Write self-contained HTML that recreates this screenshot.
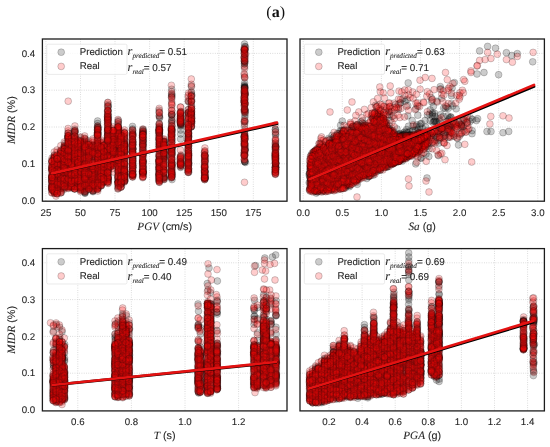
<!DOCTYPE html>
<html lang="en"><head><meta charset="utf-8"><title>(a)</title>
<style>
html,body{margin:0;padding:0;background:#fff}
svg{display:block}
text{text-rendering:geometricPrecision}
.s{font-family:"Liberation Sans",Arial,sans-serif;font-size:9.7px;fill:#262626;stroke:#262626;stroke-width:.1px}
.i{font-family:"Liberation Serif","Times New Roman",serif;font-style:italic;fill:#262626;stroke-width:.08px}
.g{stroke:#c9c9c9;stroke-width:.8;stroke-dasharray:.8 1.5;fill:none}
.k{fill:#000;fill-opacity:.2;stroke:#000;stroke-opacity:.22;stroke-width:.9}
.r{fill:#f00;fill-opacity:.2;stroke:#000;stroke-opacity:.22;stroke-width:.9}
.p{fill:none;stroke:none}
</style></head>
<body>
<svg width="550" height="447" viewBox="0 0 550 447">
<rect width="550" height="447" fill="#fff"/>
<defs><marker id="mk" markerUnits="userSpaceOnUse" markerWidth="8" markerHeight="8" refX="4" refY="4" overflow="visible"><circle class="k" cx="4" cy="4" r="3.4"/></marker><marker id="mr" markerUnits="userSpaceOnUse" markerWidth="8" markerHeight="8" refX="4" refY="4" overflow="visible"><circle class="r" cx="4" cy="4" r="3.4"/></marker><filter id="b" x="0" y="0" width="550" height="447" filterUnits="userSpaceOnUse"><feGaussianBlur stdDeviation="0.7"/></filter><filter id="b2" x="0" y="0" width="550" height="447" filterUnits="userSpaceOnUse"><feGaussianBlur stdDeviation="1.3"/></filter></defs>
<text x="275.7" y="17.2" text-anchor="middle" font-family="'Liberation Serif','DejaVu Serif',serif" font-size="16" fill="#111">(<tspan font-weight="bold">a</tspan>)</text>
<g>
<clipPath id="c0"><rect x="42.4" y="39" width="244.6" height="162.2"/></clipPath>
<path class="g" d="M45.9 39V201.2M80.5 39V201.2M115 39V201.2M149.6 39V201.2M184.2 39V201.2M218.8 39V201.2M253.3 39V201.2M42.4 163.8H287M42.4 127H287M42.4 90.2H287M42.4 53.4H287"/>
<g clip-path="url(#c0)">
<g filter="url(#b)">
<polyline class="p" marker-start="url(#mk)" marker-mid="url(#mk)" marker-end="url(#mk)" points="57.6,185.6 71.6,148.4 132.8,135.2 110.7,143.6 159.3,161.7 143.1,133.5 57.4,176.7 54.4,188.7 101.2,152.8 57.1,172.3 80.6,184.3 142.8,164 68.3,171.4 84.9,192.2 245,94.2 110.8,149.2 244.8,99.1 107.9,170 191.4,114.6 118,178.8 64.3,172.7 275.4,145 188.7,172.2 71.7,175.8 118.5,156.1 60.9,172.5 142.9,171.3 64.6,171.6 64.8,143.4 124.6,147 101.2,154.9 85,141.3 85.1,190.8 113.5,143.1 71.7,171.3 61,188.3 171.7,115 60.9,184.2 121.2,173.4 188.5,170.6 61,182.4 74.8,146.5 78,183 159.4,178.5 244.8,104.1 171.6,122.6 118.2,188.6 188.4,112.3 80.6,151.1 71.6,175.1 159.4,180.7 121,145.3 52,183.5 124.8,151.3 101.2,151.1 159.1,132.7 78,178.5 110.7,153.7 244.5,64 97.6,121 85.1,158.7 159.3,133 74.9,159.1 121.3,171.6 78.3,167.2 121.5,186.4 124.4,167.5 85.2,179.4 180.9,162.9 244.8,46.5 171.7,95.3 108.1,139.1 113.4,148.8 74.9,149.8 97.7,166.9 68.2,136.9 118.1,154.8 159.3,132.9 84.8,172.4 132.8,141.7 191.2,126.9 159.4,179.2 188.4,133.4 68.7,166.8 143,172.2 159.6,118 159.4,175.9 188.4,134.5 110.8,143.5 88.7,162.1 121.2,184.1 57.2,184.3 108.6,126 180.8,121 78.4,145.1 57.3,173.2 64.4,146.8 80.8,174.8 132.6,139.1 191.5,126.8 118.3,182.1 54.7,159.7 244.5,52.1 92.8,148.5 108.1,153 64.4,187.1 244.4,76.9 159.4,169.5 171.7,159.2 54.5,184.2 98,168.5 121.2,164.4 54.4,182.7 101,180.8 244.7,49.8 85,145.2 68.3,177.7 61.1,188.4 52.2,177.1 121.6,158.5 124.5,163.7 118,150.4 89,186.3 121.1,151.2 159.3,157 80.8,166.6 57.4,170.7 171.7,164.7 104,177.5 64.4,170.7 71.9,149.3 132.8,175.6 97.8,149.8 159.5,130.3 64.5,171.4 80.6,142.7 85,185.9 80.7,145.8 85.1,154.4 61,156.1 78.1,155.7 191.3,113.5 93,171.3 75.1,178.7 110.7,153.9 54.5,166.5 171.8,129 77.9,166.7 68.3,153.1 163.7,177.9 97.5,134.3 74.8,129.1 81.1,180.1 85,171.2 60.8,151.2 171.7,148.5 180.7,134 103.7,166.5 132.8,175.4 78.3,182 188.5,135.3 89.1,174.9 244.4,57.1 180.6,167.4 89.2,155.2 64.7,156.3 244.4,86.2 97.9,181.7 80.7,171 54.5,173.2 107.6,135.5 108,120.1 244.6,87.5 85.1,146.7 118.4,147.2 118.2,128 60.9,183.5 244.8,145.9 103.5,153.9 64.6,177.9 244.7,161.8 97.7,129.7 60.8,156.6 171.7,164.9 143.1,147.8 121.3,153.7 191.3,85.9 61,161.8 164.1,144.9 85.2,138.9 171.6,150.8 244.5,105 68.5,183.3 89.1,164.6 143.1,166.1 84.9,178.1 103.7,180.9 57.4,172.3 245,115.3 164.1,156.9 97.7,188.1 143.1,140.5 97.6,123.5 180.5,123.5 180.6,158.9 64.5,186.2 101.2,181 111,149 64.8,159.5 204.8,179.3 113.3,157.4 244.7,135.7 275.8,169.9 57.4,185.8 188.2,165.4 121.1,180.7 64.5,170.2 107.9,154 85,192.8 78.1,149.3 180.8,116 108.1,123.5 108.1,137.2 61,164.8 143.1,153.7 124.5,143.9 108.1,151.4 68.3,136.5 245.1,149.3 275.4,149.3 60.9,165.2 75.1,153.4 89,175.8 80.7,164.3 110.7,149.8 205.2,177.8 244.5,102.4 57.2,185.4 171.7,162.4 121.5,152.2 80.5,156.7 245.4,162.5 68.5,175.5 191.6,121.2 68.3,157.1 85,175 164.2,148.3 97.9,129.5 121.2,160.7 74.9,146.7 245,86.8 85.4,155.4 89.2,179.7 159.4,146.9 244.7,155.5 118.4,137.7 159.6,163.3 124.5,171.1 57.3,187.6 204.9,158.4 93.2,187.9 244.6,139.5 64.5,188 92.7,169.7 97.8,159.4 97.7,180 244.4,85.2 103.8,169.3 92.7,156.9 204.8,178 118.2,137.7 164.2,146.4 143.2,151.2 68.5,151.3 142.9,145.6 180.6,119.2 97.8,167.9 121,181.8 275.7,159.4 97.8,169.1 124.7,146.4 78,182.4 54.6,158.5 132.6,143.9 103.8,164.4 80.7,172.6 181.1,161.1 52.3,166.4 101.1,152.7 110.9,156.6 188.5,153.6 132.6,171 97.7,152.2 85.3,144.4 93,190.8 71.7,178.5 54.3,163.5 80.8,181.3 124.5,175.4 163.8,158.2 132.8,148.7 80.7,186.9 68.3,165.1 88.9,180.7 180.6,130 163.8,142.8 68.4,152.4 52.4,176.8 81,147.1 113.5,139.4 103.7,161.5 80.4,182.4 80.6,143.6 85.1,186.2 75,187.4 93,175.8 159.3,150.3 181,120.5 74.9,162.2 244.7,94.5 98,172.2 275.5,158 68.2,140.3 159.3,169.9 191.7,117 88.7,173.4 93,177.7 107.8,134.3 68.4,140.8 103.7,178.8 142.9,174.1 132.2,174.7 171.7,139.4 180.8,126.1 244.9,161.4 78,156.2 171.9,132.3 74.9,132.5 92.7,147.3 68.8,139.1 68.4,155.2 97.8,127.3 188.4,157.3 61,165.4 101.3,152 54.4,161.1 164.1,144.9 103.8,171.6 85.1,176.2 159.1,110.1 164,141.5 108,111 188.8,163 74.6,147.2 57.5,157.5 110.7,138.8 97.8,159.1 98,156.1 103.9,178.7 61.2,152.3 57.5,181.7 159.3,127.2 72.1,144.9 101.4,161.1 54.5,154.9 54.5,176.5 92.8,152.4 108,179.4 118,134.8 244.9,92.6 118.4,185.3 103.8,157.6 101.3,164.6 89,168 57.4,188.4 80.6,165 188.2,151.2 191.4,115 80.4,150.5 101.3,153.5 132.7,163.1 85,193.3 93,183.1 171.8,94.4 244.8,94.4 103.7,173.2 188.3,162.1 118.5,186.9 54.2,191.9 68.4,181.3 97.7,134.1 61.3,192.5 132.6,129 244.7,136.6 72,171.6 92.7,145.8 163.9,159.6 68.1,160 74.6,131.1 71.3,164.3 68.5,169.2 101.3,185.7 171.6,130.4 60.8,165.9 244.4,61.1 159.4,148.4 159.4,167.2 68.4,133.1 52.2,179.5 121,146.8 108.1,155 74.8,162.7 171.5,148.7 124.4,146.6 188.4,154.7 71.5,149.5 89,179.1 159.6,169.8 188.6,136.7 71.4,174 204.9,171.3 164.1,157.8 163.8,178 107.9,118.7 124.5,137.6 121.1,172.4 68.4,161.5 74.7,132.3 113.4,145.3 78.1,185 92.7,151.4 171.8,148.6 61.3,154.6 124.8,176.3 78.3,168.3 188.3,169.7 75.1,181.1 80.5,159.1 52.2,174.9 74.8,173.6 68.4,182.5 71.7,173.3 110.9,140.5 171.9,117.2 64.5,156.3 171.5,134.6 275.6,163.2 108.1,129.7 80.6,175.8 54.6,177.2 142.9,137.1 84.9,186.7 52.2,185.3 107.8,114.5 89.3,158.5 118.4,120.5 108.1,147.6 68.4,151.1 275.6,134.1 74.9,158 275.7,166.4 124.4,148.7 188.3,131.8 97.9,157.4 71.8,159.1 132.9,148.3 80.5,142.2 171.8,121.4 108,154.4 51.9,181.2 124.5,155.7 108.2,168.1 52.4,169.7 85,179.7 124.6,151.6 57.5,178.7 244.1,136 118.4,182 113.3,160.2 110.7,141.7 142.9,144.9 54.7,166.6 97.8,127.2 118.4,148.4 89.1,187.1 118.4,181.9 64.3,175.6 75.2,169.4 188.6,162.8 191.6,100.4 93.1,151.3 64.4,158.1 188.3,141 71.7,154.2 71.8,169.6 71.7,182.5 164,152 143,144.8 57.2,184 159.2,154.5 80.6,141.1 104,179.1 88.7,149.2 85.3,146.5 103.8,152 159.4,156.5 97.8,181.4 108.2,170.8 204.8,168.2 163.9,150.6 245,112.8 245,109.4 74.8,148.5 103.8,170.3 275.6,162.6 93.1,186.6 61.1,172.4 159.6,117.1 244.8,144.7 107.9,104.3 188.7,160 121.2,153.8 188.7,146 171.8,120.5 142.9,161.3 92.8,179.3 275.8,164.2 85,188.2 164,169.1 101.2,145.5 101.2,151.9 97.9,138.1 110.9,142.9 113.4,143.3 64.6,145.5 71.6,155.2 103.8,148.9 103.9,152.2 64.2,157.7 164,176.7 113.4,144.4 97.7,126 164,179.5 164.1,161.8 107.9,141.3 244.7,88.3 101.2,175.3 188.4,136.2 188.5,151.1 159.6,144.6 132.9,149.2 132.7,134 75.2,186 103.8,172.8 188.4,116.3 71.9,165 108.2,130.9 92.9,179.3 113.5,135.6 132.7,133.5 80.7,169.4 171.9,140.6 124.7,145.6 191.6,118.7 124.6,172.1 132.7,158.3 244.5,61 171.8,176.1 244.5,150.5 191.5,106 113,144.4 171.9,129.5 118.3,139.1 180.6,139 97.5,170.8 118.3,142.4 244.8,117.5 118.2,124.3 275.6,146.4 88.9,159.2 107.9,128.5 78.2,177.9 275.5,148.5 93,147.8 54.5,161.1 181,123 125,157.8 80.5,180.5 80.8,149.4 118.4,152.4 204.9,159.5 132.8,159 204.9,155.3 121.1,146.3 133.1,167.1 107.9,131 113.4,152.2 54.6,180.5 89.1,181.7 132.5,126.4 85,191.3 78.1,147 181,155.9 52.1,189.9 275.4,129.7 159.2,134 60.9,182.8 97.7,130.9 121.3,149.4 75,140.7 143,132.9 108,169.7 275.8,167.7 159.1,156.4 188.4,113.4 143.2,129.4 181,124.3 93,145.2 75,146.8 68.7,186.3 159.5,167.9 172.1,153.4 244.6,161.6 85.2,150.9 132.7,165.3 244.5,102.1 97.9,159.6 54.5,186.8 118.4,128.1 71.9,168.3 132.8,130.9 143.2,131.2 101,178.5 124.6,176 75,179.6 64.9,175.7 97.9,127.8 85,177.2 244.4,110.3 121.2,154.8 101.4,156.9 121,179.6 57.3,172.8 85,182.6 188.5,112.6 188.4,109.6 88.9,173.3 121.5,150.9 74.7,137.1 68.3,150.8 275.5,167.2 75,179.1 74.9,131.2 92.7,186.2 64.5,154.1 164.2,177.2 78,156.3 54.6,189 74.9,182.8 107.8,134 54.7,170.6 68.6,180.1 71.7,160.9 143.1,167.9 74.9,186.8 191.2,113.1 74.7,175.8 107.9,114.9 171.8,176.5 244.5,105.3 171.9,174.1 101.3,152.4 159.3,174.4 78.4,153.1 121.3,164.9 171.5,164.8 244.6,109.6 98.1,167 142.9,144.5 93,147.9 101.3,148.1 180.7,120.9 118.1,140.1 275.5,167.5 89,170.1 172,149.5 68.3,135.5 159.7,173 61.2,169.2 244.4,144.9 78,147.3 84.9,161.1 97.8,132.9 52.1,188.3 121.1,142.1 118.3,171.7 107.9,118.5 101.2,157.3 89,156.1 143,141.2 107.9,177.7 71.8,179.3 204.9,174.6 245.2,111.4 92.9,171.4 103.8,170.7 244.5,63.5 71.6,173.2 74.9,144 244.5,57.4 101.3,183.1 244.9,110.8 71.9,166.9 118.2,181.2 159.5,129.7 75,159.6 188.5,101.8 124.8,145.5 101.3,153.4 142.8,149 52.3,185.6 118.3,158.5 108.1,116.6 132.8,133.9 180.8,124.3 124.5,162.9 113.5,140.1 113.4,161.6 54.5,163.3 121.1,155.6 204.8,155.6 188.2,145.4 113.7,143.2 78.4,143.6 171.6,130.6 85.3,177 245.2,149.2 118.1,155.8 110.9,164.4 108,156.6 89,177 54.6,184.8 97.7,145.1 124.8,179.6 171.8,154.5 108.1,182.3 71.5,173 244.2,50.5 103.7,174.5 80.9,170.5 89.2,185.2 275.5,158.8 61,179.2 54.5,191 78.3,172.5 171.8,147 64.7,154 159.5,131.2 191.5,109.2 275.6,155.4 191.7,95.6 107.8,175.1 51.9,179.4 103.8,180.4 164.1,145.6 64.6,159.8 118.2,149.4 78.1,157.7 64.4,160.3 118.3,156.5 204.9,176.3 68.4,166.7 71.7,156.8 188.4,155.8 61.2,183.1 121.1,153.7 113.1,150.6 124.4,139.1 61.1,162.4 143,161.6 164.1,141.2 54.7,161.2 180.8,163.3 103.8,172.7 110.5,156.2 205,156.4 244.5,44 60.9,181.8 275.7,167.8 159.5,133.4 132.9,172 143,132.2 113.5,136.9 159.4,135.5 64.4,188 52,186.7 85,178.3 107.9,139.9 52.3,175.2 180.7,165.3 92.8,175.3 71.7,181.8 80.7,176.3 142.8,133.1 244.4,87.6 64.7,162.7 118,163 188.5,119.2 107.9,138.1 118.4,141.9 118.2,144 80.5,172.1 171.9,126.4 124.7,181.2 107.8,157.9 159.3,115.7 204.7,164.4 275.6,161.5 93,177.4 188.4,165.1 93,168.3 75.1,178.2 93,154.5 164.1,157 60.9,164.5 57.2,175.3 61.1,171.6 107.8,166.4 159.3,176.1 64.6,148.8 93,147.3 124.8,143.3 118.1,155.7 101.3,154.7 68.5,184 121,152.4 172.1,162.9 89.3,178.2 113.5,157 118.2,141.7 191.6,121.5 80.6,168.8 118.2,150.5 88.8,150.6 188.4,168.6 64.5,146.9 244.8,95.1 110.8,145.2 275.6,146 64.6,171.2 85.4,166.9 74.9,179.6 117.8,176.5 101,149.1 61.1,183.4 80.7,168 89,149.5 121.2,170.1 74.9,181.1 118.4,143.4 68.3,184.6 68.5,164 108,133.2 121.4,165.5 97.9,177.6 188.4,148.5 93,168 80.7,145.2 205.2,161.8 60.9,162.2 118.3,154.7 244.6,139.6 88.9,177.5 108.5,134 75.1,156.7 57.3,183 51.9,189.2 191.6,94.5 89.1,186.5 121.2,174.6 101.2,149 159.4,170.5 181,166.1 244.6,83 85.3,151 75,158.1 77.9,184.3 80.7,159.2 54.4,185.6 107.6,146.5 74.6,150.6 275.4,165.5 80.5,137.7 244.8,54.5 92.8,157.4 163.8,170.4 244.8,136.1 68.4,159.8 245.1,121.8 85.2,181.3 113.4,143 85.3,156.1 110.9,155.3 54.4,186 188.5,136.8 97.7,181.9 244.3,121.4 108.2,151.3 97.8,156.2 275.6,134.9 132.8,157 89.2,154.7 118.5,139.3 80.7,177.7 275.5,147.5 121.2,183.9 97.8,139.2 171.8,157.5 57.2,178.5 92.9,165 244.6,87.4 275.4,129.2 188.8,101.1 205.1,177.9 75,170.6 108.1,107.5 164.1,154.5 171.8,169.4 244.5,138.1 121.2,141.5 275.6,146.8 103.8,158.8 97.6,132.3 171.8,96.3 180.9,125.5 191.4,91.9 54.6,186.2 80.9,188.2 118.2,121.8 78.3,152.5 171.8,152.7 92.9,145.5 143.2,173.9 98.1,187.3 80.6,172.2 71.7,159.3 108.1,139.7 124.6,151.8 89.2,184.8 124.7,180.8 191.6,122.8 57.7,175.4 171.9,135 132.7,161.1 74.8,139.3 188.6,164.9 244.5,126 110.9,163.9 132.7,152.7 108,161 85.1,152.6 188.3,145.4 78.3,151.6 75,180.2 172,179.6 97.9,187.8 57.2,174.7 108,168.6 85.3,168.9 78.3,157.7 159.3,124 101.2,159.1 78.2,179.9 107.8,117.3 143.1,167.7 164,155.7 204.8,177.2 132.8,144.6 191.4,101.2 61,160.5 113.6,139.9 244.6,133.9 159.5,173.9 124.8,173.4 101.1,182 68.4,155 244.5,67.1 118.2,148.1 54.6,168.1 172,166.3 244.5,152.4 124.9,140.7 108.1,134 108,155.7 108.2,139.1 68.4,142.6 110.7,153.6 71.7,176.6 107.9,179.6 101.2,170 180.8,123.4 85.1,162.3 143.2,162 164.3,141.1 244.9,49.4 92.8,159 188.5,155.3 180.9,122.9 101.2,151.3 101.6,178.2 113.3,155.9 159.6,169.7 113.4,161.8 172.1,147 74.7,177.6 171.7,114.7 159.2,143.7 171.8,146.7 171.9,165.3 78,159.5 132.7,165.2 159.5,127.2 85.3,140.2 108.6,130 159.3,164.5 57.2,186.9 275.7,142.9 204.9,171.6 121.3,142.2 188.4,137.5 171.7,131.6 245.5,46.9 118.5,168.2 142.8,130 113.4,137.1 171.8,172.6 188.5,141.7 101.1,179.3 124.5,171.1 103.7,146.6 113.6,139.9 143,142.6 124.4,153.1 164.1,177 97.8,172.2 163.8,157.5 143.2,140.3 132.6,152.2 118.2,181.5 132.6,149.6 54.4,159.1 97.9,161 97.9,159.8 159.4,140.1 52.2,186.9 64.7,147.2 104.1,174.6 244.8,62.6 57.7,189 118.3,132 159.2,159.6 93.4,175 64.5,167.8 97.6,176.9 74.8,181.4 132.8,142.7 188.6,133.1 97.7,158.8 124.5,143.7 244.9,150.4 110.7,141 124.6,158.2 80.8,189.1 132.6,141.7 118.1,132.5 171.8,114.4 108.3,105.9 52.3,170.1 68.3,151.8 171.7,89.2 113.3,164.1 142.9,138.4 120.9,181.5 68.3,138.1 93,191.7 121,154.8 78,162.6 71.5,148.2 74.8,152.8 118,132.3 92.9,190.7 103.7,167.4 108.3,127.8 68.4,145.9 107.9,142.5 124.6,180.7 244.3,91.3 78.1,157.9 71.7,183.9 54.5,170.8 68.5,183.4 121.3,150 80.9,157.8 97.6,151.5 57.3,188.1 108.1,130.4 89,169.4 142.7,172.5 132.6,174.5 57.5,180.9 92.8,178.2 78.2,171.3 244.6,154.6 57.4,174.9 118.4,148.2 61.1,168.8 64.5,152 98,149.2"/>
<polyline class="p" marker-start="url(#mr)" marker-mid="url(#mr)" marker-end="url(#mr)" points="171.6,142.9 78,172.8 244.1,100.6 188.4,155 121,139.5 68.3,186.4 132.1,174.7 124.3,144.1 132.4,174.6 68.2,161.6 80.5,137 132.4,167.3 275.4,172.5 164,158.7 97.5,149.7 107.7,111.4 244.5,89.3 124.4,147.6 68.2,101.2 88.8,167.3 80.4,154.6 54.4,172.6 204.6,167 110.8,165.5 244.6,144 163.9,171.8 54.3,165.7 71.7,149.5 159.1,171.8 68.2,144.3 188.2,172.5 110.7,165.6 163.6,146.8 171.5,137.6 68,177.5 180.4,162.5 68.1,187.8 113.1,148.6 68.2,170.5 107.8,169.9 117.9,149.6 244.4,93.4 244.7,134.9 110.7,144.4 68.3,186.4 132.4,139.1 103.6,164.6 92.7,188.2 68.3,150.7 275.4,163.2 71.5,184.5 97.7,171.2 71.7,160 132.3,157.9 60.6,187 124.4,161.7 163.5,169.6 113.4,139.1 103.3,169.2 164,139 80.5,157.9 71.4,156.9 80.4,170 71.4,145.1 71.5,142 52.1,158 78.1,145.4 97.7,138.1 85.1,168.3 159.2,123.4 118,154.9 89,146 68.2,160.1 204.5,152.3 52.2,189.2 275.6,150 107.5,153.9 142.7,171.4 159.3,172.2 124.3,149.6 132.5,158.5 244.8,56.3 97.5,170.3 113,135.4 61.1,163.6 204.6,167 54.3,177.8 118,144.1 68.2,135.4 142.9,173.6 159.4,137.5 171.9,105.2 61,178 120.8,183.6 275.4,151.5 74.6,158.2 92.7,181.7 77.8,166.3 71.8,144.8 275.5,152.9 113.5,172 118,141.6 57.2,184.8 204.6,178.4 188.2,142.1 74.6,173.6 188.3,113 84.9,158.8 188.4,150.3 68.2,164.1 180.5,157.9 74.9,126 97.4,182.6 52,178.7 132.6,153.1 188.3,95.3 204.7,178.4 103.6,152.8 180.5,107 188.2,154.2 68.5,186.2 124.2,131.9 244.2,141.6 80.5,163.1 159.4,163.6 80.6,164.9 113.1,133.1 84.9,170.7 54.2,160.3 107.8,154.6 159.2,166.6 188.3,154.6 163.8,166.3 124.3,175.7 275.4,155.3 74.5,149 107.8,128.5 159.3,124.2 110.3,157.8 275.4,172.2 67.9,158.2 97.6,162 275.6,147.3 64.2,154 204.9,171.1 163.7,152 164.1,179.4 64.3,182.2 204.9,151 163.3,163.1 108,180 118.2,129.3 110.7,155.4 188.3,168.8 244.9,146.7 124.5,167 77.8,174.6 78,151.7 188.3,151.2 54.1,191.5 121.1,132 80.6,155.9 57.4,171.9 88.9,157.8 171.6,154.6 204.8,172.3 188.3,168.3 57.3,159.9 89.2,168.5 171.6,170.7 124.3,134.6 80.5,189.2 118,181.1 57.3,166.5 108,180.9 88.8,179 74.7,180.1 80.3,153.6 171.6,97.6 80.5,147.4 75.1,154.6 244.2,136.8 61,178.4 142.8,154.7 244.5,145.8 118.2,173.4 92.7,154.7 92.5,167.1 80.5,164.6 171.5,135.6 108,124.7 188.6,126.8 171.7,93.5 191.2,114.3 74.7,138.8 57.3,162.7 158.9,166.5 97.4,142.9 103.6,177.5 74.7,174.7 121.1,147 85,187.8 107.9,160.9 74.5,177.8 103.8,151.9 80.4,187.8 60.9,159.5 89,182 191.3,101.3 110.4,141.8 80.7,169.4 118.2,128.9 159.3,146.4 74.8,188.8 103.5,162 84.8,174.6 204.6,179.6 77.8,166.9 54.4,172.4 80.5,190.3 142.9,174.3 97.7,134.9 64,166.6 188.2,161.1 163.9,178.8 100.8,177.3 71.6,170.3 180.6,114.1 77.9,187.7 121,157.8 121,181.1 84.9,145.6 204.8,172 121.1,166.6 142.6,171.4 84.8,179.6 117.9,159.2 118.4,139.4 77.9,172.2 97.6,150.1 103.4,170.3 191.5,86.7 77.9,174.8 71.4,153.9 80.7,146.5 275.6,163.8 71.5,171.8 80.5,182.8 191.4,112.5 113.1,158.4 275.5,157.2 100.9,155.2 84.7,154.3 52,181 204.7,179.6 124.4,156.7 181,112.2 68.2,179.2 244.1,102.7 244.7,138.4 142.8,129 204.7,160.8 204.9,148 64.2,150 107.5,136.1 159.3,131 159.2,129.7 118.2,129.1 180.5,156.6 85,170.8 84.8,160.3 275.5,155.9 180.8,155 142.8,166.5 244.3,49.9 78.2,183.5 57.2,190.7 57,152.2 132.6,163.9 71.4,160.5 113.5,131.8 88.6,147.2 97.8,165.4 107.9,179 124.5,154.5 68.2,168.7 118.3,181.6 80.6,183.5 60.9,182.9 84.7,136 204.7,173.4 142.9,172 180.7,111.5 71.5,165.8 97.7,167.6 118.1,136.1 163.8,171.3 171.7,175.6 80.4,190.1 163.8,160.1 84.8,191.3 97.6,189 107.8,171.5 84.9,142.3 110.4,142.2 171.6,163 74.6,170.8 188.1,170 92.6,181.4 88.9,176.5 171.4,174.4 101.3,162.1 54.3,176.1 132.5,149 124.3,133 64.1,147.5 54.3,158 275.4,167.2 275.4,157.1 188.3,158.6 54.2,189.8 110.5,155.3 52.3,185.8 110.8,144.6 57.1,192.8 92.5,172.9 74.8,156.9 74.7,136.3 132.5,130 54,182 275.3,174.4 188.4,148.4 142.7,135.8 107.8,135.8 68.1,148.2 60.9,162.7 191.3,110.4 74.9,168.9 180.7,115 88.7,147 92.8,176.9 60.9,181.9 51.9,169.6 110.4,133 124.1,173.7 118.1,165.4 159.2,174.1 107.9,128.4 121,184.1 113.4,132 180.5,164.5 124.2,166.9 113,161.3 80.6,158 74.6,166.8 180.3,119.7 74.7,188.6 244.4,136.7 97.4,179.5 57.4,184 191.2,122.6 78,161.8 57,166.6 57.4,173.4 68.2,174.4 108,163.1 77.9,167.2 244.4,92.2 54.3,193.4 101.1,157.8 64.2,180.6 107.9,162.1 159.2,139.5 121,186.6 64.3,168.8 159.2,149.1 159.2,112 101.1,176 85,167 77.7,180.8 54.1,180.2 188.3,163.7 103.7,159.8 71.4,153.5 110.5,145.3 142.8,139.1 132.6,152.3 92.6,142.1 244.2,145.2 120.9,157.4 54.1,179.2 107.7,120.2 118,162 88.7,183.6 244.1,100.9 85,158 191.1,121.1 101.1,158.2 124.5,144.5 80.5,173.7 171.8,142.3 107.8,117.5 159.1,180.3 74.4,171.8 107.9,177.5 113.4,141.9 113.2,130.1 142.6,135.8 171.5,170.2 71.7,156.1 142.8,143 120.9,176.6 120.9,166.7 80.8,179.4 57.3,161.3 74.7,143.7 118.3,170.1 64.4,167 52,178.3 275.4,154.2 118.1,167.9 110.9,143.1 110.5,165.2 159.2,180.7 163.6,143.9 112.4,168.5 74.9,137.9 163.5,152.2 204.7,168.9 84.9,189.1 120.8,180.2 159.2,146.4 121,169.7 84.8,170.9 244.2,143.6 80.7,168.1 54.4,184.6 64,157.7 92.6,153.2 107.5,173.9 80.5,141.3 188.5,127.4 68.1,145.5 74.6,154.1 74.5,179.6 84.8,166.9 188.2,159.4 77.9,163.3 84.6,138.1 171.3,136.2 68.1,137.5 52.1,162.4 132.4,149.1 60.8,170.2 124.4,145.9 97.4,179.9 88.8,152.1 60.9,166 244.6,143.6 74.9,148.4 88.9,177.1 68.1,131 244.4,153 84.7,184.8 108.1,121.1 54.4,184.1 64.4,163 57.4,193.2 68.3,179.1 171.5,161.7 244.5,61.5 101,163.6 57.4,163.1 113.2,155.3 110.7,149.5 97.5,135.3 51.9,169.2 60.8,145.7 142.9,137.4 132.4,164.2 97.8,168 204.7,166.5 121.1,137.4 67.9,172.4 54,157.5 107.7,145.7 188,166.8 118.5,172.3 244.6,58.6 54.2,157.8 275.5,152.9 60.9,179.6 245.1,50.2 71.5,155.1 132.4,169.4 118.3,158.3 107.9,179 107.9,167.5 244.5,124 118.2,162.9 132.2,135.3 124.6,152 92.9,147.5 124.7,177.9 244.6,143.1 60.6,162.2 244.4,50.1 244.5,88.4 101.3,184 85.1,179.4 117.9,177.6 118.2,133.8 110.3,157.5 171.6,155.2 113.2,128.7 188.2,144.4 64.3,172.3 71.5,169.1 61,186.6 107.6,149.2 107.8,119.2 107.7,151.2 97.5,133.2 88.9,150.3 107.7,154.2 142.7,137.3 71.4,158.7 188,140.1 159.4,138.7 60.9,151.7 77.7,185.6 52.1,181.5 107.8,177.2 110.6,147.4 159.1,139.1 68.1,181.4 71.3,178.6 121,133.5 52,168.9 97.7,157.7 113.4,151.3 64.2,155.5 80.6,162.6 107.7,120.2 159.2,182.1 142.8,159 159.3,181.8 92.8,190.9 97.5,163.4 60.6,169.4 97.5,130.4 88.7,164.6 68,138.1 85,167.9 68.4,142 275.6,162.6 159.2,130 52.2,163.9 121,141.8 52.1,192.6 97.4,141.9 71.6,145.9 57.2,179.1 171.6,172.2 245.6,54.1 118.1,129 142.9,149.8 78.1,160.4 97.5,138.3 68.2,145.8 100.8,183.8 74.7,168.7 118.2,151.5 180.8,119.2 188.5,114.5 54.2,180.2 132.5,136.9 113.1,139.3 163.5,164.1 68.3,184 142.7,160.3 171.6,91.6 275.3,147.1 97.4,153.5 244.4,139.9 92.8,190.5 132.8,136.2 88.8,145.2 107.9,122.9 132.7,177.1 120.9,138.2 110.8,142.7 74.7,142.4 51.9,167.2 60.8,159.8 180.5,163.2 103.5,142.8 71.5,169.3 180.9,119.9 191.4,111.4 60.9,161.7 60.7,150.2 97.3,145.2 54,163.8 80.5,180 132.3,151.8 97.8,163.9 113.2,155.2 88.7,179 64.3,176.5 110.7,164.3 107.8,124.9 171.8,136.2 244,48.6 180.7,122.7 110.9,158.3 64.3,182.1 244.8,138.3 142.8,165.7 97.7,133.6 171.5,108.1 92.5,178 244.6,49.7 243.8,97.6 92.3,155 204.5,167.1 74.6,177.7 88.6,186.3 191.2,112.5 68.3,183.1 121,152.1 120.9,149.2 158.7,176 71.6,155.6 77.9,152.1 171.6,151.4 171.6,177 118,183.2 244.3,121.9 163.9,152.3 92.6,150.6 60.9,172.3 74.5,160.8 88.9,165.5 84.7,154.9 244.4,105.3 124.5,159.1 74.7,150.8 60.9,152.1 171.9,145.7 97.5,181.1 71.7,159.9 74.9,144.7 110.7,152.1 68.3,159.4 118.4,175.8 118.2,184.9 188.1,160 68.2,138.6 124.7,179.1 92.9,167.4 118,144.6 107.7,147.3 159.5,144.6 97.4,186.8 244.5,137.2 74.6,159.8 80.7,181 71.4,167.9 275.3,155.4 108,110.2 191.2,126.5 97.6,152.9 74.8,186.3 244.9,61.4 97.8,168.1 124.7,148 171.6,174.9 159.6,142.3 107.9,102.4 110.6,164.4 124.3,168.1 132.5,167.6 57.1,161.2 74.8,167.5 107.8,132.4 80.3,179.2 171.8,167.6 118.2,182.6 244.5,160.4 171.8,168.8 121,165.5 159.2,159.9 92.7,182.9 85.1,147.2 121,179.8 142.8,142 142.6,151 88.9,152.4 118.4,135.4 188.3,152.9 191.4,84.3 275.3,170 191.6,118.5 244.7,78.1 113.2,142.7 107.6,175.1 244.6,109.6 124.5,132.8 204.7,152.4 188.1,126.8 68.2,133.2 124.6,172.1 132.6,162 275.5,163.1 60.9,184.4 110.6,154.3 100.8,168.6 124.6,149.8 97.5,148.7 244.5,131.6 64.4,152.6 92.7,179.9 78,180.8 101,173.2 54.5,163.2 92.8,176.5 118.1,138.5 107.7,179.8 159.2,125.3 54.3,188.3 80.4,168.4 74.6,148.7 113.3,132.6 68.5,140.4 97.7,187.2 77.8,154.1 64.2,153.1 74.5,185.2 92.7,154.9 132.6,154.1 118.3,140.8 97.5,171.2 80.5,152.8 92.5,149 71.6,186.8 188.4,140.7 110.5,142.1 244.5,133.4 64.1,164.3 64.2,160.4 68.4,140.2 159.2,174.7 71.6,184.6 97.4,141.3 124.3,174.7 89.2,147.6 180.8,112.8 77.9,143.8 132.8,135.6 275.5,158.4 191.3,118.8 88.9,176.1 171.4,148.5 64.1,146.1 120.8,145.2 244.6,159.3 188.4,141.6 180.8,116.5 101,147.7 120.9,156.7 88.9,153 171.5,174.8 71.7,185.1 113.6,135.9 67.9,149.1 103.4,162.9 107.5,166.8 97.3,160.9 89,176.4 107.7,122.5 107.7,125.8 107.9,117.9 60.9,159 51.9,189.7 164,146.6 52,177.5 244.5,53.8 159.3,145.1 188.2,97.1 118.3,146.2 110.2,134.9 52.1,168.2 180.6,107.2 103.4,161.4 80.5,159.1 84.9,151.7 60.6,180.7 54.4,158.6 60.8,184.4 78.1,185.1 113.4,141.3 60.8,172.2 57.1,172.9 101,179 118.1,145.1 85.2,165.2 180.5,116.9 78.2,156.2 244.9,103.8 101,159.8 74.7,144.7 143,172 88.7,151 171.5,129.4 51.9,176.9 118.3,167.4 64.5,151.4 88.9,156.3 88.6,185 163.7,153.3 61,164.3 101,161.4 64.4,167.2 191.2,123.5 204.8,151.1 117.8,144.7 142.7,144.1 158.9,161.1 92.8,185 97.6,164.2 163.8,154.2 188.1,172.2 121.2,180.1 71.4,161 171.3,162.2 101,160.1 143,131.7 204.4,170.7 74.8,164.9 118,144.6 188.2,164.1 142.7,161.7 180.6,161.9 113.2,147.2 71.4,186.8 244.1,153 64.3,149.3 107.7,129.4 244.3,92.1 71.3,177.5 71.5,187 118,154.2 159.4,141.3 244.8,120.8 103.7,146.6 68.2,152.1 77.9,175.5 80.7,173.6 163.8,147.7 191.3,79 80.6,186.7 171.5,165.6 113,142.9 84.9,179.2 120.9,150.5 71.7,179.2 171.7,174.4 101.3,181.8 142.9,169.9 117.9,153.8 97.7,132.5 80.6,178.9 107.7,161.7 142.9,157.5 204.7,161.8 117.8,144.3 60.7,156.9 89,173.9 120.9,175.7 110.4,151.8 275.5,141 132.6,157.5 80.5,145.5 132.4,171.5 124.4,144.3 80.4,179.8 88.9,181.8 124.5,130 60.9,167.2 80.5,176 159.1,178.4 191.5,111.2 124.3,136.3 143,171 60.4,167.4 57.4,175.4 103.5,174.8 275,125 68.1,160.4 244.2,155.6 159.4,112.5 275.5,140.3 110.4,157.9 107.8,102.6 57.2,161.1 132.4,171.1 244.3,159.5 64.6,173.6 103.5,145.4 110.7,155.1 74.4,182 54.2,180.5 204.9,174.8 85,184 107.6,131.7 124.3,143.9 103.7,153.1 68.1,136.9 77.7,144.1 244.3,52.2 118.4,172.2 244.3,101.1 60.8,171.6 142.7,155.2 97.5,129.2 85,143.4 103.6,177 67.9,146.3 110.4,161.6 71.6,188 118.3,154.7 171.6,177.6 159.2,171.3 101.2,157.5 57.2,175.1 68,162.2 78.1,162.7 84.9,151.2 103.3,142 163.8,141.6 78.1,151.8 275.5,174 71.6,155.8 103.5,169.6 88.9,176.9 110.4,150.1 78,177.2 124.4,164.1 204.6,165.3 85.1,152.1 171.6,138.7 103.7,182 107.9,157.7 107.7,116.8 159.3,164.9 117.9,163.9 54.3,189.8 68.4,162.3 118.1,171.6 64.3,181.5 118,127.2 204.5,172.3 64.3,170.7 275.4,169.4 113.1,150.8 159.3,169.7 60.6,171.7 132.4,171.5 64.3,153 124.3,168.1 74.7,147.1 118.3,174.8 101.3,142.6 142.8,169.7 92.8,151.8 57,177 118.1,170.3 60.7,159.8 92.6,143 60.6,153.5 244.2,137.7 75.1,136.4 171.6,150.9 121.2,171.3 142.7,155.7 92.5,172.8 88.7,144.9 97.7,143.8 171.3,177.8 103.6,166.4 107.6,124.6 118.2,152.7 101.1,150.1 244.5,102.2 113.4,153.7 60.5,178.8 244.9,154.7 103.6,176.3 124.6,142.6 97.5,156.4 163.9,172.9 92.8,171.9 84.8,165.7 132.2,151.6 60.9,181.7 84.7,143.1 244.5,95.5 204.6,176 92.9,182 244.5,136 142.9,161.2 60.9,171.6 64.3,161.2 191.2,92.7 180.6,120.8 68.1,166.5 142.6,163.5 71.7,164.2 54.3,165.6 101,179 78.2,150.7 80.6,185.5 188.4,141.3 204.7,175.4 52,183.1 97.6,134 77.9,166.3 64.4,184.5 171.4,134.5 124.4,138.2 120.7,176.6 97.8,147.8 68.3,137.9 244.7,100.1 118.1,160.4 171.7,110.5 124.5,146.1 97.6,143.6 97.5,169.6 78,174.7 118.1,137 101.1,154.9 80.2,180.9 88.9,186.6 71.5,147.9 68.1,166.3 108.1,177.5 118,123.7 180.1,121.2 97.5,156.4 68,181.8 51.8,187.6 97.5,143.2 188.1,100.9 121.2,176.4 103.3,154.1 110.4,144.9 92.8,162.8 68.3,181 159.5,182.3 71.3,186.9 124.5,150.7 118.2,126.8 121.1,141.9 163.7,166.2 88.8,187 57.2,185.6 60.8,179 57.3,161.1 88.6,161.9 142.8,131 118.2,141.9 188.5,153.2 71.5,146 159.2,126.5 159.2,173.5 77.9,140 171.3,151.8 71.3,183.2 97.7,126 107.6,147.6 132.4,170.5 75.1,139.2 124.5,160.9 68.3,135.8 80.3,186.8 71.4,170.5 103.8,151.9 180.7,156.5 101,162.2 159.2,116.1 159.4,142.9 71.7,162.5 188.4,132.5 77.9,144.7 118.2,142.8 64.3,152 78.1,172.5 68.4,136 101.1,154.7 188.6,128.6 88.9,150.3 71.5,147.9 132.6,174 121.1,139 159.3,128.1 88.9,182.4 204.6,178.1 61,170.4 80.8,154.8 159.5,144.2 107.7,159.7 159.2,169.1 124.2,175.3 103.5,166.6 103.7,168.8 88.8,155.6 118.2,157.5 80.7,168.1 103.9,172.8 92.5,184.2 60.7,184.4 54,162.4 64.5,171 163.8,170.1 51.8,192.9 118.1,154.2 171.9,120 84.9,167.2 92.7,170.7 84.6,175.1 107.7,137.8 101.1,166.8 60.8,162.1 204.8,161.1 180.4,118.6 97.6,188.2 92.6,157.4 107.8,175.1 60.8,158.1 121.2,148.4 244.9,48.2 57,158.5 188.5,169.2 103.5,169.9 84.8,177 121.1,156.7 159.2,156.1 163.6,172.7 103.4,145 74.8,151.7 171.8,113.2 77.8,154.9 84.8,173.7 54.2,185.4 92.7,154.1 191.2,95.7 57.2,187 132.5,134.7 97.6,188.1 74.9,186 52.1,167.4 113,160.8 171.7,165.1 204.8,165.3 244.9,98.8 77.7,173.9 171.4,142.9 103.6,179.1 92.7,172.5 159.1,151 118.1,164.3 103.5,156.3 97.9,127.8 101,161.2 52.1,181.1 80.6,146.6 191.1,96.2 118,182.8 71.5,161 132.6,141 107.8,110.4 110.6,160.2 60.7,184.6 191.4,123.6 163.7,173.1 107.6,149.6 84.8,173.5 142.8,171.4 163.7,151.8 159.3,172.2 171.5,129.9 80.4,182.9 101,185.6 88.8,178.4 142.8,137.2 118.2,129.2 188.6,155.2 107.7,149.7 64.4,175.5 57.4,180.8 159.2,130.2 68.2,144.6 163.7,159.2 51.8,170.6 110.4,137.4 57.1,162.3 142.8,134 163.7,153.7 101.2,144.8 142.8,134.5 120.8,138.4 275.3,154.2 171.6,145.4 159,159.6 191.3,106.4 74.7,148.1 142.9,156 57.1,174.1 171.7,153.5 54.3,156.8 107.5,156.6 60.8,170.9 118.1,139.4 103.4,150.1 77.9,171.8 103.8,146.2 60.9,185.5 68.1,162.2 54.2,178.9 121.1,157.8 100.9,159.6 101.1,182.2 118.3,160.4 88.7,180.4 113.2,132.3 124.5,172.7 107.7,151.2 204.8,177.5 77.6,145.1 132.4,130.2 180.4,150 163.9,153 191.4,101.9 188.6,142.6 180.8,165.3 80.5,145.4 57.2,157.7 191.4,125.8 71.7,147.8 275.4,156.2 80.3,183.6 92.8,152.8 142.8,172.6 64.3,179.3 92.8,172.9 71.3,184.6 74.5,174.3 64.2,154.5 159.1,167.6 100.9,172 171.6,166.5 118.1,157.5 57.4,156.3 78.1,178.1 132.5,161.1 124.3,159.3 180.7,115.5 64.3,148.5 113.3,127 113,165.4 159.1,164.1 110.8,149.7 159.1,129.6 80.4,183.2 171.7,150.1 97.6,168.7 110.5,158.4 54.4,168.8 68,170.7 80.4,167.9 57,163.2 92.6,151.6 171.5,171.5 60.9,191.2 113.1,146.8 64.3,159.1 84.9,184.5 132.5,176.8 142.9,160.5 108,130.1 64.2,151.6 110.6,144.1 85,146.9 171.4,170.4 275.4,167.8 120.8,182.5 110.6,146.5 88.6,187.7 163.9,163.2 244.3,141.1 80.4,160.6 163.5,142.9 71.3,182.8 121.1,135.1 124.4,176 68.5,186.8 120.9,148.5 124.4,166.1 132.6,167.9 103.8,154.8 124.2,164.3 204.6,162.4 84.9,166 92.7,169 85.1,147 78.1,163.2 113,149.9 124.1,156.6 275.4,171.4 77.8,154.2 110.7,166.5 244.7,143 64.4,154.4 97.8,145.7 92.7,186.7 159.1,131.8 85,181.1 143.1,153.8 68.1,148.6 171.5,135.9 78.2,159.8 275.2,171.7 60.7,174.7 71.6,164.6 80.3,167.5 171.6,139.3 67.9,135.8 118.2,133.2 107.8,166.6 132.3,148.3 121,143.1 142.8,173.3 77.9,159.1 108,123.4 64.3,152.8 113.1,162 107.8,156.1 107.7,130.2 171.7,173.1 244.2,73.6 191.5,108.5 54.5,165.7 159.4,143.5 97.8,132.4 124.4,181.2 74.9,148.9 107.8,165.3 103.7,182.3 78.2,151.4 275.5,139.5 85,161.1 71.6,154.2 57.1,156.7 64.2,179.1 143.1,176.6 159,162.9 64.1,181.8 75,171.8 142.8,140.6 88.9,175.4 159.1,128.8 64.2,154.1 124.6,150.1 54.3,176.1 54.4,187.4 118.1,159.9 68,164.2 80.6,177.4 113.2,139.9 107.8,105.9 78.1,167.2 191.1,119.4 159.2,174.1 244.5,66.2 164,147.5 84.9,142.2 118.2,185.9 142.8,135 180.7,111.6 180.5,166.7 60.5,163.3 132.6,160.6 71.4,165.2 60.6,162.2 84.7,139 171.8,125.9 74.7,139.1 52,188.1 124.2,140.7 113.1,135 120.9,144.5 57.2,172.2 80.4,166.4 107.9,114.2 98,158.9 68.3,151.8 124.5,146.1 107.8,140.4 68.2,185.7 85.3,146.5 80.5,158 75,150.6 132.3,173.8 244.6,119.9 120.9,176 54.4,183.6 143,163.4 107.8,114.9 92.7,189.5 97.8,191 142.7,150.1 97.5,154.4 88.8,155.9 121.1,164.8 159.1,168.7 101.2,147.8 159.1,167.5 171.5,162.4 60.6,170 97.6,189.4 92.7,179.1 78,155.1 158.9,161.3 171.5,152.1 188.1,148 159.2,162.1 110.8,151.3 97.5,156.6 188,144.1 191,112.7 74.6,175.3 171.4,128.1 80.6,155.5 80.5,159.2 54.3,174.4 78.1,149.9 80.7,173.2 54.4,157.2 107.7,110.2 188.1,122.9 188.3,157.7 113.4,139.3 97.6,175.9 101,161.8 97.6,147 80.6,189.1 85.1,158.3 77.7,187 88.6,168.5 113.3,149.1 101,143.4 97.4,153.6 171.7,101.8 53.8,182.1 57.3,158.9 92.7,169.4 71.6,164.3 97.8,174 180.1,159.6 188.2,120.9 52,175.9 97.6,181.3 191.3,115.8 92.6,150.7 110.5,158.4 88.8,143.2 92.9,176.8 92.8,162.6 110.6,162.8 107.9,174.1 57,150 84.9,146.5 132.6,151.9 101.5,161.2 118.2,178.4 275.3,167.4 118.4,159.9 64.5,179.3 60.9,165 118.5,169.3 97.8,144.3 80.5,142.9 163.9,177.9 51.8,166.1 110.7,164.2 78.1,169 188.5,117.9 188.5,112.6 92.9,188.8 74.7,158.1 88.6,172.8 84.9,155.9 121.1,178.7 191.5,108.4 120.8,141.5 56.9,188.9 132.5,175.3 245,58.9 71.3,146 100.8,173.9 244.6,149.2 60.8,157 124.4,134.9 132.5,175 113.1,150.2 60.8,157.2 244.9,129.6 60.9,164.8 180.4,112.9 107.9,111.3 68.2,187.7 204.8,154.4 57,165.3 191,113.9 71.8,165.7 107.8,172.8 54.1,171.3 78.1,166.2 171.7,110.7 121,141.3 107.8,181.7 64.1,155.3 113.5,130.6 88.8,184.2 163.9,170.2 118.1,157.5 92.6,156.1 132.5,159.6 92.7,172.4 64.4,162.3 54.3,152 121.2,152.2 100.9,153.9 107.8,149.9 77.8,155.3 188.1,109.7 74.6,152.6 163.6,148.2 68.5,158.5 92.8,185.7 56.9,188.4 142.7,164.1 142.8,146.9 118.2,127.8 124.2,169.9 74.6,177.7 132.8,145.6 80.6,182.6 107.9,167 54.1,191.3 100.9,174.2 171.6,132.5 191.1,126.7 188.3,163.6 188.2,132.8 103.5,145.2 68.2,166.1 100.7,161.5 78,177.9 171.5,159.5 159.3,179.3 92.9,184 97.5,166.8 163.9,166.2 244.4,97.7 107.9,139.3 64.4,148.9 97.7,173.2 60.8,184.5 171.5,138.3 124.3,180.4 74.7,141.9 51.7,160.3 68.2,173.9 180.6,116.6 108.1,157.6 132.6,174.1 113.3,142.4 113.2,153.9 121.3,149.6 180.8,164.9 101.1,164.1 80.5,143.5 124.5,175.7 71.4,182.1 74.3,142 188.3,158.5 180.7,124.2 142.8,176.9 107.9,161.3 92.8,183.9 71.6,181.1 191.2,104.7 188.5,136 118.1,160.7 171.6,131.1 74.8,161.3 84.7,148.7 188.7,122.7 67.9,138.1 188.2,143.4 188.2,129.1 124.5,173.2 204.6,155.2 80.8,161.9 204.6,177.3 84.8,168 54.3,193 71.6,145.9 57.4,161.6 143,172.7 88.7,141 103.5,163.2 124.3,170 118,119.5 118.2,144.8 107.7,106.7 64.3,170.3 64.4,178.5 84.7,146.3 120.8,178.6 101,166.5 159.3,149.8 191.2,120.4 188.4,133 74.6,170.3 159.2,160.1 88.8,179.1 191.2,121 97.5,170 108,182.9 132.4,144.6 204.6,156.7 159.1,160.2 142.9,176.2 103.6,158.8 80.5,140.7 51.7,162.1 159.2,137.4 118.2,134.6 245,150.9 101.3,169.1 88.8,156.4 85.1,178.4 54.1,187 103.7,161.2 103.6,147.7 84.8,176.6 275.5,169 164.1,152.2 159.1,131.4 163.7,155.4 57.1,190.8 142.9,169.3 54.2,178.7 132.5,163.3 142.9,134.5 159.2,178.9 132.8,161.3 132.8,167.4 159.2,155.7 103.5,179.9 74.7,186.6 245.2,103.4 124.4,164 121,138.6 80.8,162.8 205,160.6 117.9,165.3 121,164.8 275.1,153.2 97.7,171.8 191.3,117.7 171.4,166.3 244.6,93.5 163.7,142.2 92.7,176 92.6,172.8 108,138.4 57.2,182.8 124.6,133.3 97.5,135.4 92.8,186.1 56,196 121,135.2 118.2,126.2 113,137.1 142.7,177.7 180.8,118.2 163.8,166.8 132.7,169.9 89,172.3 118.2,134.6 80.3,159.4 92.6,144.9 132.7,139.9 163.9,146 163.8,153.3 71.3,157.7 107.7,155.2 107.9,113.4 188,150.2 118.2,121.9 97.7,162.4 74.5,188.7 84.8,173.3 171.5,171.8 97.9,178.9 57.1,190.6 132.7,151.2 171.5,134.4 124.4,171.8 275.3,173.8 188.2,161.8 71.6,175.3 275.6,131.7 171.6,148.8 275.7,163.2 54.1,191.2 132.6,165.3 188.3,116.6 188.3,156.4 107.7,177.7 159.2,174.3 97.5,161.2 188.2,158.2 244.7,89.1 92.8,182 107.5,139.1 92.9,145.6 275.4,154.9 107.5,181.8 117.9,140 244.2,154.7 191.4,96.4 92.5,164.5 80.7,171.9 54.4,176 171.7,142.4 64.3,142 159.4,167 142.7,162.9 171.7,152.3 54.6,160.4 92.6,177 60.8,153.9 74.9,177.3 52,176 275.4,173.5 51.9,184.7 118.2,162.9 121.2,181.2 171.7,103.2 68.1,183.4 101.1,173.6 60.7,192.8 54.2,163.1 118.1,136.2 159.7,177.5 74.6,140.1 97.7,159.5 68.2,178.4 88.8,144.9 113.2,150.5 101.1,161.7 159.3,169 78,176.1 107.7,120.8 113.2,151 158.9,135.7 85,160.1 80.5,182.1 88.8,144.6 52.1,161.2 54.4,178.4 107.6,116.7 54.4,190.5 84.8,158.8 101,140 118.2,132.9 142.7,137.3 97.6,177.3 71.5,179.9 121.1,141.1 97.7,168.7 188.4,124.9 57.1,164.6 118.3,130.3 88.8,179.9 74.5,152.2 88.6,186.7 68.3,169.6 68.4,158.9 113.2,130.9 64.1,172.2 74.8,155.7 171.6,155.4 163.9,149 159.3,129.5 110.5,157 188.3,157.1 120.9,151.9 204.7,171.7 171.6,177.1 101,165.6 92.5,147.2 57.1,173.9 159.4,136.1 64.4,162.2 188.4,145.8 121.1,150.2 97.3,189.3 117.8,188.9 245.1,93.5 171.6,165 74.6,188.6 244.5,49.6 80.5,141.9 275.8,146.7 188.4,144.2 107.8,136.7 80.5,171.4 71.7,175.1 56.9,193.8 64.3,186.6 132.7,174.7 97.5,159.4 163.5,143 132.5,176.5 88.9,163.1 74.6,149.6 97.4,183.1 74.6,179.1 110.5,163.5 159.3,142.5 101.3,185.7 244.9,103.4 188.5,139.5 204.6,170.4 142.7,156.8 74.5,169.6 180.6,113.9 75.1,179.1 77.9,158.5 60.9,187 163.9,139.7 124.7,152.7 107.8,176.3 113.3,159.1 171.9,172.9 204.8,158.5 85,163.9 171.6,160.2 97.5,167.6 54.4,167.8 124.1,176.5 132.4,152.6 71.4,185.5 132.6,142.8 68.3,141.7 171.8,130 142.9,171.6 121,148.7 180.7,163.6 171.8,98.9 71.4,183.2 159.1,139.2 188.5,168.7 120.8,164 103.7,145.5 80.5,176.4 54.4,186.9 124.4,178.6 171.5,173.5 163.8,169.5 107.9,177.3 93,184.2 74.9,174.6 124.5,177.2 121,153.5 97.5,182.5 103.6,151.9 103.5,167.4 92.8,139 107.7,135.4 244.3,111.9 85,166.6 77.9,144.6 275.3,160.9 159.3,140 142.8,162.1 103.8,174.3 57.1,169.8 188.3,117.9 204.8,171.8 80.4,168.4 74.6,160.6 71.4,163.9 103.5,170.9 101.1,160.2 188.3,155.7 124.1,136.6 92.8,179.5 80.4,178.6 57.6,174.6 244.3,155.5 113.2,154.2 68.2,156.7 113.3,163.9 110.7,157.9 57.3,159.5 51.9,180.6 124.5,171.7 132.7,154.8 92.7,164.1 84.9,176.5 101,171.9 121,175.7 188.3,165.5 78,173.4 163.7,146.4 54.1,155.9 51.9,177.1 244.4,110.6 92.5,187.1 74.8,132.3 107.9,178.3 275.5,159.2 113.2,142.1 118.2,144.6 97.6,156.7 52,161.1 142.9,153.7 113.3,148.5 60.7,157 132.4,164 108,141.1 132.5,144.6 171.9,123.8 54.6,192.6 188.3,140.3 120.8,187.3 54.1,181.4 188.3,119.5 52,165.9 64.4,154.1 121,142.2 188.3,171.9 54.3,191.2 88.8,188.5 171.7,163.4 275.4,170.1 275.5,163.4 60.7,173.8 124.3,176.9 121,163.2 71.6,186.2 124.1,174.1 142.9,168.6 159.1,153.9 124.4,150.5 188.4,126.2 74.6,156.3 159.1,130.2 71.1,183.9 51.9,186.4 124.6,164.4 171.6,97 68.3,180 57.3,163.9 142.9,134.8 142.9,152.6 244.5,150 78,148.8 117.9,127.1 120.9,136.8 68.1,128.5 188.4,156.4 75,130.4 180.5,163.5 74.6,178.8 107.8,149.9 84.9,144.4 132.7,144.3 121,144.6 57.3,191.7 120.8,176.9 132.4,139.7 92.7,185 57.2,174.3 68.3,172.7 101,184.8 74.8,144.4 190.9,113.8 107.9,169.7 68.2,173.5 121,179.1 244.5,182.3 108.1,183.5 121.2,158.7 180.5,163.6 71.5,151.6 113.2,165.5 64.3,172.1 100.9,156.5 84.7,173.1 68.1,143.2 64.3,158.6 64,169.5 180.6,121 97.6,164.9 142.7,159.9 68.2,163 68.1,162.2 121.2,177.8 132.4,147.3 54.2,158.4 159.3,180.9 171.4,85.3 107.5,181.7 107.9,160.9 113,133.4 107.6,155.8 180.4,164.3 244.4,74.9 74.7,136 204.7,178 74.8,178.9 97.7,154.2 84.9,192 103.7,151.2 142.8,153.8 78.2,150.5 60.8,183.6 64.2,186.7 188.2,129.3 101,172.7 88.9,154.3 88.8,189.2 80.4,187.4 93,169.6 243.9,57.5 68.4,181.9 88.9,157.6 97.4,186 97.7,185.4 92.8,162.3 113.3,139.5 52.1,186.5 97.6,145.8 171.3,171.9 142.9,166.3 74.6,181.6 132.1,145.9 117.9,183.1 113.2,159 78.2,155 188.1,171 180.3,122.5 74.9,170.4 244.7,96.2 244.3,155.9 204.9,156.6 92.9,174.7 80.2,187.7 171.7,125.8 84.8,157.4 191.4,99.2 64.2,167.9 121.1,153.8 93.1,185.3 124.1,175 84.8,177.9 124.5,169.9 85,170.7 132.4,132.4 275.4,132.4 244.6,144.2 107.8,169.7 84.9,176.8 101,150.2 204.9,174.9 101,152.8 68.3,162.6 180.7,162.4 171.3,137.3 121.2,178.4 92.7,168.5 84.8,150.2 113.3,144.5 113.3,130.6 120.8,183.2 88.9,159.8 275.2,156.6 101.1,165.1 159.2,174 74.5,150.1 159,175.8 88.7,156.1 245,112.7 118.3,154.8 57,158.9 71.4,183.6 171.9,175 275.5,138.6 78.2,178.2 124,147 52.2,167.9 180.6,158.3 64.5,156.3 78.1,156 97.8,135.9 97.9,130.1 275.4,172.3 88.7,174 244.4,53.8 54.3,171.8 57,155.3 171.6,147.6 78,153.3 124.4,182 124.2,137.9 71.5,181.4 188.1,137.9 52,172.8 204.8,167.2 108,140 103.4,167.6 100.9,147.6 244.4,106.6 163.8,172.3 107.9,171.6 107.9,129.4 54.5,171.8 103.8,157.6 85.1,186.2 100.8,176.6 57.2,193.5 101.2,148.9 88.3,172.4 100.8,163.2 244.7,94.9 107.9,130.1 68,133.3 204.7,167 103.5,174.1 188.2,124.7 68.3,178.9 107.8,119.3 60.9,150.9 57,155.3 159.1,132.7 163.7,162.3 74.7,152.7 92.9,152.4 100.9,170.1 85.1,164.1 163.6,153.5 118.2,157.4 107.7,162.3 275.5,153.4 121.2,136 180.3,113 124.3,169.8 107.7,127.7 68.3,162.1 110.3,149.3 120.9,137.5 84.9,185.4 124.3,162.7 163.9,164.6 244.5,96.7 171.6,158.1 244.3,98.3 171.5,128.3 103.6,178.5 88.8,189.1 103.8,156.6 244.6,68.8 118.1,166.7 74.8,147.9 71.4,180.6 142.8,146.6 204.5,178.2 84.9,172.2 54.3,164.2 52,187.3 171.3,129.2 74.8,180.8 143,172.2 107.6,140.5 60.8,153.7 78.1,143.6 188.5,127.2 85.1,147.5 60.8,192.8 120.8,139.6 71.4,174.7 275.7,149.3 275.4,157.3 110.7,148 97.8,129.2 121.2,155.3 80.5,165 101,167 275.2,159 97.5,135.1 92.6,140.6 85,183.5 52.2,161.4 164,147.4 142.7,144.8 74.9,160.7 121.2,182.3 120.9,151.9 68.2,150.1 244.4,60.4 245.1,91.1 74.6,170.9 107.9,166.9 120.7,187.3 89,185.3 78,153.2 97.7,183.7 71.4,141.8 60.7,158.6 88.9,151.8 188.7,93 191.4,108.6 80.8,180.7 188.2,128.1 52.2,190.3 163.7,150.4 124.2,144.7 187.9,142.2 78,146.1 132.7,165.8 244.6,100.1 97.2,149 121,169.3 78.1,161.7 74.6,143.9 60.4,170.9 188.4,133.3 107.8,146.1 54.4,173.9 57.1,189.5 64.2,183.5 142.9,136.9 159.2,108.4 92.6,166.1 97.6,153.6 171.8,159.4 60.9,178.7 68.2,151 159.1,177.1 57.1,193.7 159.3,141.8 159.1,161.8 52,189 85,179.2 52,180.9 118,158.1 60.7,158.2 103.8,151.9 52.1,170.7 100.9,146.8 188.3,137.9 78,159.4 71.6,138 275.4,160.5 180.5,118.1 163.8,142 100.9,164.3 88.6,152 124.5,176.9 84.6,185.1 52,175.2 103.5,163.6 64.4,159.2 159.2,177.8 64.4,170.4 103.6,171 164.1,145.7 103.6,162.6 188.2,163 121,148.2 74.5,142.1 275.3,169.3 52.1,177.3 204.7,155.5 52.2,169.9 113.4,152.5 244.4,90.5 171.7,176.7 80.5,157.9 51.9,177.5 92.6,152.6 84.5,174.5 103.7,163.4 68.3,188.5 107.8,173.1 118.2,126.9 191.4,121.2 80.5,191.6 57.1,169.8 77.8,163.8 180.3,161.9 124.7,133.2 64.5,161.3 159.2,146.5 88.6,182.9 244.8,77.2 80.4,153.5 118.3,152.3 180.7,157.4 57.5,182.5 68.3,150.5 100.9,176.7 132.5,162.9 171.7,104.4 101.2,185 188.5,153.3 68.3,155.6 163.7,144.3 164,148.3 159.3,113.2 88.6,150 97.6,135 71.7,164.9 103.6,179.4 85,178.9 113.4,130.4 275.2,143.2 88.7,157.6 191.4,118.7 159.2,138.2 132.5,173.8 68.1,157 103.8,166.8 78.3,140.7 92.8,163 74.6,156.8 64.1,165.8 74.6,189.1 64.3,189.2 88.7,174.3 171.5,133.7 171.7,114.7 64.4,186.1 244.6,109 118.2,160.4 77.9,162.5 103.6,181.4 113,145.4 180.7,165 180.8,119.9 92.6,154 188.4,124.4 118,176.3 132.4,145.7 57.2,159 188.1,133.8 77.9,180.7 57.1,184.4 74.6,172.7 110.7,166.9 188.4,129 101.3,179.4 163.9,144.8 180.4,121.7 85.1,165 71.2,174.8 142.9,177 191.4,101.6 124.4,149 118.1,142.1 245.2,138.9 74.8,130.9 88.6,161.3 124.2,171.5 132.7,160.1 103.5,178.1 74.8,154 97.4,140.3 121,154.4 57,158.7 107.6,172.6 80.8,186.6 74.8,174.7 132.7,142.1 163.6,164.9 107.9,165.1 118.2,187.9 64.1,168.1"/>
</g>
<g opacity="0.38" filter="url(#b2)"><path d="M52 165V190.5M54.3 160V192M57.2 158V191.5M60.8 155V192M64.3 151V187.5M68.2 139V186.5M71.5 146V186M74.7 135V187M78 147V185.5M80.5 145V189.5M84.9 145V190M88.8 148V187.5M92.7 146V188.5M97.6 133V188.5M101 147V183.5M103.6 149V181M107.8 114V181.5M110.6 141V164.5M113.2 134V163.5M118.1 130V186.5M121 139V185.5M124.4 136V180.5M132.5 136V175.5M142.8 135V175.5M159.2 130V180.5M163.8 145V177.5M171.6 132V176.5M180.6 113V124.5M180.6 159V165.5M188.3 126V170.5M191.3 112V124.5M204.7 154V178M275.4 144V172.5M244.5 52V59M244.5 92V110M244.5 140V158" stroke="#a80808" stroke-width="5.4" stroke-linecap="round" fill="none"/></g>
<path d="M52 173.6L277 123.8" stroke="#000" stroke-width="2.7" stroke-linecap="round" fill="none"/>
<path d="M52 173.4L277 122.6" stroke="#e41212" stroke-width="2.7" stroke-linecap="round" fill="none"/>
</g>
<rect x="46.7" y="44.2" width="80.3" height="30.2" rx="1.6" fill="#fff" fill-opacity=".8" stroke="#dedede" stroke-opacity=".8" stroke-width=".8"/>
<g filter="url(#b)"><circle class="k" cx="61.2" cy="52.2" r="3.4"/><circle class="r" cx="61.2" cy="66.4" r="3.4"/></g>
<text class="s" x="79.8" y="55">Prediction</text><text class="s" x="79.8" y="69.2">Real</text>
<text class="s" x="127.6" y="55"><tspan class="i" font-size="12.4">r</tspan><tspan class="i" font-size="7.2" dy="3">predicted</tspan><tspan dy="-3" style="font-size:9.9px">= 0.51</tspan></text>
<text class="s" x="127.6" y="70.8"><tspan class="i" font-size="12.4">r</tspan><tspan class="i" font-size="7.2" dy="3">real</tspan><tspan dy="-3" style="font-size:9.9px">= 0.57</tspan></text>
<rect x="42.4" y="39" width="244.6" height="162.2" fill="none" stroke="#1c1c1c" stroke-width="1.3"/>
<text class="s" x="45.9" y="215.7" text-anchor="middle">25</text><text class="s" x="80.5" y="215.7" text-anchor="middle">50</text><text class="s" x="115" y="215.7" text-anchor="middle">75</text><text class="s" x="149.6" y="215.7" text-anchor="middle">100</text><text class="s" x="184.2" y="215.7" text-anchor="middle">125</text><text class="s" x="218.8" y="215.7" text-anchor="middle">150</text><text class="s" x="253.3" y="215.7" text-anchor="middle">175</text>
<text class="s" x="35.2" y="203.8" text-anchor="end">0.0</text><text class="s" x="35.2" y="167" text-anchor="end">0.1</text><text class="s" x="35.2" y="130.2" text-anchor="end">0.2</text><text class="s" x="35.2" y="93.4" text-anchor="end">0.3</text><text class="s" x="35.2" y="56.6" text-anchor="end">0.4</text>
<text class="s" style="font-size:10.8px" transform="translate(15.4 120.1) rotate(-90)" text-anchor="middle"><tspan class="i" style="font-size:11.2px">MIDR</tspan> (%)</text>
<text class="s" style="font-size:10.8px" x="164.7" y="229.5" text-anchor="middle"><tspan class="i" style="font-size:11.2px">PGV</tspan> (cm/s)</text>
</g>
<g>
<clipPath id="c1"><rect x="300" y="39" width="244.4" height="162.2"/></clipPath>
<path class="g" d="M303.2 39V201.2M342.3 39V201.2M381.4 39V201.2M420.5 39V201.2M459.6 39V201.2M498.7 39V201.2M537.8 39V201.2M300 163.8H544.4M300 127H544.4M300 90.2H544.4M300 53.4H544.4"/>
<g clip-path="url(#c1)">
<g filter="url(#b)">
<polyline class="p" marker-start="url(#mk)" marker-mid="url(#mk)" marker-end="url(#mk)" points="398.6,155.1 396.6,143.9 328.2,145.9 407.4,144.8 332.6,185.3 404,139.4 378.6,160 422.8,134.9 365.4,166.9 315.6,161.3 418.7,147.5 344.7,142.9 360.6,176.3 405.2,144.2 397.1,153.8 345.8,160.7 354,151.9 396.6,147.1 420.5,140.3 506.4,52.7 379,124.3 403.7,135.7 402.3,144.8 340.6,125.2 412.8,130.7 322.3,169 413.5,149.4 413.1,144.3 450.2,130.9 314.4,159.3 408.5,126.2 325.1,161.9 374.1,141.3 338.9,141.5 339.5,183.2 311,166.2 365.3,136.4 333.7,143.1 313.4,163.9 346.6,136.3 311.2,171.7 353.5,139.7 445.5,135.5 393.8,149 332.9,183.7 404.5,138 382.4,143.4 345.2,145.4 350.1,175.2 367.9,153.9 378.7,156.2 314.6,151.1 429.2,135.5 366.6,141.6 394.2,141.9 346.1,172.9 344.9,129.6 400.3,149.4 351.9,127.8 438.6,143.2 410.3,142.3 401.8,149.3 401.2,149.3 408.2,132.7 357.6,136.8 368.9,176.6 386.6,130.6 319,177.1 405.3,150.9 394.9,148.2 383.7,119.3 418,106.2 397.7,145.1 385.1,132.3 402.9,140.4 397.7,150.9 325.3,152.1 394.4,159.6 319.7,176.2 421.5,144.8 358.5,157.7 463.6,119.2 361.5,153.5 393.8,142.1 366.6,143.2 407,149.4 397.8,134.4 398.5,153.3 355,139.1 422.5,128.3 430.2,109.9 374,118.5 464.2,130.9 368,169 396.8,147.5 378.7,145.8 420.3,123.9 397.5,143.5 357.7,124.4 341.2,149.1 386.5,138.6 388.3,153.5 410.1,148.2 394.2,146.1 421.5,135.1 407.8,144.6 368.1,138.7 346.3,185.6 398.6,138 327,160.4 372.5,117.8 326.8,189.4 310,176.8 335.9,158.9 330.1,147.2 403.4,149.8 401.5,157.3 321.2,182.4 421.4,158.2 359.9,164.1 369.3,137.3 309.1,174.1 338.9,155 349.2,183.2 342.4,135.7 374.2,150.5 406.5,141 385.7,153 401.1,157.9 326.7,158.3 338.9,181 395,148.8 377.9,152.3 401.2,157.1 369,145.4 332.1,149.8 346.8,166.1 381.9,162.3 387.1,166.7 323.4,173.7 364.5,147.9 385.7,134.6 360.1,150.5 425.7,143 326.2,186.3 339.7,137.5 344.2,156 392.2,155.9 340.5,155.6 318.3,162.8 326,162.7 440.9,89 362.7,143.8 425.7,127.2 333.1,147 376.3,130.8 402,148.8 348.4,136.2 336.8,156.7 392.6,150.7 353.3,160.9 410.4,139.3 384.4,150.3 395.9,149.5 406.6,129.6 400,138.3 377.7,159.5 330.6,166.3 347.7,179 375.8,154.5 375.5,105.3 390.5,153.9 334.8,173.1 398.6,147.7 397.3,156.1 314.3,153.4 367.8,135.9 434.6,113.3 363,156.7 331.5,169.6 366.7,134 394.8,158.3 340.8,165.6 382.1,138.3 397,151.6 405.4,154.5 317.5,164.9 403,155.4 329.5,163.4 331.2,145.3 397.9,141.5 323.9,151.6 333.3,168.7 344,176.8 456.1,108.8 313.2,162.7 368.7,130 378.9,128.9 388,162.7 416,126.7 330.1,139.7 391.2,139.5 400.6,144.2 416.9,143.5 402.7,144 413.6,142.6 341.2,150 405.9,142.6 337.1,182.4 346.1,146.7 416.7,144.8 349,152.5 319.1,170 409.8,153.3 391.9,144.3 397,139.5 405,101.3 347.9,181.6 470,121.5 333.8,179.4 309.5,189.8 402.6,146 359.8,176.3 356.7,163.8 397.6,142.9 417.2,150.6 376.2,141.4 378.5,141 313.8,188.2 419.1,132.9 379.1,168 413.7,141.3 365.6,127.4 439.8,128.1 368.7,138.1 377.1,123.8 386,134.4 409.6,140.4 383.3,118.2 377.7,153.8 343.9,138 377.4,132 453.8,136.1 346.3,159.7 387.8,157 458.5,145 317.2,150.5 319.1,181.1 312.6,178.4 309.8,171.7 363.5,126 417,135.3 328,158.3 367.9,154.9 378.6,150 318.3,159.2 400.3,136.9 397.5,155.5 354.5,141.1 319.2,167.1 310.4,179 359.4,156.6 407.3,145.7 401.6,156.9 341.1,136.6 399.4,139 451.2,127.2 392.1,116.3 388.8,157 380.6,158.6 404.9,151.6 355.5,154.5 357.3,184.3 357.3,132 411.2,141.6 359.2,178.3 503,132.7 386.9,135.1 349.8,149 413.3,143.4 341.5,133.7 390.3,136.7 325.7,177.7 410.3,134.8 404.8,153.6 343.7,148.4 346.9,184.6 346.6,180.6 327,147.3 452.1,88.2 341.7,134.2 350,170.6 359.1,150.9 340.2,166.8 407.6,152.9 354.3,174.3 444.6,136.3 315.4,183.8 375.5,121.6 341.4,138 472.2,130.6 326.1,163 339.6,142.5 390.1,155.2 393.2,138.7 404,146.1 384.4,151.5 341.3,149.6 495.5,48.2 416.9,135.1 370.9,154.4 395.9,149.6 421.8,135.3 323.3,154.1 326.3,173.8 413.7,148.9 334.5,164.2 330.6,166 314.4,160.1 418.7,143.6 330.3,182 371.5,155 394,150.2 349.8,167.9 335.9,159.3 330.9,177 309.2,182.7 426.8,136.7 378.3,126.1 364.1,154.6 427,178 381.8,121 390.8,164.6 398.7,154.8 356.4,169.6 316.4,154.3 359.2,128.3 376.8,144.7 476.4,120.6 337.4,145.5 357.9,178.4 364.5,165.3 376,163.9 315.9,156.9 316.3,173 364.9,159.6 389.2,147.7 393.8,141.1 400,157.8 401,142.8 391.5,161.7 346,174.3 384.1,148.2 335.8,153.5 349.9,175.2 417,147.8 445.5,125.8 353.2,172.8 346.2,179.8 311.2,177.8 309.6,173.5 410.3,150.6 410.3,153.4 350.4,145.2 343.1,181 319.6,166.2 316.5,159.7 442.4,126.8 328.9,173.7 414.6,138.4 446.7,125.4 332.9,153.5 378.9,153.8 388.6,139.2 395.7,151.6 341.8,166.1 415.7,144.5 353.2,173.4 397,150.2 327.2,156.4 432.9,122.4 420.2,139.1 424,135.8 348.2,142.9 402.4,161 318.1,190.3 366.8,173 359.2,136.8 402.9,98.8 372.5,127.8 364.6,165.2 312,179.1 325.5,149.4 444.2,132.8 374.7,140.8 326.9,154.7 324.6,184.4 361.4,166.4 461.5,124.7 323.1,191.4 320.8,165.2 389,149.2 377.4,135.2 342.8,155.5 370.2,169.1 375,151.1 319.3,171.9 407.4,144.2 344,171.7 394.7,153.9 401,141.9 414.7,142.6 364.2,128.3 377.7,116 460.4,124.5 358,137.1 413.3,139.8 419.5,150.4 419.8,126.4 309.4,176 312.2,183.9 337.1,186.6 311.3,178.5 416.9,150.8 448.1,125.6 379.9,149.2 355.2,129.5 342.5,139.6 333.7,176.4 421,145.2 396.4,145.9 400.6,155.6 320.8,189.3 391.3,149.7 417.8,147.9 385.1,149.4 323.3,165.2 350.5,138.7 364.6,170.5 424,135.9 315.8,154 360.7,174.2 359.7,163.2 314.7,155 428.8,156.5 399.9,151.3 414.6,138.3 399.8,150 350.7,146.9 311.6,177.6 408.4,150.8 400.4,152.7 365.4,128.8 347.2,180.7 405.4,146.7 318.2,171.9 330.6,142.7 325.2,156.9 385.6,122.1 392.3,148.9 419.8,139.6 419.5,139.3 376.2,131.7 324,187.6 411.6,146.6 335.4,166.1 337.4,133.3 463.8,119.4 404.4,142.1 385.2,140.7 402.9,136.4 407.7,105.6 396.9,146.4 385.6,147.1 431.8,102 332,178.6 400.8,158.7 450.1,126 398.7,134 440.9,135.6 410,143.1 498.6,74.7 405.9,146.8 377.5,145.5 440.5,114.7 341.8,148.7 400.2,146.6 472.4,119.5 317.6,191.8 361,159.7 353,156 367.4,173.3 363.8,174 343.3,171.3 411.3,138.7 393.3,135 331.2,142.5 407.4,141.6 379.6,115.2 403.4,134.9 348.5,166.7 328.8,163.8 407.8,115.9 407.1,136.7 346.1,137.3 361.1,121.7 392.8,146.6 387.1,155.5 315.1,174 388.1,137 365.9,156.2 312.6,156.9 411,145.2 317.4,160.9 379.2,134.1 362.5,170.3 375.2,124.8 357.9,154.2 378.6,124.6 362.6,147.6 444.9,126.6 335.5,151 329.8,179.4 377.2,152.4 366.2,153.7 343.4,166.4 393,140.9 421.5,142.3 400.4,154.1 396.9,158.7 323.1,179.9 369.1,162.4 345.4,180.1 397.8,154.2 333.6,139 399.6,154.8 352.7,144.4 402.6,150.2 354.9,168.7 414.7,151.5 347,179.1 363.6,152.1 391,149.8 327.2,186.9 349.9,174 338.8,147.4 346.6,185.4 403.4,132.9 324.2,183.3 406.4,143.6 374.1,153.7 350.3,175.9 367.1,135.7 389.8,114.9 439.1,118.9 315.3,151.2 397.9,149.5 338.9,188.7 330.3,175 398.2,150.6 401.5,141.1 360.3,132.3 344.9,183.5 407,153 408.3,142.5 415.8,135.3 446.4,121.8 380.3,169.8 364.5,169.9 398.9,139.3 379.3,133.5 407.6,148 397.3,157.2 373.7,173.4 398.9,149.9 436.9,101.2 341,162 410,135 374,161.4 354,149.1 312.4,175.4 401.4,136.5 328.8,138.3 397.4,146.9 332.9,174.2 405.3,148.9 349.8,179.5 374.5,123.3 390.2,120.4 338.3,155.5 440.3,86.6 348.1,148.2 339.3,174.6 429.2,133.3 397.8,154.1 399.5,138.9 347.4,158.7 452.8,106 397.6,142.3 368.3,138 319.4,168.7 352.5,126.5 324.7,166.4 311.8,162.8 335.8,137.8 354.9,159.9 434.9,116.4 451.5,95.8 399.2,135.8 387.4,135.6 351.8,157.1 389.5,154.5 399,152.9 405.2,145.8 364.5,171.2 393.9,148.8 392.2,157.9 406.9,151.4 448.5,137.4 351.5,135.5 348.9,150.5 347.1,179.8 410.4,135.1 491,131.5 420,140.7 328.4,186.8 346.6,171.5 455.9,124.1 333.9,154.3 342.4,171.2 354.9,137 311.7,178.8 315.5,153.3 316.9,151.5 400.5,155.5 384.4,161.9 373.5,119.6 408.5,152 385.4,140.7 351.2,128.9 317.6,173.9 341.8,152.1 415.6,150.7 372.3,139.5 320.8,173.1 320.5,171 376.2,169.9 386.1,137.1 316.3,193.1 440.8,129.4 336.5,183.6 434.7,121.4 384.3,154.9 330.5,170.2 421.8,145.8 313.5,152.7 354.8,152.1 402.9,155.6 448.7,124.4 345.3,131.2 408.2,150.6 329,188 319,149.1 434.8,131.4 326.8,164.2 399.7,142.9 369.1,144.5 394.2,148.3 398.5,109.6 353.2,146.1 362.8,134.6 350.4,157.6 394.8,136.4 378.3,150.1 324.2,167.3 325,181.2 412.6,150.1 388.4,143 426,154 351.3,138.1 330.3,176.7 335.3,145.6 424.3,140.7 447.8,115.9 370.9,161.2 363.4,134.9 334.9,182.6 330.7,187.6 386.1,140.2 335.9,182.7 364.2,123.8 406.7,146.9 392.7,160.7 401.4,148.1 398.5,143.1 310.6,166.3 387.7,144.2 402.3,159.1 412.2,120.5 415.9,148.8 343.6,148.1 405.2,143.3 404.7,131.8 393.2,134.5 405.5,149.4 397.4,153.7 336.5,163.3 361,162.5 472,133.7 457.5,138.5 375.2,156.7 389.6,134.9 427.4,114.9 346.2,171.3 321.6,164.5 380.3,144.3 390.1,162.1 355.6,166.6 346,168.6 409.3,152.3 346.4,167.2 400.4,147.9 416.4,137.6 373.4,175.1 313.3,159.5 320.5,143.2 333.4,155.1 390.3,132.4 406.3,143.5 397.8,152.5 322.7,188.3 348.1,162.4 374,159.3 327.8,162.8 415.5,153.3 342.3,159.9 410.1,152 406.3,153 350.5,130.5 393.9,157.4 364.4,146.9 342.4,162.4 352.8,171.1 336.2,173.3 336.5,156.7 325.5,181.1 338.7,159.3 411.5,152.6 436.2,137.2 366.6,167.4 373.7,161.1 319.4,149.3 410.5,143.6 460.6,134.3 409,136.6 423.9,144.5 356.8,159.7 338.1,133.8 333.5,174.3 375,120.8 356.4,149.1 336.8,144.9 388.3,112.1 311.8,169.4 460.6,127.5 323.4,166.2 402.4,154.4 410.8,148.2 387.3,142.4 393.8,144.2 367.7,173.6 398,159.5 384,132.9 397.4,137.6 370.1,162.4 332.4,167.5 329,182.6 390.4,144.5 386.5,159 394.5,154.3 343.5,165.3 403,138.8 347.7,167.3 401.1,138.7 320.7,155.7 409,145.1 377.1,136.8 454.4,82.6 387.1,154.3 451.1,117.4 348.6,173.3 328.4,156.2 339.8,161 362.5,132.4 348,152.2 409.5,135.7 353.4,157.2 316.3,185.2 339.3,160.6 377.8,113.5 390,161.3 366.6,147.8 398,158.4 334.6,164.8 397.5,153 382.9,158 410.6,148.2 391.8,148.5 424.1,139.7 331.8,179.8 314.9,158.3 437.2,140.8 328.5,154 406.9,152.1 399.2,145.2 335.7,154.8 408.9,144.4 356.1,124.8 364.8,140.7 394.6,151.6 371.4,159.2 394.7,151.6 331.6,154.6 317.1,185.8 391.5,155.6 345.1,167.6 433.4,106.4 364.2,142.3 375.6,151 342.5,139.8 345.5,149.7 399.8,146.5 432.2,116.1 359.1,125.9 314.4,180.4 415.1,151.5 330.7,160.6 323.4,174.8 382.3,145.7 324.9,153.8 358.9,142.1 317.2,170.4 397.8,143.1 337.9,142.7 400.6,147.9 399.8,152.1 340.1,162.4 338.3,174.6 391.8,142.4 398,151.9 328.6,165.2 360.4,132.5 405.8,136.8 374.2,145.8 359.2,142.4 355.8,157.8 368.5,176.5 351.9,172.5 430.2,120.8 321.9,178.9 330.8,168.7 338.9,171.5 385.9,151.2 401.2,138 394.4,152.6 367.4,162.8 342.3,156.6 377.2,171.2 397.9,159.9 376.4,147.4 403.8,144.2 389.7,125.9 318.6,157.5 340.4,166.1 334.1,174.9 320.5,144.2 332.2,152.6 384.1,153.9 413,126.3 353,126.1 405.8,155.6 393.7,144 381.5,117.6 360.3,161.1 319.5,147 437.2,133.4 337.4,144.6 395.6,104.5 408.6,147.2 325.6,183.4 400.1,137.5 389.5,136.5 414.1,138 374.4,164.5 451.3,103.8 331.7,176.6 349.1,178 388,148.8 331.6,187.5 397,155.2 325.5,152.9 331.2,177.9 354.5,178.4 393.2,157.1 403.8,143.8 358.2,163.5 401.8,140.8 330.5,181.8 336.5,141.7 367.3,136.3 366.4,142 311.8,174.8 393.8,158.8 328.6,182 338.4,187 408.5,145.4 374,149.6 401.5,152.2 387.8,131.4 409.7,140.7 319.2,179.8 330.3,173.2 417.1,137 378.3,153.3 413.7,142.7 389,152.7 393.7,157.6 446.9,106.9 400.7,141.6 380.7,135.7 332.5,185.3 356.6,145.6 318.2,168.9 407.5,150 360.7,155.7 378.5,113.5 390.7,161.5 364,158.9 322,177.5 415.6,147.3 381.3,162.8 327.5,165.2 401,157 392.7,135.8 414.2,145.8 315.7,189 425.2,136.4 416.7,125 324,187.2 386.5,161.2 383.6,165.7 416.4,142.9 359.3,140.9 400,133.6 335.9,181.2 336.7,147.2 394.5,140.3 401.6,158.7 409.7,144.8 419.3,145.3 397.9,154.7 399.1,146.1 374.1,162 348.4,185.4 396,148.6 416.3,140.2 358.7,154.6 417.7,133.5 401.8,154.3 358.9,164.9 340.1,158.6 329.2,164.8 399,149.8 450.6,116.8 404.3,140.8 425.2,142.2 412.3,137.8 443.3,116.4 360.2,158.3 340.2,131 404,156.8 379.4,130 399.5,138.9 329.3,187.5 340.3,149.3 377.6,132.5 347.9,169.6 325.4,166.8 403.4,143.9 407.9,151.9 376.3,162.4 358.9,143.7 376.5,154.1 373.9,160.6 395.5,147.1 336.2,152.1 350.3,169.5 385.4,159.4 383.3,140.9 389.5,147.6 318.1,168.2 373.7,134.2 315.6,182.7 420.6,157.9 400.8,150.6 393.6,154.6 477,74 336.8,151.3 371.5,153 405,144.9 385.3,150.9 411.6,149.4 470.4,117.9 415.7,163.9 386.5,140.3 423.3,145.8 316.6,164.4 317.1,170.6 320.9,155.7 396.6,146.3 331,166 365,125.1 369.3,149.8 332.1,135.4 407.3,151.3 410.5,139.8 329.7,151.2 467.1,123.3 345.4,188 356.8,160.5 347,138.9 361.5,171.6 355.3,148.6 409.8,150.1 373.1,172.6 400.7,149.7 400.4,102.9 361,163.2 357.3,174.6 408.9,135.1 323.8,189.7 443.6,108.1 363.9,132.7 441.6,98.2 400,151.8 387.2,166.9 397.7,143.5 379.8,118.5 329.2,185.8 331.5,185.7 384.6,155.4 395.4,147.9 321.4,169.5 411.9,155 335.7,186.7 311.2,154.8 351,151.7 436.2,122.3 398.1,142.3 358,147.9 325,181.2 367.6,156.7 323.5,169.1 408.2,82.9 348.3,155.7 343.3,139.7 459.3,123.3 410.2,150.8 397.3,140.8 349.2,147.3 321.3,179 484,72.5 389.3,154.9 315.3,152.1 323.7,175.4 347.6,145.3 428.7,142.4 408.9,141.5 404.5,147.1 447,131.8 396.1,142.3 404.2,138.7 423.5,146.1 410.9,153.4 421.8,142.3 319,178.1 349.4,186.7 352.2,135.6 427.6,136.5 391.7,145.5 354.4,136.1 366.2,150.3 324.7,171.5 369.7,133.6 353.5,167.4 352.2,181.7 360.1,155.2 430.5,135.7 362.8,175 387.3,166.8 409.9,142.9 399.9,155.2 375.4,112 334,151.3 438.5,155.6 320.8,185.5 350,141.4 351.4,148.7 397.3,151.6 331.4,153.3 333.5,170.9 409.9,131.2 429.6,114.1 397.8,143.6 400.3,151.2 346.8,178.3 350.7,161.9 420.3,134 414.2,138.6 416.7,145.7 385.1,140.3 366.2,167.6 349.2,174.7 347.6,173.4 418.8,140.2 382.2,133.7 388.7,128.2 321.1,159.5 407.1,99.6 392.9,159.6 372.7,118.7 368.3,173 448.9,128.4 310.3,168.9 413.9,144.3 454.2,124.8 387.4,138.8 317.6,175 369.5,161.2 391.2,154.3 487.6,46.4 363.6,155.1 359.7,166.1 383.1,124.3 364,135.2 361.9,137.9 390.6,129.9 420.8,138 407.8,156.7 327.4,156.5 363.5,173.6 411.6,137.2 433.8,121.5 393,130.5 317,151.9 349.4,144.6 397.1,139.6 332.4,181.3 380.4,170.1 312.9,189.7 388,157.7 325.2,166.1 354.2,142.4 362.5,157.8 378.9,156.3 310.7,168.1 315.1,191.4 375.8,123.7 318.4,178.7 487,131.5 399,155 340.4,148.6 383.9,150.1 368.7,167.7 346.2,146.9 401,157.1 392,161.8 393.8,163.2 340.7,166.7 350.2,144.4 366.8,178.5 377.1,114.6 367.9,153 370.5,173.2 332.7,189.9 311.6,162.4 439.7,129.5 431.1,97.5 422,147.1 399.6,153.9 378.3,162.6 326.9,178.5 429.2,148.8 315.1,172.5 360.1,127.1 427.4,130.7 375,133.2 355,150.9 417.9,146.2 386.5,146.8 411,149.5 356.5,160.5 316.3,150.3 419.2,132.9 329.8,143.7 361.8,125.1 338.6,154.7 337.1,153.2 410.9,147.1 328.5,186.9 354.5,174.5 441.2,137.8 389.6,145.5 410.1,148.7 399.8,156.3 317.1,183.1 424.4,136.1 331.2,149.7 405.6,149.3 438.3,131.2 389.4,151.2 372,138.3 386.8,160.9 342.8,161.1 410.3,143.1 335.9,154.8 360.3,160.5 380.8,126.3 325.1,185.5 436.9,121.3 415.2,130 422.3,143.1 411.9,141.2 363.8,133.4 344.2,175.7 400.4,102.8 347.4,136.9 435.2,120.7 317.1,151.9 324.1,164.5 370.1,166.7 410.5,139.7 511.8,55.5 401.6,135.5 398.2,139.3 399.7,150 438.8,133.2 378.2,139.9 310.7,167 384.6,160.1 404.2,144.8 362.6,120.6 406.5,132.4 427.7,136.3 396,145.8 391.8,143.4 351.9,141.4 409.5,142.6 324.3,167.2 369.8,127.4 432.7,112.9 316.8,188.3 366.5,165.1 361.2,170.6 364.9,126.9 419.1,149.4 354.1,177.4 317.8,183.5 333.6,144.8 396.3,140.2 316.6,173 422.5,144.6 398.3,142.8 329.6,155.9 391,145.9 517.3,53.6 380.5,120.6 325.9,166.3 350,132.6 404.1,143.8 318.6,173.6 418,129.7 365.6,131.8 532.7,61.8 325.6,173.3 390.5,140.3 413.5,140.9 421.4,123.5 412,141.8 419.4,150.3 342.3,121.1 326.4,187.5 387.4,128.4 448.6,119.9 394.7,135.1 328.9,148.2 371.5,159.9 417.8,136.5 391.1,157.2 448.3,108.3 381,156.6 404,134.5 358.7,143 364.3,160.1 336.6,157.5 318,171.6 348.8,145.7 373.3,162.9 339.5,172.1 316.8,190 422.6,133.1 383.9,155.5 319.4,179.1 313.4,152.3 347.4,167.2 372.8,166.9 332.9,186.7 400.9,147.2 386.4,165.7 404.8,151.2 353.5,137.3 414.1,147.8 404.4,142.5 361.5,164.1 320.6,185.2 361.3,133.4 434.6,135.5 313.5,185.9 358,167.5 401.5,144.1 332.1,149.3 339.6,172.6 363.5,151.2 384.5,155.8 373.8,127.1 332.2,142.9 423.1,134.9 319,191.3 314.3,177.9 357.8,153.9 413.6,147.1 388,161.3 419.2,138.4 357.7,178.9 381.3,158.2 334.3,182.8 353.3,166.3 439.5,121.2 355,169.4 479.6,50.9 432.4,114.2 413.9,142.2 325.2,171.7 343.9,155.6 383.7,137.2 431.5,143.5 400.9,152.5 316.6,178.4 310.3,164 365.4,157.2 331.7,176.5 477.6,118.7 415.9,108.8 398.6,146.4 412.3,143.8 397,128.9 355.7,160 383.2,119.8 416.5,145.2 382.3,123.2 326.6,187.5 354,140.4 401.1,157.3 401,152.8 410.2,145.8 377.4,124.3 329.6,166.1 445.3,108.5 310.8,167.1 358.7,129.8 410.9,141.9 417.4,145.9 389.5,111.4 424.5,146.2 321,157.1 402.5,134.7 415,150.1 416.1,146.7 358.2,178.9 449.6,118 385.1,153.7 415.3,139.8 357,179.3 343,131.5 435.2,139.9 311.2,167.6 397,157.7 351,165.7 335.7,140.5 404.3,144.9 333.3,162.4 330.6,161.5 410.6,141.3 333.3,156.4 324.5,178.6 417.5,140 344.5,162.4 371,138 403,153.7 331,160.6 335,182.6 334.7,172.7 348.1,162 407.1,141.7 362.3,159.5 354.2,139 364.3,135 414.4,138.7 326.7,151.3 508.7,131.5 351.8,127.1 425.7,133.6 410.9,150 318.9,184.7 412,152.6 417.8,115.2 333,184.9 398,148.6 332.1,142.6 386,142 321.6,170.3 341.7,130.5 335.7,137.4 394.7,138.3 415.1,149.9 383.8,145.3 461.5,126 310.5,179.8 333.4,187.4 366,169.3 379.5,144.7 333.9,137.1 428,146.1 425.1,120.5 390.6,131.9 411.3,140.2 382.6,145.1 463.8,126.2 372.3,162.7 377.2,147.9 315.6,179.4 375.5,163.3 413.6,141.9"/>
<polyline class="p" marker-start="url(#mr)" marker-mid="url(#mr)" marker-end="url(#mr)" points="401.7,151.7 400.5,160.5 375.2,166.8 316,175.1 414.7,148.5 321.8,151.4 384.5,131.1 404.7,141 357,160.6 391.3,141.8 331.2,178.6 479.6,60.4 336.1,147.5 418,146.4 319.9,189.3 401.9,156.4 327.4,159.8 397.5,142.5 393.9,161.4 401.4,150.9 400.3,148.8 394.8,159.4 391.1,151.7 416.5,145.2 322.2,157.2 383.9,106.3 402.4,145.8 339,181.9 356.3,132.6 342.9,177.3 388.7,159.4 400.3,153.1 396.9,136.8 337.8,155.5 400.4,149.6 368.6,148.7 320.9,173.3 405.8,151.8 362.7,172.5 320.7,155.2 373.7,123 380.9,157.7 415.2,137.2 327.6,188.3 371.8,115.3 314.5,180.3 390.5,156.2 398.1,146.2 362,173.7 360.5,162.3 384.8,139.2 377.6,134.9 400.9,147.4 316.1,189.6 398.8,156.3 384.1,147.4 314.4,183.3 376.1,162.5 374.7,112.6 414.4,147.6 421.4,144.1 331.9,152.7 412.4,151 319.5,156.1 366.5,155.1 358.8,130.4 376.1,165.5 384.6,122.7 338.5,177.8 400.1,142.9 413.2,139.7 314.4,151.3 350.1,183.2 409.4,151.4 371.3,136.8 310.1,186 366.7,138.3 362.5,147.5 329.9,176.6 401.1,138.7 336.5,179.9 338.6,145.1 368.7,137.3 340.8,145.2 380.2,104.1 327.5,184.8 400.5,149.4 382.8,148.3 326.8,159.7 339.2,150.9 362.2,158.4 416.3,143.4 373.8,145.4 379.4,135.6 317.2,178.8 368,170.6 339.4,166.4 354.3,144.2 323.6,177.9 336.3,179.5 323.7,173.3 321.7,192 414.3,148.6 385.8,152 321.5,136.9 319.8,181.5 383.3,145 335.1,150.5 319.7,189.4 327.5,177.4 365.5,166.8 346.7,155.3 386.7,159.8 318.9,151.9 316.8,166.7 394.4,156.3 352.2,170.4 402.6,157.9 452,133.3 503,115.8 322.5,170.1 341.5,139.3 406.5,148.1 399.6,151.8 342.9,184.3 385.7,161.9 339.5,174.4 407.4,153.6 399.9,142.7 413.6,153.6 412.8,138 385.8,127.4 431.7,135.5 398.6,154.2 313.1,165.2 366.9,165.1 393,163.5 310.4,156.5 382.7,150.5 325.2,163.2 403.6,155.1 379.2,144.6 400.1,160 385.3,158.9 334.1,156.4 409,141.1 376,152.1 344.9,169.7 322.7,189.9 405.6,146.8 321.5,162.6 339.4,169.2 364.7,164.1 440.4,154 365.6,166.9 344.8,152.8 454.3,136.1 421.7,139.7 356.2,137.6 404.5,155.8 401.6,143.8 416.4,146 310.2,158.8 424.4,144.4 338.5,147.5 382.1,158.4 398.1,138.4 345.8,151.1 341.1,163.4 405.4,154.4 423.8,142.6 346.6,151.5 389,151.2 316.3,169.5 434.7,141.1 413.1,153.6 432,78.4 406.6,142.2 391.2,109.1 355.2,145.6 345.1,154.2 363.2,135.9 333.3,158.1 328.7,164.2 414.1,152.6 341.3,163 399.7,144.5 382,135.2 369.1,144.9 383,131.4 312.1,180.9 327.5,156.8 465.3,132.2 318.1,150 314.3,174.4 443.9,128.2 367.7,155.1 370.1,156.8 406.1,151.5 379,137.8 394,151.2 395.2,155.1 416.6,143.4 420.4,132.1 361.3,166.9 324.2,146 317.5,149 407.5,140.1 331.1,173 399.6,156.7 397.4,153.9 400.2,143.1 409.7,153.3 352.8,176.3 363.7,175.3 369.2,143.5 373.3,144.9 399.3,144.1 406.1,155.1 422,141.7 405.8,145.1 346.9,142.2 497.3,54.2 406.3,147 408.9,141.7 454.5,123.1 340.6,161.4 318,169.2 322.7,185.2 364.3,172.2 352.2,154.2 340.7,171.5 313.4,159.2 418.9,140.6 338.4,187.9 412.4,135.4 390.5,150.1 353.9,154.6 321.5,156.9 430.1,137.4 336.1,180.1 342.7,133.6 381.1,136.8 349.9,170.8 323.1,190.8 314.4,173.1 377.5,120.3 315.7,176.4 320.6,182.7 324.6,168.9 388.6,155.1 381.5,155.1 361,144.5 404.5,146.4 348.4,175.1 342.4,174.3 325,182.8 421.3,138.7 378.6,152.6 387.1,153.3 396.2,138.7 347.1,135.1 397.1,144.3 388.5,161.2 375.4,128.4 393.1,139.4 405.4,155.8 383.4,138.8 394.8,144.3 416.8,152.4 386.6,131.2 397.6,155 401,153.9 345.2,145.9 383,131.3 321.3,147.8 312.6,190.5 365.8,170.4 420,134.3 359.1,156.2 343,174 363,164.8 398.3,152.3 362,158.1 340.8,142.9 355.9,181 401.5,150.6 388.9,154.7 378.7,159.9 400.2,146.6 402.9,143.1 350,175.1 326.9,188.5 352.2,162.3 364.6,125.4 340.6,189 357.5,138.1 347.8,126.9 374.6,158.3 398,149.1 370.2,138.1 366.2,129.9 345.2,176.3 389.8,152.8 368.1,125.6 391.9,164.6 415,134.7 365.7,151.3 374.1,130.9 417.1,140.4 402.1,149.4 353.7,174.9 400.1,143.9 317.3,184.7 425,143.1 382.2,145.9 343,158.7 362.2,117.8 381.9,166 400.2,151.3 398.7,149.3 316.4,161.3 411.5,143.2 389.1,107.6 399.1,137.3 373.4,169.9 362,170.3 355.7,141.9 350.8,139.1 364.8,130.2 325.3,141.7 327.8,145.6 409,186 417.9,143.6 333.3,169.2 418.7,146.9 341.6,171.7 352.6,143 381.7,157.2 375.3,166.9 341.4,158.7 359.1,147.8 331.8,167.7 381.8,154.1 406.6,142.8 366.5,147.9 399.5,150 382.9,128.6 431.4,132.1 372,132.2 396.7,146.6 402.7,155 400.2,157 352,172.8 405.2,140.6 314.7,167.6 400.7,151.1 442.9,101.6 361.7,174.2 340.5,169.1 390.5,148.6 401.2,140.5 403.8,149 326.1,182.8 416.7,149.9 318.9,177.3 362.8,151.8 408.8,94.8 311.9,165.5 400.6,151.9 350.9,142.9 341.3,153.4 321.8,179.1 387.6,154.4 417.8,144.9 389.5,155.8 325.8,191.6 405.3,147.7 409.9,151.5 411,138.1 442.3,128.2 387.5,142.3 336.1,151.2 312.6,167.8 326.4,157.7 363.4,135.9 450.2,137.3 353.3,160.4 375.1,131.5 354.5,177.5 312,184.1 317.8,155.2 396.4,139.7 380.8,155.6 421.1,140 402,157 345.7,143.8 449.2,136.6 329.4,144.8 326.6,172.4 347.8,169.5 400.7,158.3 360.7,135.4 412,152.9 381,155.2 404.6,146.3 417.3,135.6 409,146.3 348.7,144.7 398.9,159.5 392.1,161.9 416.8,146.2 336.1,162.7 392.5,154.4 373.4,101.8 398.7,148.1 447,122.1 415.8,146.8 417,139.7 396.9,150.5 332.2,190 349.8,171.2 394.6,152.5 337.4,169.5 356,134.8 334.1,186.1 324.7,178.2 442.3,129.3 334.8,165.6 328.9,140 393.9,146.2 405.3,156.2 360.4,174 383.8,126.4 404.5,150.1 337.6,164.1 371.4,116.7 397.3,157.6 477,66 393.5,148.7 386.5,159.8 311.7,191.5 361.7,131.3 374.9,131.3 371.7,162.9 368.5,142.9 362.4,138.9 381,109.4 381.8,123.7 398.4,159.8 313.5,181.4 344.9,144.4 395.7,149.2 335.4,148 352,152 339.8,152.5 369.5,175.5 400.1,154.3 319.4,188.7 384.8,132.7 401.1,139 349.1,147 417.4,142 403,150.4 401.2,156.3 408.1,137.3 391.3,160.4 376.2,124.1 339.2,166.6 310.8,163.2 339.5,183.1 399,159.9 382.7,121.1 405.4,154.6 393.6,151.6 388.7,103.4 405.7,145.8 406.9,154.3 351.7,173.5 321.3,140.7 360.7,137.8 400.7,141.2 397.2,157.1 392.5,156.1 399.3,142 370.4,165.2 410,140.2 406.9,146.8 375.6,120.2 384.5,113.9 332.1,176.1 328.2,171 388.1,163 378,165.1 461.4,133.1 370.4,148.1 360.4,127.3 455.6,103.2 376.2,165.7 315.4,175.3 333.9,179.3 424.4,141.9 385.6,110.3 353.4,172.3 368.5,132.4 369,145.6 437.6,136.6 408.8,139.5 377.6,140.1 396.1,145.9 316.5,184.7 335.4,179 334.4,184.5 399.1,145.6 339.5,133.4 377.4,112.7 369.8,149.2 322.1,180.2 375.8,137.4 412.7,92 356.6,155.4 444.6,129.1 392,143.8 355.5,144.5 420.2,139.1 376.9,153.6 441.8,153.2 385.6,127 317.2,179.6 399.9,117.5 381.1,124.2 407.4,155.8 392.7,137.9 342.7,135 373.5,136.2 386.4,122.8 365,175 450.6,135.8 362.6,159.9 403.5,145.4 397.3,147.5 348.5,160.1 383.1,121.1 413.6,147.7 329.4,171.5 408.4,146.5 381.2,158.9 316.2,190.8 312.6,176.1 353.3,177.7 353.9,144.4 325.7,184.3 373.2,132.5 356.2,155.4 398.8,146.3 396.6,135.9 398.7,144.9 362.3,157 409.3,142.7 367.9,147.1 371.2,149.7 337.3,170.3 329,143.8 401,153.9 398.4,144 393,163.4 362.6,177.1 316.7,179.8 357.9,133.1 417.3,141.2 343.7,187.2 386.5,142.7 374.6,144 332.8,144.3 350.4,145.8 365.3,149.7 375.2,147.3 358.3,145.1 398.7,152 412.2,138.7 399.2,151.2 363,162.6 406.7,145.8 312.9,156.7 380.3,91.8 353.1,152.7 310.5,180.7 408.2,155.8 352.6,171.6 381.4,125.4 324.4,168.9 356.1,180.4 375.4,123.9 347.2,137.2 375.6,140.9 313.2,171.2 365.4,131.9 397,150.3 397.2,138.6 313.4,175.7 373.5,165.7 340.3,143.4 314.7,165.2 320.7,155.6 320.4,184.5 375.3,140.4 350.2,176.2 393.5,163.4 353.5,156.3 391.2,143.6 398.6,160.3 401.8,151.5 399.7,142.4 362.7,143.4 334.4,145 365.8,125.8 371.8,126.3 342.8,167.1 371.2,156.6 335.4,190.1 413.6,152.3 416.8,136.3 349.8,157.5 314.5,157.6 417.3,105.2 364.2,147 326.7,188.2 343.8,151.2 329.6,158.9 377.9,151.6 422.1,146.8 318.9,149.6 360.1,130.3 334.7,161.6 341.6,142.3 398,149.6 414.7,143 350.2,163.8 410.3,149 332.3,181.7 375.1,159.7 369.6,126.8 426.2,142.1 392.4,141.6 323,172.2 362.4,159 317.4,157.5 348.5,165.7 343.8,156 404.1,150.2 359.7,145.7 395.4,137.9 409,141.9 506.4,59.6 320.3,168.5 414.1,144 340.7,141.9 331.7,162.4 395.1,151.7 400.1,151 359.5,168.8 366.1,164.6 421.4,142.7 361.2,151.3 395.3,150.8 408.7,153.8 391.8,163.6 341.1,145.3 398.7,143.7 395.9,155.1 417.7,102.8 315.2,163.7 324,150.1 344.1,185.2 341,180.1 325.5,160 359.5,154.5 404.5,144.6 425.6,135.7 322.2,170.6 396.3,144.5 406.9,152 331.3,172.7 359.5,175.9 329.5,177.7 421,143.4 374.8,139.9 449.9,125 342.9,172.2 356.7,180.3 396.6,141.9 412.7,149.5 399.7,143.9 347.3,140.3 369.3,141 392.7,152.2 320.6,186.8 392,147.6 399.6,148.5 368.6,141.2 352,130.3 332,145.9 313.9,167.9 319.3,165.2 323.3,166.4 384.5,167.5 385.8,152 374.6,137.9 326.2,148.5 394.1,103.1 398.5,147.7 356.9,133.6 412.2,140.4 367.2,148.8 399.5,151.9 402.9,140 424.8,139.5 391.6,131.8 322.6,180.6 376.5,138.3 338.8,157 432.4,133.4 384.5,149.9 385.3,163.9 362.5,172.5 335.5,168.2 375.8,116.7 355.2,149.1 329.9,165.9 366,153.6 321.6,189.2 381.1,146 350.3,185.2 389.2,135.6 364.9,164.7 403.3,137.3 400.2,140.6 459.2,99.2 316.4,161.1 381.3,138.5 425.7,146.6 400.7,143.6 410.2,143.3 410.1,149 360.9,178.5 363.3,152.6 380.9,122.2 398.9,153.8 361.5,144.7 344.3,166.1 461.4,124.8 364.8,131.6 401.7,146.1 386.7,155.8 448.3,88.5 397.9,149.4 314.7,158.7 315.2,175 409.8,142.5 334.3,145.2 380.4,167.5 340,159.9 369.9,150.9 412.4,150.6 402.6,151.7 334.1,132.4 380.6,142.3 410.1,97.6 395,140.7 375.6,153 399.4,152.5 382.9,143.4 317.3,161.9 400.2,160 416.8,136.4 398.3,159.8 385.3,138.6 328.2,176.7 364.7,153.4 357.8,163.9 405.8,143.7 325.6,141.9 320,180.4 346.9,166.1 311,185.7 449,131.3 401.5,147 372.9,160.8 347.4,160.6 396.1,162.4 405.8,149.9 426.7,135.2 415.4,136.5 395.4,159.9 348.7,171.7 364.8,171.2 345,175.2 389.7,153.2 378.6,141.4 402.2,159 382.4,143.9 386.6,154.4 350.5,137.5 375.5,133.6 313.1,182.9 390.7,156 361.7,136.9 370.4,140.4 404.3,135.9 340.8,189 382.3,123.3 380.9,138.4 325.3,191.4 368.6,153.2 425,138 355,154.3 412.7,149.2 364,171.6 456.9,137.7 338.9,166 422.7,140.2 391,156.2 335.9,160.5 391.6,144.2 328.5,173.6 413.3,146.2 400.3,141.2 490.8,116.4 394,149.4 364.9,154.3 322.7,157.8 317.3,150.6 373,155.8 323.3,149.1 381.8,150.7 397.9,146.9 413.1,98.4 402.6,148.5 391.6,136.3 321.8,158.4 372.9,167.5 347.9,182.8 334.1,182.6 324.6,168.6 422.4,141.2 407.1,136.6 318.2,164.3 317.1,162.5 384.7,122.8 405.7,148.8 397.8,161.7 390.8,153.5 377.7,141.5 405.2,142.6 409.4,150.3 345.7,162 373.9,138 400.7,141.2 461.9,126.9 323.6,171.2 419.2,151.2 346.8,153 365.4,161.8 310.7,183.6 404.7,142.3 356.5,146.1 400.3,142.4 314.7,190.8 389.5,158.2 389.7,106.5 415.3,146.2 341.6,145.1 402.7,144 312,176.4 317.9,176.4 364.5,162.4 390,137.5 350.9,145.2 380.8,164.5 334.6,159.2 352,102 327.3,160.2 464.8,144.3 312.1,169.2 386.5,148.7 352.5,176 348.4,146 388.6,110.8 378.6,132.3 395.6,161.7 363.4,129.2 310.9,188.9 368.9,168.3 310.9,174.8 357.6,163.5 370.7,171.9 396,144 333.2,160.5 362.8,129.2 409.6,143 390.7,139.4 375,141.8 326.1,161.6 409.3,136.1 392.7,152.1 321.5,145.8 319.3,175.9 409.6,149 344.9,176.8 315.6,177.5 424.8,145.2 313.8,184.3 323.2,163.6 403.1,155 415,142 329.8,158.9 401.1,151.3 365.6,158.5 312.6,154.6 355.1,131.6 349.1,142.1 336.6,135.5 405.6,142.9 328.6,143.5 459.3,136.3 398.1,142.5 398.5,160.4 410,142.7 322.6,161.8 359,169.4 421.8,145.9 404.6,150.4 374.3,149.2 345.4,178.8 404.9,95.4 370.4,162.7 399.6,155.4 376.8,165.4 404.8,90 385.7,157.3 334.5,144.4 464.1,117.7 350.1,134.9 380.4,127.5 365.6,155.3 336.7,188.7 406,156 340.6,143 350,143.3 379.9,136.1 376.5,156.7 436.6,150.6 332.7,174.7 386.2,150.4 329.2,166.1 404,138.2 402.8,158.3 397.6,160.9 370.7,160.2 363.9,141.6 423.8,152.8 323.3,171.3 320.9,184.6 391.3,156.8 368.5,141.7 339.4,151.9 337.8,189.7 396.6,149.4 366.7,164.8 358.3,155.2 334.6,184.7 346.1,159.4 390.3,140.7 396.6,159.1 376.9,147.2 417.3,138 388,138.8 310.1,188.9 461.8,125.9 420.8,141.7 371.4,145.9 311.8,160.6 370.1,122.3 322.7,163.8 344.7,157.8 338.3,163.5 391,161.7 345,181.5 363.7,176.5 357.4,124.7 399.1,158 414.3,137.4 399.4,158.7 371.2,158 374.8,171.7 407.9,141.7 450.1,132.9 355.7,181.8 399.9,149.4 316.2,159.6 349.1,174.7 400.9,108.4 354.8,174 341.5,170.9 388.7,149.6 489.9,124 388.6,136.3 314.5,181.9 399.3,138.6 398.3,149.2 370.7,172.4 443.8,135.2 403.1,138.2 338.6,158.4 433.3,132.1 369.8,153.5 509,118 339,182.6 313.7,169.7 328.2,183 418,145 313.7,155.4 345.8,153.9 330,112 314.7,179.5 339.3,164.4 328.2,145.4 365.5,155.3 403.2,151.4 469,128.6 345.5,138.1 434.4,130.8 327.1,154.3 378.7,168.5 378.7,143.1 360.3,139.4 344,170.5 339.8,176.3 383.8,119.1 318.1,182.8 316.1,185.8 362.7,130.2 414.3,137.1 343.5,141.6 318.6,183.2 310.2,174 343.9,161.5 380.6,116.7 361.5,136.6 328.5,187.6 397,155.2 343.7,188.4 373.9,146.1 337.1,180.3 343.1,181.2 321.9,160 363.4,171.2 353.3,141 322.4,154.8 338.8,183.7 390.3,159.5 374.1,167.9 327.9,151.7 347.2,176.5 395.6,153.1 401.2,156 318.6,147.6 416.6,162.3 399.3,149.1 407.4,147.8 405.8,155.2 381.7,142.7 409.6,149.9 410.9,144.4 452.2,127.2 408.3,138.4 371.7,148.5 345.2,150.7 400.5,141.7 427.9,140.1 400,155.4 344.9,148.1 329.4,173.6 322.7,155.5 376.8,147.6 391.4,133.3 335.4,183 365.7,154.6 361.4,155.5 399,159.8 353,151.1 336.3,179.5 460,92.7 353.8,180.7 420,146.6 399.2,161.1 413.9,148.6 320.8,177.3 336,140 313.3,159.7 357.5,133 356.1,146 410.9,144.3 322.7,157 319.6,191.3 333.1,158.3 327.9,156.3 336.9,148.8 393.6,156.7 395.1,156 367.6,129.1 415.1,139.9 371.5,130 422.5,140.3 335.2,178.9 381.7,144.5 400.1,146.8 337,140.3 416.2,139.7 429.6,93.9 375.8,162 394.5,156.4 334.7,143.3 351.9,149.1 392.5,149.4 432,100.1 340.8,157.6 357.8,134.1 313,187.9 386.8,151.4 378.3,120.9 393.8,144.9 368.5,153.4 339.9,172.3 358.4,174.5 351.1,124.2 337.8,149 344.9,179.1 336,165.3 399.6,156.5 324.4,170.6 323.2,153.3 378.3,167.9 315.1,167.3 399.4,141.1 398.2,142.6 410.2,144 344.2,166.2 345.7,173.3 399.6,154 327,185.6 381.2,133.6 417.2,144.5 324.2,149.1 332.1,163.4 316.9,181.1 348.4,178.6 326.6,189.2 419.9,149.5 408.2,139.5 409.9,139.1 339.7,165 320,187.6 456.1,123.6 345.4,164 339,178.5 372.4,140.1 317,167.6 333.1,161.2 384.3,140.7 345.3,166.8 422.7,134.9 403.9,137.9 401.8,157 365.1,162.9 385.1,153.5 427.3,91.7 356.4,175.2 367.1,153.3 415.3,146.8 408.8,138.9 436.8,133.3 374.1,146.6 394,148.6 408.5,155.5 334.7,169.3 312.4,167.9 405.6,136.7 380.8,149.1 313,173.7 326.5,175.7 375.8,114.6 404.4,153 330.8,145.5 371.3,136.3 359.6,160.2 401.5,158.1 318.2,166.5 366.2,170.3 313.6,155.5 341.5,137.6 325.3,179.8 362,175.8 311,168.2 401.9,144.5 399.1,144.7 361.3,145.2 372.9,131.8 363.5,127.4 311,177.3 373.4,128.8 331.5,152.7 316.8,181.4 400.5,152.4 354.9,165.9 378.9,141.6 412.4,144.3 391.6,153.3 399.8,139.4 387.1,147.5 405.3,147.8 470.9,70.9 391.4,158.5 400.4,153.9 342.3,162.3 315.8,176.4 397.3,149.5 363.5,147.7 389.8,162.4 344.3,144.9 377.9,155.2 344.4,179.3 355.1,150.9 454.8,129.3 385.5,136.6 406,153.4 400.1,158.9 339.8,142.6 391.7,134.3 415.9,145.5 401.9,155 390,143.5 376.6,134.5 350.7,184.8 392,151.3 398.9,136.5 383.9,128.8 372.6,118.4 403.7,147.5 406.6,154.2 361.4,171.6 345.6,170.1 443.2,136.8 400.2,143.1 357.6,159.5 331.4,171.1 345.4,177 425.2,77.5 347.1,169.5 353.7,144.2 388.8,159.5 387,143.4 342.3,137 335,174 332.3,185.4 337.7,175.5 396.9,153.1 380.9,114.5 325.5,158.5 426,181 361.8,156 399,91.1 425.6,135.4 395,148.3 362.8,163 343.1,183 380.3,139.4 359.9,161.9 370.5,175.8 397.9,145.3 356.8,152.8 346.1,174.6 408.5,147 386.6,148.6 410.4,145.3 405.2,151.4 323.6,172.4 358.1,145.1 412.9,150.6 408.3,142 370.6,134.1 326.6,140.7 393.4,153.8 394.1,151.9 385.4,165.1 334,174.8 361.3,132 351.6,175.3 403.8,147.4 321.2,167.8 318.3,176.9 347.8,148.8 397.2,156.3 407.9,145.6 433.5,142.8 375.4,132.6 371.4,140.7 315.5,175.2 345.4,130.3 317.9,167.8 394.3,143 388.2,142.4 343,145 373.5,114.2 349.6,140.2 432.2,133.6 389.4,157.1 394.9,144.9 367.4,172.5 384.7,146.9 392,131.1 392.5,135.3 372.3,139 383.2,150 310,182.9 312.8,167.1 347.6,164.6 315.6,178 332.8,177.8 347.8,151.7 370.6,136.7 419.2,145.2 384.5,163.5 421.9,137.9 413.2,150.6 415,147 405.5,153.2 317.6,172.3 390.8,92.8 312.6,160.2 363.1,163 310.6,182.6 379.5,119.8 356.9,176.7 405.5,137.3 427.4,111.7 426.8,96.1 369.4,172.9 320.9,155.4 375,124.5 402.5,153.4 370.7,149.5 422.2,146.3 355.5,132.2 408.8,136.7 350.1,176.4 376.6,107 424.7,135 329.6,177.6 400.7,155.7 466.6,122.5 397.3,142 319.8,160 389.7,153.8 322.8,170.5 327.2,189.5 398.5,107.7 385,129.7 351.8,175.8 416.2,146.6 368.2,160.6 390.7,131.6 407.4,150.7 378.1,135.8 372.4,164.7 387.9,164.7 318.2,166.3 401.6,154.9 438.1,154.9 400.5,149.9 326.8,182.7 368.4,136.8 318.1,152.6 391.5,154 332.9,184.6 377.5,162.2 350.7,163.9 351.9,156.9 403.2,151 404.8,149.2 345,166.6 321.1,171.4 332.2,179.9 322.8,168.7 395,142.9 361.9,144.1 354.2,161.3 394.6,154.6 421.1,146.2 349.7,174.9 330.7,190.4 344.8,170.8 398.4,160.5 350.6,178.5 325.7,189.3 358.3,159.4 348.8,162.4 422.7,145.1 334.8,143.4 413.1,141.7 449.8,130 336.6,158 397.3,141.4 400.9,138.8 405.9,158.8 393,144.8 332,145.7 320.7,169.5 330.5,189.3 421.5,144.4 359.2,155.3 357.9,149.2 328.9,182.9 357.6,141.6 416,137.2 326.1,165.1 351.3,184 328.2,174 401.5,154.9 359.1,143.3 393.3,153.1 381.7,152.2 364.3,170.4 485.1,59.6 357.3,158.4 409,146.2 322.4,154.4 396.2,152 341.4,161.2 414.5,149.8 311.7,176.7 375.8,147.1 334.4,157.9 400.2,147.9 385.6,135.8 448.7,129.3 401.5,158.5 380.7,154.7 391,150.9 392.9,163.1 356.4,145.5 382.1,157.1 341,168.8 318.8,181.7 321.8,150.5 386.8,126.8 377,129.5 386.2,128.1 381.3,156.2 367.6,130.3 405.3,158.1 394.3,158.5 353.4,150 314.9,178.7 317,170.4 379.2,124.4 399.6,157.9 383.9,147.2 334.4,154.3 358.6,131.2 372.1,129 423.8,141.1 378.9,126.4 326.2,177.7 415.8,142 410.8,143.2 388.6,139.3 343,157.8 450,86.6 328.1,179.9 373.4,131.7 378.4,110.9 405.9,143.8 371.8,162 409.9,136.1 379.8,164.8 404,146.7 315.1,169.6 397,158.4 408.5,148.9 398.4,142.8 346.3,154.4 397.8,136.7 347.9,165.3 335.7,157.9 395.4,159.5 327.6,147.4 381.6,117.2 347.5,176.8 406.1,151.4 425.6,142.2 374.4,139.9 343.1,174.4 379.3,167.7 398,159.8 319.8,160.4 317.6,173 344,137.3 455.6,125.9 337.7,157.8 329.1,147.7 368.9,171 401.7,140.2 338.5,174.2 313.7,186.1 347.5,183.1 382.5,161.7 334.9,184.3 315,174.9 389.5,148.3 400.5,142 375.2,127.1 315.2,182.7 351.1,150.2 340.3,184.1 387.8,130.8 440,89.3 325.4,162.6 357.3,170.3 384.4,106.4 416.2,137.9 389.4,163.1 313.7,169.4 422.9,145.8 399.1,151.8 312.6,163.4 356.5,134.8 370,126.2 335.5,180.2 425.5,136.5 412,153.3 326.7,178.4 330,181.9 374.3,154.5 368.7,154.2 410,153 400.6,154.8 350.1,165.5 399.4,147.5 396.3,138.7 332.4,144.9 414.1,144.1 369.8,161.8 316.4,178.6 401.1,141 388.7,148.4 327.9,157 377.1,159.3 362.8,141.3 402,139.6 317,186.6 365.8,170.8 376.5,135.6 331,185.3 366.9,137.1 409.3,137.7 327.1,167 339.9,173.9 321.8,168.4 319.5,171.6 393.7,159.4 364.1,133.1 379.4,146.9 354.1,168.5 330.9,171.2 346.6,162.2 416.5,151.4 399.9,143.4 403.9,149.5 348.8,155.4 332.5,174 321.3,185.6 372.5,160.6 312.7,169.6 418.7,146.4 380.3,141.2 358.1,147.9 337.4,140.1 328.7,150.1 419.7,146.5 383.2,92.8 359.2,155 387,143.7 317.9,162.2 397.4,149.9 432.5,99.3 464.8,81.3 322.4,174.2 356.2,161.4 367.7,165.9 349.2,135 415.7,141 356.1,160.2 345.5,172.9 311.3,175.1 373.5,161.7 374.7,148.2 346.3,168.1 401.8,137 381,135.9 409.9,152.7 350,149.8 396.9,156.8 462.8,120.4 367.3,155.7 396.9,144.1 337.4,158.9 392,122.7 326.2,179.5 335.2,171.7 342.4,154.3 466.3,118.4 410.4,141.1 397.3,151.4 357.8,130.4 417.2,149.6 396.9,156.8 396.9,161.2 387.7,147.9 366.5,154 351.2,148 398.3,145.3 399,148.8 387.6,114.7 411.5,140.7 351.1,132.3 332.8,157.1 401.1,147.7 403.2,143.7 393.9,139.6 369.2,175.6 319.4,172.7 357.6,177.5 403.3,145.6 422.7,142.9 338.6,150 354,156.7 429.6,136.9 432.4,133.1 398.4,147.6 398.1,150.6 358.7,164.2 399.2,148.1 364.2,165.6 322.5,179 399.2,145.3 317.9,174.3 335.5,175.1 363.8,170.3 310.3,168 404.2,154.6 441.9,131.2 312.5,173.3 371.5,157.5 365.1,133.5 344.5,168.8 317.5,165.5 359.4,170 409.4,153.2 350.3,182.5 336.3,171.8 409.1,154.7 314.3,188 393.4,138.7 400.7,153.9 412.3,144.1 347.1,168.3 408.7,149.9 394.3,142.3 397.6,140.3 344.1,125.4 405.4,138.8 409.1,153.7 392.5,155.5 309.8,188.3 326.4,180.5 331.4,189 400.1,153.2 313.9,164.5 361.8,137.4 450.8,131.9 368.3,123.2 350.6,140.2 414,143.5 377.9,167.2 400.2,158.9 328.9,160.9 372.9,169.7 379.4,150.8 313,172 360.8,144.9 426.2,161.3 346.7,164.8 454.9,121.8 407.4,156.8 375,160.4 379.8,141.6 401,142.3 403.5,145.1 356.7,180.3 314.1,186.5 337.6,157.9 348.2,178.9 399.7,148.2 399.7,144.7 404.7,141.2 317.6,182.1 419.8,139.1 356.1,167.2 388.9,145.9 310.6,169.1 325.3,173.5 383,167.2 413.8,142.5 410.7,150.7 328.9,170.1 365.5,163.7 429,192 406.6,157.9 318.5,174.8 387.8,150.8 395.5,144.9 311.1,179.3 336,168.7 347.3,110 386.7,125.6 400.7,157 321.2,178.9 341.4,153.5 352.6,133.2 375.5,159.5 373.6,154.3 423.6,133.6 408.8,154.1 408.5,179 311.6,164.7 317,148.6 393.1,146.1 388.2,162.5 384.1,128.1 321.8,162.1 374.7,136.7 405.2,143.9 359.3,160.4 414.1,149.7 385.2,166.4 361.4,138.4 331,161.4 318,184.5 348.5,162 315.3,188.9 407.2,152 345.7,143.7 347.9,179.6 374.5,122.1 400.1,158.6 408.9,142 379.7,110.6 396.4,148.5 379.4,154.2 374.8,123.4 444.4,143 393.6,132.9 341.3,179 417.5,147.3 364.5,153 311,179.5 341.2,164.3 317.8,170.6 325.2,173.1 324.5,155.2 334.7,189.4 414.9,153.5 382.9,169.9 358.7,172.9 384.4,127.5 383.4,137.2 365,147 453.9,131.4 398,158.5 376.1,161.9 371.1,155.1 343.8,157.1 338.6,159.3 399.3,144 399.8,146.4 376.2,132 439.2,130.3 399.8,151.9 338.8,136 368.3,113.7 338.1,183.9 384.1,135.1 397.5,137.2 348.2,142.5 357.2,149.7 320,187.4 384.4,144.7 357,179.4 409.8,147.7 326.1,180.8 396.7,108.6 399.5,142.5 358.8,144.4 329.6,146.3 371.9,153.6 327,173.1 380.6,137.7 408.4,150.3 341.8,161.5 380.9,130.1 408.2,146 348.7,158.2 392.6,156.7 346.4,154.7 357.5,151.2 329.6,177.3 340.1,168.4 340.7,153 380.6,158.4 372.6,155.6 315.1,182.9 332,140.5 365.1,174.5 346.7,184.5 336.7,169.9 341,168.8 344.6,143.8 404.1,149.2 358.8,111.9 414.9,139.4 316.2,190.9 316.2,158.8 391.1,161.1 427.4,137.7 313,158.3 417.1,141 455.8,127.2 327.3,170 393,162.6 398.5,99.1 355.2,174.1 378.4,169.4 327.6,163.3 345.1,186.9 400.2,155.5 355.9,162.7 370.2,166.1 426.8,144.2 330.2,151.2 329,177.9 358.9,147.1 414.9,147.4 346.4,171.3 312.3,152.8 341.4,152.4 317.3,189.8 321.4,159.2 360.2,140.5 326.9,175 348,179.2 315,162.3 318,166.1 336.3,172.8 319.2,161.1 341.3,145.5 313.5,163.3 368.9,154.2 341.2,175.8 361.7,162.2 398.3,142.6 417,144.4 318.2,175 404.7,143.8 316.2,162.7 342.4,147.8 331.1,162.8 367.6,149.8 341.3,154.5 344.5,154.7 395.4,159.2 358.1,175.2 407.2,141.3 382,163.4 359.2,173 396,140.4 314.5,171.8 368.9,141.2 386.2,154.4 391.4,146.8 390.9,160.5 399.6,151.5 380.2,112.9 323.2,163.6 328.2,147.1 324.1,176.4 338.3,181.5 368.8,161.5 418,145.9 338.8,168.5 337.8,170.8 379.1,169.6 338.8,146.5 418.4,148 347.8,159 412.8,140.7 374.7,113.7 358.1,170.2 390.3,151.5 371.4,138 404.4,156.2 318.8,173.7 385,160 357,197 373.3,146.2 389.2,143 404,150 369.1,170.6 393.1,151 325.9,163.4 459.2,95.4 399.2,142 423.5,136.9 408.8,145.7 415.6,135.3 423.4,102.1 392.3,154.4 370.7,159 331.3,189.2 347.5,153.3 354.5,143.8 347.9,176.9 423.9,133.7 404.8,158.2 371.2,156.7 393.8,140.7 400,145.1 322.5,170.4 339.6,164.9 355.6,171.1 387.6,154.2 454,134 325.6,145.4 394.4,118.5 400.7,140.9 387.4,133.8 366,159.6 366.3,146.8 377.9,136.7 387.4,136.9 385.7,149.4 417.7,146 323.5,140.1 383.1,124.5 390.1,148.3 331.9,176 368.4,143.9 331.7,166 405.3,151.2 333.9,181 427.1,134.6 376.6,163.4 399.7,143.1 310.4,158.6 324.9,180.1 370.7,141 441.8,94.2 375.5,126.7 402.1,140.6 393.7,147.5 403.6,141.8 411.3,154.6 367.5,150.3 380.1,129.7 394.6,162.5 393.6,147.8 377.9,116.5 373.8,117.4 403.9,151.3 408.9,148.3 400.3,144.7 439.6,137.3 338.6,149 325.6,168.8 326.4,185.3 356.8,136.9 373.8,126.6 382.9,146.3 400.5,151.6 324.1,166.4 455.6,124.7 402.2,148.2 377,152.3 410.3,140.6 312.6,188.1 346.6,181.4 317,168.9 363.8,174.8 408.1,156.6 314.5,169.2 319.7,177.3 340.8,188.3 402.1,136.4 398.7,104.2 399.1,159.2 398.3,145 310.9,171.3 323.3,147.5 312.6,173.7 405.9,147.5 351.8,153.4 426.3,142.4 398.4,137.1 357.6,167.8 384.1,132.4 355.9,159.3 410.6,142.6 401.2,145.7 392.3,138.2 322.2,179.9 359,156.2 350.6,181.1 394.9,151.9 398.5,150.6 412.5,141.7 399.3,148.9 327.9,191.3 310.1,162.6 404.3,147 466.3,131.9 354.7,146.5 384.1,148.7 336.4,156.9 383.5,115.2 344.6,144.3 345.5,139.5 334,181.2 422.7,147 385.2,153.5 349.3,140.6 399.8,153 384.5,152.6 310.7,169.2 423.9,136.9 386.6,141.2 382,158.7 388.7,149.1 365.1,155.7 409.3,145.8 345.6,158.4 340.5,161.6 381.8,144.8 392.2,131.2 406.6,145.1 407.8,152.1 420.1,89.2 409.9,147.3 351.1,148.1 315,156.6 330.7,179.9 401.8,152.4 348.9,134 313.5,176.3 350.2,133.1 413.8,134.7 314.3,167.1 383.2,165.7 381.2,139.5 316.2,180.1 359.8,153.9 344.6,139.6 410.9,136.1 416,103.1 533.1,52.4 338,140.6 401.6,148.4 435.2,130.4 393.3,150.1 355.2,171.8 397.2,138.8 320.5,158.1 398.1,157.3 376.7,164.8 325.1,181.1 353.6,161.4 414.6,139.5 397.6,153.9 349.3,184.8 324.8,164.8 359.7,170.5 365.3,145.9 381.7,142.4 322.5,155.4 412.5,139.3 406,144.2 345.1,165 416.6,150 387.9,155.8 412.2,156.1 345.4,148.6 313.4,173.5 310.8,163 387.6,159 448.1,90.3 402.8,150.8 399.4,147.8 400.1,150.9 315.2,166.8 341.3,170.1 350.7,180.8 341.8,152.4 343.8,164.7 391.3,133.1 327.3,190.4 422.5,138.3 418.7,147.8 344.4,182.6 350.8,138.4 388.8,153.1 373.9,159.9 451.8,123.9 360,162.6 312.8,161.5 395.4,141.7 410.3,152.2 462.4,90.3 344,178.8 356.9,171.7 360.5,144 437.1,102.1 312.8,180.5 334.6,139.9 322,144.1 467.2,122 395.1,155 413.2,141.5 342.4,181.2 331.4,155 328.5,170.4 352.7,133.7 427.5,135.4 325.6,151.1 389.4,160.5 404.1,138.8 313.1,178.3 312.3,159 368.5,161.2 411.1,155 355.5,154.5 330.8,159.3 398.5,142.1 405.1,156.5 372.6,170.8 364.4,164.5 352.7,183.8 343.5,165.8 415.3,135.6 403.8,155.9 406.2,151.6 443.7,142.4 325.4,165.4 398.7,161.4 392.2,155.5 394.4,143.9 340.1,150 387.2,137 386.6,156.1 383.8,124.3 400.6,136.6 314,187 342.1,182.4 343.8,150.6 387.7,145.9 321.4,178.3 363.3,158.8 383.4,163.1 410,154.1 421,137.1 399.8,151 374.7,138.3 384.3,121.7 373.1,139.8 375.6,140.4 383.8,162.6 408.4,89.9 404.3,147.4 408.5,110.2 398.5,146.2 338.9,164.1 393.1,147 395.2,148.6 394,151.5 353.6,167.9 394.6,136.3 328.6,175.2 371.3,156.3 334.6,142.8 392.8,152.4 358,141.3 342.4,166.5 370.5,126.6 375.4,136.2 359.6,154.1 374.2,166.4 317.3,174.8 348.7,146.4 324.3,172.1 362.4,162.9 430.7,139.7 382.3,166.8 401.7,91.9 402.9,149.4 399,147.6 343.4,130.6 383,117.2 359.3,129.4 394.4,137 389,147.4 415.9,139.9 368.7,176.1 354.2,162.5 317.1,186.3 369.1,173.8 410.4,150.8 315.8,185 345.6,144.6 376.6,159.9 434.1,89.7 342.9,151.3 372.8,143.6 357,171 328.8,156.4 339.6,171.6 310.6,181.9 403.1,146.7 338.7,172.6 410.7,142.8 396.4,151.1 409.8,146.7 361.6,145 390.8,161.3 365.5,167.9 339.4,160.8 398.8,154.7 346.7,134.8 407.1,146.3 380.8,110.4 411.1,140.4 411,137.4 376.6,162.2 371.5,124.8 346.1,149.5 352.8,173.4 344,140.8 382,165.8 406.7,144.8 368.9,133.2 314.2,190.2 390.3,147.3 376.4,106.7 336.5,159.3 322.2,177 351.7,156.5 383.6,152.8 401.9,149.7 384.5,98.1 374.4,121.8 517.3,56.4 399.2,146.9 409.3,137.8 384.2,139.6 344.6,172.9 405,156.4 456.8,126.4 396.3,158.4 356.4,138.7 394.3,146.9 314,169.8 393.3,145 345.8,175.2 332.2,146 333.5,181.1 385.5,167.2 383.6,155.7 362.2,168.9 375,172.3 348.1,163.5 355.8,115.4 388.4,135 397.9,157.6 316.9,187.1 352.8,157.8 397.4,147.9 335.2,154.1 359.5,134.8 335.9,183.9 362.4,175 344,158.3 400.4,147.5 398.9,161.1 311.4,182.2 378.8,121.5 333.8,181.9 331,163.9 347.3,143.7 359.5,147.2 405.6,155.2 420.3,143.2 335.7,178.6 400.3,137.1 435.2,143.2 385.6,148.2 390.6,156.9 365.6,163.1 314,162 322.1,190.7 387.6,161.6 399.9,152.2 313.2,167.3 348.8,138.7 319.9,147.5 349.2,176.1 378.8,147.3 333,183.4 356.9,179.2 404.1,157.4 416,139.9 427.5,133.5 414.2,141.5 310.5,177.8 383.9,136.6 339.3,168.7 395,141.5 333.9,190.8 407.6,151.9 353,132.3 409.7,152.9 353.8,155.7 314.9,179.6 385.8,161.8 370,172.5 353.9,151.3 457.4,128.8 411.7,148.2 378.2,165.4 442.1,128.5 330.4,157.3 311.8,175.1 414.8,150.1 311.1,184.8 391.4,163 316.8,160 399.5,157.9 360.2,140.2 399.7,143.1 381.3,167.4 357,145.4 379.2,135.1 390,150.6 390,158.4 346.1,148.1 373.8,170.7 400.5,146.8 432.2,148.8 385.7,114.9 404.9,142.4 412,137.1 366.1,153.5 459.2,133.8 369.6,148.3 399.1,144.6 355.5,166.5 380.3,131.3 338.2,176.1 427.4,136.4 315.6,169.5 401.9,143.6 311.3,188.3 316.3,190.8 342,171.5 320.6,153 382.2,123.5 356.2,149.8 370.7,171.9 315.2,163.3 343.6,175.2 373.9,121.7 420.7,139.5 370.7,161.7 354.4,142.4 419,148.9 434.5,131.6 415.2,109.6 399.6,152.6 403.8,152.5 310.1,173 322.5,165.4 391.5,111.5 310.1,166.7 352.4,142.1 422.7,146.9 421.9,147.4 358.6,164.5 337.2,174.8 389.3,102.8 325.9,172.9 372,113.6 346.9,147.6 421.7,154 405.2,144.7 333.8,188.5 347,163.3 368.9,126.1 405.3,150.6 326.8,175.5 377.4,106 346.7,172.6 311.6,168.2 334,153.9 444,143 371.1,146.3 379,151.2 355,126.8 359.5,137.9 409.7,146.6 351.6,132.4 411.2,152.3 330.3,158 337.5,137.8 405.2,140.4 356.7,182.2 388,155.4 404.7,144.3 396.6,151.8 413.6,135.3 380,170.2 337.8,159.5 421.6,147.2 366.5,169 358.1,132.3 341.8,174.3 404,147.1 327.3,168.7 352.7,147.5 443.8,95 416.6,146.8 364.7,163.8 400.5,157.8 396.5,153.4 379,162.1 362.4,143.4 315.4,185.1 337,156.3 363.8,164.8 401.5,144.9 342.1,166.4 384,167.7 413.7,153.1 343.7,165.1 416.4,145.8 334.8,143.3 346.1,170 411.1,147.8 408.9,156.7 334.9,148.6 397,136.2 461.9,132.6 344.9,175.7 412.1,146.1 321.8,185.9 390.2,86 417.9,156.9 341.6,173.3 331.6,178.3 385.1,143.1 379.8,142.1 419.6,106.5 399.7,136.6 406.5,154.2 378.1,155.4 321.9,162.9 401.6,148.4 392,164.1 463.4,92.8 310.2,169.3 374.8,121.1 365.5,160.9 316,154.6 367.4,155.9 364,139.5 403.1,142 346.9,161 327.4,153.2 391,136.4 330,143.5 417.8,146.8 345.7,154.3 315.4,150.8 329.7,175.8 420.1,139.1 385.2,142.4 381.1,144.1 381.3,155.8 362.1,159.2 335.5,156.2 368.2,168.4 343.3,178.3 332.2,188.6 325.8,152.4 315.7,189 318.3,154.7 394.8,148.4 366.3,168.2 338.3,136.5 343.3,173.2 335.5,159.6 359.3,155.4 405.4,144.4 324.6,176.6 347.8,145.6 335.2,163 318.2,180.5 423.9,102.7 333.9,175.1 410.4,143.2 346.1,155.7 327.7,178.4 412.6,149.5 321.7,160.5 512.4,62.2 405,148.6 380.1,168.5 381.3,150.3 315.7,150 338.4,181.4 364.4,139.6 402.9,144.4 401.6,147.8 346.8,182.4 399.7,141.9 334.2,173.2 385.1,162.8 359.4,176.4 317.4,150 404.5,143 311,166 367.9,166 329.8,162.6 392.8,159.7 378.7,108.5 342.5,139.1 353.7,176.5 406.9,141.2 368.7,136.3 406.4,106.4 415.6,143.6 311.4,159.1 371.2,133.6 338.3,151.5 463.6,79.6 378.5,128 339.1,168 447.9,125.3 448.3,103.5 353.8,182.3 324.9,187.4 351.6,167.8 359.5,164 387.3,157 424.1,136.3 334.6,172.2 412.7,148.5 349.1,164.8 402.9,159.4 393.7,135.2 390.6,145.6 361.4,163.2 408.7,148.2 322.3,162.8 358.5,161.9 351.8,168.3 471.7,162 336.8,159.6 379.6,150.7 361.9,171.4 343.6,178.7 361.6,160 364.4,109.4 330.2,183.8 349.1,169.3 391.2,163.6 320.9,188.4 324.6,170.8 393.8,154.2 323.3,162.1 418.7,138.1 443.4,90.8 343.8,130.9 487.6,52.4 421.5,132.6 325.4,150.2 406.8,153.5 346.3,181.3 309.8,189 328.8,155.7 324.8,165.3 405.7,143.5 417.9,136 426.1,141.2 411.8,146.8 329.8,179.7 402.2,140.8 325,181.9 447.3,79.7 372.6,173.2 423.3,144.8 310.3,177.8 371.9,159.1 310.4,188.4 336.3,175.3 346.4,180.6 424.6,148.8 411.4,155.6 400,139.7 403.3,140.6 353.9,179.4 393.7,150.4 318.1,154.2 324.2,175.8 399.5,152.9 388.6,150.8 352.3,136.7 428.4,142.5 401.8,158.4 381.2,119.3 319.1,181.4 372.7,162.3 420,80.2 342.8,166.9 329.3,179.1 373.4,151 369.9,150.6 374.5,113.1 343.7,173.3 401.3,152 318.7,189.9 411.6,143.1 416.8,148.9 310.7,163 357.7,151.4 342.3,167.8 400,140.8 386.7,107.6 391.2,157.5 399.7,155.1 319,143.6 374,161.5 331.6,174.3 397.3,146.8 374.9,134.4 442.4,128 400.6,154.2 453.3,121.9 374.6,164.9 319.5,167.9 363.2,127.2 399.3,161 326.5,152.1 370.6,162.4 400.1,153.6 311.3,180.2 331.7,144.6 391.6,141.2 328.6,183.7 310.8,167.9 321.1,162.8 389.4,160.3 401.3,150.5 319.6,182.8 425.1,136.5 411.3,150.9 312.5,188.1 338,143 394.8,150.9 389.3,131.7 327.5,178.4 377.9,142.4 395.6,149.5 411.2,150.6 331.3,148 350.6,144.3 317.5,166.5 363.5,138.9 407.3,146.2 394.7,109.7 444.5,138.5 355,120.9 409.8,142.6 353,151.7 319.5,150.8 378.2,131.4 320.3,189.3 392.7,151.2 344.5,171.9 362.2,154.9 399.2,140 375.4,159.2 351.2,151.5 320.5,156.1 333.5,162.1 399.3,145.7 403.2,149.2 379.7,128.3 401.3,147.4 319.9,181.3 467.3,116.3 382.4,152.2 338.5,146.4 332.3,159.2 423.7,145.3 350.2,124.2 388.6,142 401.5,138 399.9,137.5 399.5,155.9 347.4,156.4 400.8,155.3 400.5,99.4 311.4,172.3 399.5,144.1 317.2,191.7 400.1,157.1 371,169.1 341.9,151.8 343.1,179 420.8,145 343.7,188.4 415.4,141 393.5,115.8 361.9,146.6 388.7,129.4 356.7,159.2 351.7,161 335.5,148.1 373.4,142.1 316.8,183.7 322.8,180.8 343.7,132 310.1,191.1 310.2,165.7 379.5,151.8 384.3,164.2 327.3,182.3 468.1,129.7 337.9,139.5 342.3,188.4 355.3,176.3 318.4,163.8 382.1,161.2 338.5,163.3 446.8,124.7 417.7,151.9 373.6,153.6 388.9,141.3 362.3,172.3 320.9,171.9 400.4,157.2 408.9,145 389.9,152.8 384.4,159.9 335.8,160.9 317.7,183 357.8,155.8 439.6,138.7 401.4,158 322.9,157.1 356.1,136.1 411.3,142.5 344.4,169.1 374.5,143.4 384.5,129.5 456.6,95.4 394.5,152.9 390.1,138.1 334.2,171.9 396.4,107.1 384.7,141.5 382.8,138.8 392.1,162.6 447,145.5 393.2,154.1 356.2,161.1 396.7,148.7 416,141.3 333.9,157.2 477.3,65.5 396.7,145 404.5,117 342.4,188.2 395.8,140 327.6,182.8 377.4,170 357.1,157 330.5,184.4 405.5,151.8 358.7,149.9 345.7,152.7 420,133.6 383.5,118.6 348.5,158 405.4,137.8 365.3,127.3 338.2,149.7 354.9,149 425.7,143.7 346.5,144.2 389.6,133.5 409.3,155.4 342.8,139.5 400,151.9 380.4,123.8 389,166.5 381.2,139.9 322.5,175 415,151.7 392.8,143.8 374,136.2 389.4,152.7 320.3,164.4 445,159.7 359.1,179.6 355,180.9 363.5,174.9 401.9,143.1 355.2,140.8 330.9,162.8 349.8,169.7 403.4,150.5 321.6,166.8 389.5,131 414,144.3 329.8,159.1 365.7,175.3 424.1,132.2 344.1,159.2 451.3,93.2 388,157.1 324.7,166.5 451.7,132.5 407.4,149.5 352.2,148.1 318.7,153.5 362.5,123.2 412.1,137.4 351.3,175.2 363.4,162.6 370.3,170.3 410.1,150.8 315.9,170.9 382.8,144.1 338.7,175.3 328.8,166.2 325,171.4 396.2,142.2 399.1,140.3 324.1,174.1 377.6,161.5 393.3,145 398.6,157.4 335.1,170.8 347.3,165.6 353.2,138.9 343.1,154.7 405.5,138.3 403.5,149.2 382.2,143.5 332.9,151.5 357.1,125.3 401.2,157 419.5,151 320.1,175.1 351.5,152.4 425,144.3 325.8,174.8 400,150.9 425.2,135.3 390.6,162.8 343.4,138.3 352.6,167.8 409.4,144.3 327.8,169.1 399.7,147.1 336.6,145.1 417.7,142.6 420.5,134.4 361,128 380.6,143.2 341,161.9 362.7,143.7 432.4,141.8 381.8,136.5 396.3,159 359.5,137.2 319,152.8 395.1,145.8 426.7,135.5 341.8,181 378.8,148.4 398.7,155.7 365.5,127.8 399.4,149.7 393.6,155.8 388.4,130.9 356.9,126.1 310,173.3 348,171.7 390,161.1 381.4,127.5 416.5,146.4 411.3,142.8 322.5,182 361.4,175.6 359.2,149.6 398.4,160.9 365.6,139.6 332.6,143.7 394.9,150.7 350.8,153.1 367.8,131.9 393.7,137.4 329.3,143.5 410.6,141.1 343.7,178.7 379.1,152 348.1,162.3 374.3,143.9 386.6,161.5 333.6,165.7 393.1,139.6 376.9,119.5 387.4,158.2 447.5,129.3 392.5,141.6 345,145.1 338.4,168.3 384,138.4 399.1,161.3 312,181.2 394.7,153.7 396.1,155.8 347.4,141.3 311.9,155.9 338.3,168.8 315.5,168.2 439.4,137.2 315.2,160.5 371.3,107.7 380.8,163.3 346.7,171.7 400.6,153.3 404.2,147.3 358.1,174.9 329.3,154.6 385,128.9 341,170.1 333.1,174.8 408.5,153.8 412.5,153.1 389.3,140.2 326.6,177.1 394.4,147.7 366.5,173.6 311.1,190.1 381.7,149.5 445.7,106 349,137.3 353,153.7 381.9,151.8 399.5,138 378.6,134.5 373.6,167.8 362.5,150.4 398,157.6 354.6,155 317,188.5 406,138.2 365.2,160.8 376.6,157.5 417.8,133.2 352.4,162.9 376.2,123 377.9,138.4 312.6,172.7 315.6,165 441.1,117.6 325.9,170.9 395.7,152.8 358.3,139.2 311.3,183.4 405.5,142.5 467.7,125.4 357.3,167.4 459.9,97 326.2,163.6 311.2,155.9 350.8,160.3 334.2,178.5 398,115.1 339.3,170.4 363.8,177.7 324.5,165.4 348.2,164.9 380.2,136.5 400.6,146.5 405.8,156.5 379.8,87 386.6,159.6 385.7,120.2 409.2,143.1 350.3,164 386.6,140.2 334.1,161.7 374.1,136.1 417.6,138.1 369.1,145.5 400.6,145.5 373.4,121.5 381.4,152.5 399.2,151.3 337.6,177.7 367.3,161.7 322,161 403.1,154.8 380.6,143.9 395.6,161.3 408.4,146.7 408.2,140.8 351.6,147.8 406.5,152.9 395.5,137.4 356.6,131.1 416.4,94.3 399.9,146.6 394.2,142 407.7,149.4 340,160.5 331.6,148.3 404.7,151.6 400.3,143.5 390.6,150.1 313.3,191.9 408.9,148.8 367.3,140.6 341.8,181.7 399.1,154 372.5,170.9 425.2,145.8 331.8,155.1 458.8,122.7 324.4,175.3 361.2,163 345.9,161.2 399.7,149.2 342.8,168.9 401.8,139.2 366.7,114.6 417,146.6 363.4,175.3 343.4,181.4 345.5,136.3 377.1,142.1 382.9,129.9 355.8,175.6 338.5,155.1 417.9,147.2 358.1,140.5 367.3,169 316,164.5 399.8,158.4 317.3,176.3 401.4,147.7 374.5,138.9 313.6,151.8 329,189.1 356.2,172.1 403.6,145 407.2,136 370.6,161.3 370.4,159.1 400.6,139.3 406.1,135.9 328.4,190.8 391.8,159.7 353.2,126.5 417.8,147 335.6,146.5 360.5,137.6 375.2,169.6 369.8,155 407.8,153.4 374.9,174.2 384.1,123 437.9,131.3 357.2,168.2 324.7,184.8 346.1,152 413.3,124.8 393,139.5 380.4,120.3 332.2,150.5 309.6,190.2 352.3,174.4 441.3,128.5 350.4,122.5 373.5,142.1 319.5,143.6 345.3,152.1 316.8,182.1 415.9,155.1 352.2,159.5 369.6,141 311.5,162.1 401.6,155.7 393.7,163.5 445.5,72.5 364.2,172.9 375.3,148.4 374.4,134.9 471,72.5 338.3,159.7 356.7,133.1 400.1,156.1 336.7,140.5 419.3,134.3 345.8,133.6 326.7,182.5 389.6,106.6 398.8,147.8 370.6,120.6 395.5,159.4 378.5,137.3 333.7,156.2 370.8,154.2 375,164.2 363.4,156.8 401.7,151.7 401.1,149.7 326.7,158.4 398.7,145.2 327.5,183 421.5,139.1 399.9,147.2 388.9,148.3 384.4,157.8 326.4,170.6 421.3,136.7 373.9,153.1 359.2,176.9 394.3,126.8 392.5,146.1 332.7,167.1 353.2,144.6 394.2,133.3 317.6,185.4 410.6,152.1 392.3,150.5 398.2,159.8 374.5,143.6 338.3,173.4 415.6,145 318.4,163.9 317,156.3 315.7,178.3 321.3,166.7 329.1,187.2 345.5,160 372.2,150.5 388,130.4 384.7,153.7 343.8,130.6 354.4,155.4 396.4,155.3 329,151.2 418.6,146.3 418.4,140.1 313.9,182.7 383.6,161.2 335.1,168.5 357.6,152.8 380.5,160.9 338.4,183.5 338.5,170 348.4,181.3 321.2,152 335.8,141.8 310.1,165.5 353,162.5 383.9,112.5 339.3,145.6 368.5,159.8 398.1,140.1 377.6,98.5 336.8,186 407.4,139.8 329,178.7 400.2,159 398.6,161.5 341.4,173.7 395.8,139.3 320.8,138.6 404.1,155.7 387.2,138.7 353.7,179.9 333.2,175.8 387.9,152.8 419.6,138.2 420.7,140.1 405.9,153.3 364.4,146.2 372,172.6 328.4,169.4 358.1,127.2 386.4,134.6 320.3,155.3 319.6,159.6 338.2,184.5 316.4,184.6 416.2,149.1 401.6,152.3 354.7,142.3 407.7,137.7 369.5,162.3 335.9,139.3 403.8,153.2 369.6,152 415.1,139.5 359.4,169.4 379.4,156.1 403.5,158.2 372.4,113 400.2,149.4 334.5,168.1 398.3,143.5 370.7,175 319.9,167.3 322.9,179.5 370.8,165.4 355.4,141.1 333.7,167.4 399.3,146.6 311.9,179.6 340.8,149.4 309.6,161 326.7,170.9 414.8,151.3 407.3,153.9 356.4,148.4 393.1,148.7 373.3,170.6 360.4,174 413.6,142.8 351.5,138 421,138.8 334.2,174.9 373.3,128.7 412.3,136.3 403.6,148.3 389.1,148.8 430.7,132.1 414.7,140.3 394.4,107.7 401.4,158.2 372.5,150.9 378.8,159.3 395.5,153.5 403,142.4 313,178.9 312,184.1 381.7,104.9 423.8,138.2 407.6,153.7 400.6,144.5 379.4,131.5 398.3,146.6 411.2,144.4 394.5,162.1 312.5,156.3 425.2,147.1 374.2,157.5 323.6,190 412.2,153.9 329.4,168.2 327,177.2 317.9,162.2 399.4,147.2 338.6,146.5 383.1,139.2 331.3,179.4 372.4,136 389.6,143.4 401.6,150.9 342,134 400.5,152 395.4,162.1 371.8,143.4 323.5,147.7 338.8,166.8 366.5,128.9 385.7,145.8 361,137.4 396,157 400,144.7 347.9,130.5 398.7,151.9 311.3,187.1 343.5,163.2 418.7,140.7 334.3,136.3 336.8,135.8 490.9,58.5 406.3,143.7 390.6,140.7 399.4,142.3 315.1,155 340.8,152.3 361.9,128.7 453,83.4 394.4,142.7 423.1,149.5 368.6,173.3 322.4,171.1 395,157.3 369.6,144.2 363.3,154.2 396.7,157.9 314.7,190.7 310.7,158.6 364.5,139.6 311.8,168.5 408.6,138.1 391.9,149 368.6,161.4 320.8,187.5 317.6,163.8 427.6,143.5 372.9,154.6 315.4,179 402.5,140.8 311.2,185.6 376.4,144.4 367.9,141.2 365.4,150.8 371.2,128.6 399.9,159.3"/>
</g>
<g opacity="0.38" filter="url(#b2)"><path d="M312 161L313 157.7L318 152L333 144L344 137L352 133L364 130L375 120L382 121L388 131L395 141L409 142L418 138.6L418 148L409 152.5L395 159.5L388 163.5L382 167L375 170.5L364 175.5L352 180.5L344 184.5L333 187.5L318 188.5L313 188.1L312 187.5Z" fill="#a80808" stroke="#a80808" stroke-width="2" stroke-linejoin="round"/></g>
<path d="M309.5 179.3L534 86.5" stroke="#000" stroke-width="2.7" stroke-linecap="round" fill="none"/>
<path d="M309.5 179.2L534 85" stroke="#e41212" stroke-width="2.7" stroke-linecap="round" fill="none"/>
</g>
<rect x="304.3" y="44.2" width="80.3" height="30.2" rx="1.6" fill="#fff" fill-opacity=".8" stroke="#dedede" stroke-opacity=".8" stroke-width=".8"/>
<g filter="url(#b)"><circle class="k" cx="318.8" cy="52.2" r="3.4"/><circle class="r" cx="318.8" cy="66.4" r="3.4"/></g>
<text class="s" x="337.4" y="55">Prediction</text><text class="s" x="337.4" y="69.2">Real</text>
<text class="s" x="385.2" y="55"><tspan class="i" font-size="12.4">r</tspan><tspan class="i" font-size="7.2" dy="3">predicted</tspan><tspan dy="-3" style="font-size:9.9px">= 0.63</tspan></text>
<text class="s" x="385.2" y="70.8"><tspan class="i" font-size="12.4">r</tspan><tspan class="i" font-size="7.2" dy="3">real</tspan><tspan dy="-3" style="font-size:9.9px">= 0.71</tspan></text>
<rect x="300" y="39" width="244.4" height="162.2" fill="none" stroke="#1c1c1c" stroke-width="1.3"/>
<text class="s" x="303.2" y="215.7" text-anchor="middle">0.0</text><text class="s" x="342.3" y="215.7" text-anchor="middle">0.5</text><text class="s" x="381.4" y="215.7" text-anchor="middle">1.0</text><text class="s" x="420.5" y="215.7" text-anchor="middle">1.5</text><text class="s" x="459.6" y="215.7" text-anchor="middle">2.0</text><text class="s" x="498.7" y="215.7" text-anchor="middle">2.5</text><text class="s" x="537.8" y="215.7" text-anchor="middle">3.0</text>
<text class="s" style="font-size:10.8px" x="422.2" y="229.5" text-anchor="middle"><tspan class="i" style="font-size:11.2px">Sa</tspan> (g)</text>
</g>
<g>
<clipPath id="c2"><rect x="42.4" y="248.6" width="244.6" height="162.3"/></clipPath>
<path class="g" d="M77.8 248.6V410.9M131.4 248.6V410.9M185 248.6V410.9M238.6 248.6V410.9M42.4 373.2H287M42.4 336.4H287M42.4 299.6H287M42.4 262.8H287"/>
<g clip-path="url(#c2)">
<g filter="url(#b)">
<polyline class="p" marker-start="url(#mk)" marker-mid="url(#mk)" marker-end="url(#mk)" points="59.5,339.4 56.1,389.3 126,340.5 217,330.4 263.7,324.1 122.8,348.3 129.3,373.8 254.4,377.5 207.7,305.8 264,336.2 118.4,342.4 118.1,342.2 257.5,346.3 122.7,363.2 271.2,357.9 56.2,324.5 217.4,389 276,375 118.2,376 263.6,341.9 115.5,323.8 56.4,359.7 115.4,366.4 200.3,368.1 200.5,355.1 59.7,358.3 59.6,388.8 62.3,378.7 207.7,318 129.1,382.1 198.5,373.2 126.2,348 118.5,386.8 263.6,353.7 118.1,393.3 126.4,371.5 198.4,324.2 122.8,364.9 211.1,355.4 210.9,366.8 211,345.5 62.3,365.8 59.8,361 266.5,327.1 276,315.8 254.2,378.5 59.6,386.8 59.4,375 56.5,382.4 56.1,397.4 210.7,348.2 122.6,357.2 129.2,359.2 115,334.3 263.9,367.6 207.8,339.8 270.9,360.4 122.5,345.5 62.3,365.5 217.3,345.7 266.4,319.4 198.4,389.1 271,379.7 118.3,338.4 129.1,382.6 126,360.7 210.9,305.1 59.7,369 254.2,384.8 276.2,378.5 207.9,313.6 210.6,382.9 115.3,361.4 254.2,309.7 200.2,356.7 56,377.8 118.4,384.8 53.5,375.8 200.2,369.3 210.6,345.8 198.4,358.4 118,371 118.2,388.2 126,393.2 126.2,348.9 118.3,346.9 208,290 126.3,387.5 217.1,384.8 257.5,307.5 257.5,383.7 59.7,365 217.2,369.4 122.8,337 118.2,333.3 266.5,359.9 118.3,391.8 263.9,362.5 266.2,343.9 263.7,324.5 115.1,363.3 118,376.7 122.8,331.7 270.9,380.7 129.4,379.3 266.5,333.8 217,381.2 266.2,337.5 115.2,336.8 62,371.5 210.9,354.4 122.8,380.5 59.7,380 254.2,379.3 257.3,366.7 254.6,316 276.1,345.9 207.6,363.9 118.2,394.9 198.6,377.5 200.2,377.8 263.9,375.3 118.2,352.2 200.5,356.8 207.9,312.8 198.6,362.9 59.5,363.8 118.2,381.5 276.1,334.1 257.5,340.2 271.2,363 129,337.7 266.4,350.2 53.6,381.7 53.4,364.9 217.2,387.1 263.7,337.5 64.5,384.8 115.3,387.6 62.1,399.1 254.3,319.1 210.8,328.4 122.6,327.4 59.6,366.1 200.4,380.6 200.5,370.7 211,347 207.9,370.7 129.2,344.2 257.5,351.9 122.6,393.9 263.7,329.3 263.8,383.5 271.2,364.8 126.4,333.7 126.2,360.6 59.5,346.1 266.3,337.4 126.2,328.4 64.3,395.5 198.4,366.2 198.6,353.5 210.8,363.9 271,371.8 276.1,376.4 64.6,398.7 129.2,373.9 210.5,389.9 115.2,354.6 200.3,361.5 64.5,361.5 210.8,311.1 118.3,390 59.7,397.1 200.5,327.7 126,359.1 266.4,301.9 62.5,354.1 207.7,387.7 217.2,382.4 123,393.5 198.5,327.3 276,362.2 53.6,360.4 207.6,387.2 122.7,387.1 123,391.4 217.3,388.1 210.9,345.6 59.6,327.1 207.6,303.9 271.2,344.7 115,338.1 276.1,363.3 254.1,382.9 59.7,395 270.9,343.7 210.8,356.5 59.6,401.4 115.2,378 200.4,380.7 122.7,373.5 210.8,315.5 263.8,300.9 118.3,373.4 128.9,365 254.3,369.1 254.2,355.6 59.6,379.4 266.5,373.8 129.2,380.2 126.1,363 126.3,335 64.6,357.9 264,370 198.6,348.5 115,376.3 115,358.3 126.5,367.5 56.3,355 254.3,367 59.5,386.4 276.2,355.5 266.4,334.9 271.1,348.7 122.3,330.3 210.7,350 263.7,366.8 118.3,364.4 254,324.3 217.2,359.7 122.7,327.2 118.1,394.7 64.7,344.4 266.3,382.7 266.1,367.1 62,373.2 198.2,325.3 129.5,328.6 263.7,294.5 115,353.5 60,383.3 198.2,381.7 211,380.1 266.3,304.3 129.1,332.7 118.3,348.8 59.9,383.2 207.9,306.2 254.2,361.6 53.3,331.1 53.6,378.4 211,317.1 198.5,311.2 122.6,314 208,376 276.1,339.8 62.2,371.8 115.4,358.6 270.8,363.2 200.1,355.6 266.6,343.3 126.4,330.9 266.5,374.9 207.8,346.5 257.5,373.8 122.6,393.9 59.6,359.4 56.3,384.3 129.3,386.6 207.7,391.7 129.4,389 115.2,377 198.3,387.8 64.6,398.1 207.7,343.9 53.3,390.9 122.8,368.9 210.9,328.7 64.6,383.5 122.7,326.4 62.1,344.5 210.6,359.2 126.1,347.9 266.4,297.1 210.8,378.7 59.6,358.1 266.4,359.8 270.7,370.9 207.9,363.1 126.4,392.6 122.8,381.1 264.1,307.5 122.5,320.3 56.2,388.3 275.9,373.7 271.1,350.8 257.4,365.5 115.5,344.9 207.9,391.7 210.6,349.2 276,347.3 198.5,357.2 118,387.5 257.7,345.7 217.2,386.5 56.1,366.5 207.8,359.7 62.1,384.4 276.1,352.2 53.8,367.3 207.8,307 53.5,384.6 208,380.1 207.9,379.3 276,383 254.2,355.1 64.4,373.4 210.7,317.9 122.6,393.8 59.7,379.4 129.4,371 217.3,301.7 129.2,388.3 217.2,346.8 118.2,389.6 210.4,315 59.7,379.5 263.6,332.1 263.9,341.3 56.3,376.4 210.8,304.7 126.2,361.4 55.9,377.2 254.4,353.7 207.7,385.8 257.6,352 254.1,347.4 276.4,374 210.7,322.9 207.7,350.6 59.6,349.2 275.7,255 208.1,303.9 56.2,383.7 266.5,381.9 198.4,392.3 210.5,360.5 129,377.8 62.3,387.5 254.5,300.3 115.2,390.5 200.2,376.6 59.7,366.8 264.2,350.2 257.5,357 263.7,375.8 59.7,388.4 208.1,339.2 125.9,390.1 118.2,327.5 118,388.2 115.2,347.9 200.4,371.5 200.1,346.8 217.3,354.7 207.9,380.9 53.5,396.2 208,312.1 217.1,378.6 211.1,303.8 129.1,380.3 129.3,370 115.4,374.1 210.7,389.8 118.2,372.2 126,331.4 207.9,318.3 210.7,303.7 263.8,301 271.3,356.2 266.4,373 118.3,362.9 257.3,387 122.8,325.5 207.7,333.9 211,312 207.8,389.6 200.5,355 254.3,362.5 56.1,357.9 64.6,397.3 207.8,346.4 257.4,357.4 59.9,354.7 257.6,351.4 56.4,395.9 263.9,365.6 217.1,378.6 122.6,379 59.8,345.8 64.7,371.8 210.7,342.2 263.7,369.3 122.4,316.8 217,348.5 126.2,355.2 270.8,379.8 53.6,365.9 56.4,394.9 62.2,395.9 122.5,341.3 126.1,341.5 276.1,371 118.3,366.7 210.9,353.9 210.8,335.5 62.1,357.8 115.1,381 115.3,371.6 62,378.4 263.5,339.5 217.2,381.4 122.8,371.3 129.2,362 56,376.8 254.1,378.8 210.9,372.1 211,371.8 126.4,329.4 207.7,328.3 118.2,365.8 62.3,389.9 275.7,367 56.1,385.6 208,345.6 198.5,362.2 118.5,347.7 115.1,367.8 56.5,391.8 276,327.2 56.2,391.4 126.5,345.4 56,368.9 129.2,381.5 207.8,347.1 210.9,309.6 62.2,383.6 198.7,367.8 59.7,337.7 56.1,398.7 118.1,391.2 257.4,385.1 118.1,373 64.4,387.1 122.6,357.7 129.1,357.1 276.3,362.2 217.4,281 209,268 253.9,383.1 263.9,330.5 56,355.4 56.5,373.7 126.3,377 266.2,331.8 263.7,337.7 122.8,324 198.5,341.8 217.2,380.7 270.7,367.6 210.9,374.5 64.4,382.2 217.2,378.8 264,333.6 129.3,393.7 266.5,364.8 266.4,376.9 210.9,306.5 56.1,359.4 207.9,338.1 59.4,357.1 266.7,311.5 129.1,342.4 264,352 276.2,358.9 257.5,385.8 254.1,348.8 59.6,355.2 264.1,353.8 114.9,363.1 263.6,344 62,366.7 266.4,328.6 207.9,369.1 254.2,369.2 122.9,336.2 115.1,363.6 257.8,384.6 64.6,385.5 200.7,382 198.5,375.7 207.8,362.5 275.9,381.2 210.8,306.8 276,355.7 64.6,381.6 266.6,365.9 60,347.9 200.3,373.6 254.2,352.4 64.6,381.3 115.1,377.6 198.1,372 266.4,347.2 207.7,328.8 255.6,265.6 126.1,371.2 53.8,358.8 254.1,316.3 64.5,353.2 200.2,368.7 263.7,332.7 118.1,343.1 115.1,350.5 115.3,357.2 115,345.9 276.3,352.8 263.8,356.9 207.9,348.4 118.1,389.5 53.7,390.1 257.4,386.2 53.6,361 198.3,326.5 122.7,328.5 270.9,321.7 62.1,367.5 129.4,355 266.5,346 207.4,387.9 276.1,300.7 115.3,350.5 129.3,344.5 122.7,386.4 122.7,327.4 263.9,367.4 118.1,392.8 122.7,349.8 122.4,379.1 266.2,327.2 270.9,304.8 263.9,338.5 56,388.5 264.1,356.1 210.8,334 62.3,359.3 200.3,355.4 115.4,339.9 53.2,352.5 198.5,374.4 271,320.5 118,383.8 200.3,386.3 217.4,376.1 207.4,352.9 56.2,344 122.3,381.4 126,370.8 263.6,329.4 62.4,348 207.7,369.4 266.3,334.4 53.5,392.7 276.2,363.3 275.9,378.7 59.6,354.3 128.9,362.8 122.6,336.5 129.3,345 53.3,382.5 210.9,361.1 200.5,352.8 208.1,315 263.7,315.2 129.2,353.7 115.1,365.2 126.3,388.9 257.1,380.4 198.4,383.7 217.1,360.7 126.1,329.2 257.4,385.9 198.2,377.2 210.7,356.3 200.4,334 271.1,374.4 210.7,379.2 271.4,348.1 263.9,360.9 64.6,360 64.5,391.2 115.1,361.5 126.2,342.8 59.7,351.3 126.2,364 59.8,354.6 266.6,338.7 198.6,355.2 125.9,345.4 257.5,332.8 257.6,318.7 217.1,368 210.9,351.9 210.6,327.9 122.5,358 271,384.3 210.9,338.7 62.1,364.3 207.7,374.1 115.1,393.3 200.7,365.7 270.9,368.3 266.3,382.7 198.4,355.4 264,316.6 217.2,376.9 266.3,372.8 263.9,343.7 53.6,390.6 217.3,386.9 264.8,258 276.1,376.5 207.8,325.7 125.8,344.8 217.3,314 217.1,343.6 122.6,356.7 62.3,386.1 210.6,375.5 264,340.8 257.5,372.8 266.4,350.6 198.3,378.4 257.5,385.7 129.1,349.6 217.2,386.7 62.1,386.2 266.2,357.3 129.4,346 217.3,346 56.4,401.3 62.1,358.1 53.5,382.9 207.8,376.9 198.2,383.4 266.3,384.2 118.1,337.8 59.9,372.9 118.1,392.4 122.7,360.1 254,344.7 210.7,337.4 59.6,350.7 207.7,384.7 122.6,356.4 217.5,351.4 56,341.6 122.9,387.7 207.9,354.6 257.7,368.6 114.9,369.2 263.7,340.1 118.2,386.7 62.5,357.7 271.2,323.4 271,359.2 129.3,342.8 64.7,376.1 217,312.5 198.4,391.2 59.7,352.1 129.3,394.4 200.3,357.5 210.6,355.8 126.3,324.6 270.8,332.8 129.5,355 122.4,325.5 266.7,340 60,386.5 266.4,327.4 198.4,382.4 126,383.4 118.3,375 217.2,366.5 129.2,322.9 210.8,357.5 198.3,377.9 129.3,351.5 207.6,321.3 210.9,355 266.3,337 59.7,380.7 115.2,348.2 270.9,342.9 126.4,380.3 271,344.3 210.7,387.8 198.7,393 62.5,375.1 217.2,353.7 207.8,307.6 210.7,347.7 276,315.5 56.3,363 207.3,283.5 62.1,361.5 59.5,383.9 59.4,389 198.6,385.9 56.3,376.8 266.3,385.3 276.2,368.2 62.1,331.7 276,355.1 122.7,348.4 198,304 275.9,354.9 59.7,369.9 254.3,377.1 64.8,380.2 266.1,352.3 263.8,308 118.2,347.1 126.3,375.1 122.7,344.1 115.2,376.8 200.6,375.5 62.3,383 126.2,344 126.4,389.8 62.1,349.1 129.3,357.7 122.5,357 56,401.3 53.4,380.9 129.4,386.8 210.7,319.4 208,325.7 254.3,350.3 56.2,345.3 122.8,322.1 266.6,328.9 118.4,344.3 126.2,350.8 129.2,351.8 118.1,332.9 198.6,351.4 115.3,377.7 257.7,363.2 210.9,359.2 53.5,379.9 59.5,358.3 254.3,366.8 118.1,362.3 62,374.6 207.7,334.2 266.4,368.3 126.3,337 64.6,373 53.2,380.6 122.6,346 126.3,356.7 115.2,392.8 263.7,367.7 56.3,395.8 129.1,348.6 207.8,303 115.2,388.3 118.4,385.2 271.1,381.8 122.7,389.1 266.5,343.2 257.4,353.4 56.2,376.1 126.1,384.6 62.2,375.6 257.8,367.3 126.3,342.3 270.8,378.6 207.9,308.4 266.4,339 62.2,354.4 200.4,361.8 207.8,389.3 271.1,373.6 254,366 271.1,343.1 263.8,378.6 257.5,369 211,346.5 122.6,375.3 122.7,362 217,312.1 53.2,395.8 270.9,348.9 62.1,350.1 122.9,324.7 122.6,387.7 56.1,394.5 125.9,342.8 217.2,300.2 272.4,257 129.2,329.3 266.5,309.1 254.3,349.2 64.9,387.9 207.6,322 200.1,365.1 118.1,374.8 271.1,371 122.7,374.7 266.2,358.6 264,368.5 270.9,299 125.9,382.1 53.6,350 266.2,308.5 257.6,373.3 56.3,383.4 264.1,317.6 263.8,362.7 198.3,360 62,382.8 64.5,391 126.4,315.8 263.7,362.6 263.8,351 126.3,372.4 270.7,368.8 276.2,377.2 254.2,373.6 254.1,383.7 210.7,351 210.5,292.6 200.2,366.6 217.2,343.3 254.3,384.2 207.6,326.8 62,395.6 126.4,343.2 207.8,347 198.3,348.9 200.5,385.1 208.1,312.7 211,321.4 62.2,373.5 211.1,360.4 53.5,398.7 217.2,366.6 266.4,365.4 118.3,321 275.9,361.7 254.3,310.6 276.2,349.6 122.8,385.7 198.2,359.1 254.2,344.6 263.5,372.4 257.4,357.5 126.2,376.4 263.7,359.5 128.9,362.6 257.5,364.3 263.6,339.1 254.2,361.5 62.2,390 56.3,366.1 217.1,370.1 207.5,372.9 56.2,366.5 210.8,342.6 266.3,384.9 275.9,381.7 129.1,377.8 64.4,399.2 56.3,358 64.6,383.4 62.2,399.4 271,379.1 53.6,394.8 207.9,372 56.1,394.6 271.2,324.2 275.8,314.6 217,363.8 115.4,386.2 207.7,375.8 217.2,353.7 257.4,373.2 115,376.2 207.6,305.8 129.2,357.7"/>
<polyline class="p" marker-start="url(#mr)" marker-mid="url(#mr)" marker-end="url(#mr)" points="129.1,320 122.5,317.1 61.9,366.9 118,351.5 254.2,387.2 207.6,382.6 269.7,290 126,333.7 217.1,339.1 207.4,362.5 122.7,382.2 129.2,395.8 276,374.7 275.9,348.2 198.4,372.5 115,321 207.6,348.5 114.7,378.8 59.6,350.7 55.9,401.3 61.9,359.4 118.1,338.8 115.1,389.6 198.2,368.2 254,367.8 263.8,326.5 217.3,346.2 117.9,359.4 270.6,350.1 57,327 257.3,347.4 53.2,395.4 210.4,372.6 125.9,325.9 217.2,370.2 122.5,334.7 61.9,366.6 200.1,379.6 198.4,391.9 217.2,363.9 126.2,344.9 122.5,372.5 270.5,341.8 55.9,354.3 266.2,327 265.9,387.6 263.5,350.7 200.2,391.9 266.2,378.5 59.7,343.9 53.3,391.5 210.5,375.6 56.1,365 270.6,370.6 270.7,342.9 257.3,334.6 263.6,377.2 210.8,325.8 118,367.1 59.6,350.9 263.5,342 117.9,397.4 275.8,358.7 210.7,321.8 128.8,348.3 257.2,355.2 129.1,385 115,393.9 207.6,303.3 254.1,355.7 64.4,346.6 126.2,392.9 198.1,328.5 62,383.4 207.7,361.8 56.1,387.7 126,350.6 198.3,382.1 53.1,380.5 59.5,345.5 266.4,306.6 59.7,394 125.9,381.2 114.9,349 207.6,349.4 118.2,370.1 61.9,378.7 118.2,355.1 270.8,375.5 56.1,391.3 198.3,381 266.2,377.3 122.5,324.3 276,349.9 207.8,326.8 118,349.6 59.5,346.1 207.5,307.8 115.2,324.5 118.1,325.9 125.8,368.1 207.5,347.2 122.6,377.8 276.1,374.2 275.9,382.7 263.4,368.8 56,358.9 126,327.3 125.7,380.2 122.4,378.1 115.3,355.8 275.9,364.9 207.7,391 207.8,351.9 118.2,350.3 263.7,362.6 254.1,348.7 53.3,398.1 275.9,349.7 216.9,362.3 217,382.8 55.8,383.3 210.4,365.7 270.8,362.6 270.9,333.7 217,377.1 118,386.7 198.2,339.5 266.2,349.9 114.7,346.6 122.4,385.1 53.3,392.9 129,384.7 210.4,362.1 122.5,359.5 53.3,397.1 276.1,361.6 59.6,357.3 59.3,375.4 217,389.2 122.6,394 122.6,367.9 200.1,379.4 122.5,352.6 128.7,346 207.5,366.7 62.1,357.5 115,380.9 257.5,373.1 210.5,328.1 200.3,376.2 275.9,347.5 118,357.3 270.7,383.9 270.8,344.5 200.3,391.8 59.6,393.5 126.1,393.7 55.8,339.1 128.8,381.6 64.1,398.5 56.1,368.2 117.9,361.8 125.8,340.8 198.3,380.4 59.8,401 254.5,266 115.1,363.5 55.9,370.2 257.3,386.8 254.2,381.1 266.3,334.1 270.6,364.4 115.1,370.4 125.9,365.5 59.3,379.3 122.5,372.6 122.7,396.6 266.4,335.7 198.3,372.1 129.2,349.9 200.2,351.7 207.4,303.6 207.7,339.1 263.7,343.3 56.1,323 59.4,378.9 263.7,333.4 115.1,384.3 198.2,318.2 200.3,329.9 115.1,366 270.8,362.4 122.3,350.2 254.1,377.6 126.2,382.6 257.1,353.5 62,378.9 56,381.5 198.3,349.4 126.3,353.7 266.4,382.4 217.1,372.9 257.2,377.6 117.8,360.3 266.3,331.2 266.2,371.6 266.2,383.7 266.5,355.9 276,376.5 115.1,389.6 210.6,341.9 64.5,382.5 207.5,363.9 117.9,349 200.3,386.4 129.1,352.9 55.8,337.9 122.9,386.6 62,374.9 55.9,382.1 210.6,364.2 126,352.9 64.4,377 254,380.1 55.8,397.7 122.3,337.4 59.7,393.3 53.4,393.5 59.6,355.8 266.2,373.4 207.7,322.2 198.3,376.9 263.8,336.3 210.3,307.6 207.2,367.9 122.4,365.6 126,392.4 254.1,340.5 126,323.9 210.5,331.8 210.5,319.1 210.6,390.6 115,393.3 59.6,375.9 200.3,374.8 64.3,380.3 257.2,347.2 129,328.5 217.1,383.4 126.2,314 122.5,352 198.3,379.2 128.9,387.4 200.3,366.7 210.7,322.3 117.9,354.6 56.2,370.5 217.1,309 200.3,351.8 126.1,350.3 210.6,329.3 210.6,309.4 125.8,383.6 217.2,358.1 263.7,309 62.2,399.6 199.9,360 263.5,329.8 125.9,347.4 263.6,351.3 266.2,298 270.5,380.4 266.1,386 200.3,363.4 263.7,380 129.1,362 275.7,312.1 115,384.1 198.3,327.4 125.9,354.1 275.9,339.8 64.3,368 217.4,333.5 129.1,344.2 61.9,396.7 270.9,300.8 257.2,356.1 62.1,386 257.6,381.3 207.6,303.7 53.1,391.3 275.9,345.2 275.6,374.9 126.1,371.7 122.5,339.8 125.6,377.8 254,358.5 263.9,327.4 266.3,342.7 216.9,376.7 122.6,332.4 125.7,351.4 128.9,344.3 115,341.5 61.7,398.5 210.6,352.1 207.6,366.9 56,370.1 126.1,348.2 263.6,289 210.4,359.7 253.7,387.9 263.4,385.1 270.7,377.4 56.2,367.2 266,353.8 210.6,356.9 266.1,384.3 126,350.7 55.7,402.5 118,378.6 207.6,325.8 118.1,380.1 122.6,324.6 55.9,356.2 198,361.1 266.1,300.3 257.2,383.5 126.3,384.8 207.5,331.6 207.7,376.2 266.1,340.1 122.4,349.1 55.8,363.8 254,387.1 125.9,334.3 122.7,354.2 64.4,384.3 275.8,372.6 263.7,302.5 59.6,395.8 115.1,370.4 207.4,368.3 59.3,360 270.8,379.7 62,358.1 200.4,392.4 128.9,350.5 257.4,349.1 200.1,361.1 115,353.3 263.7,324.8 257.2,368.5 253.9,351.8 217,375.4 61.8,369.2 61.8,354.7 207.5,315.7 200.1,369.2 122.5,310.1 122.3,368.8 115.2,357.2 257.3,357.9 122.1,351.2 210.6,342.6 122.6,349.4 59.6,354.6 210.5,390.9 271,366.4 114.8,359.5 262.3,270 207.6,307.6 275.7,344.3 129.1,360.9 64.3,377.5 210.5,390.8 115,389 126.1,391.3 61.9,393.9 125.9,384.9 198.2,382.1 62.2,373.4 64.5,382 118.1,382.7 61.9,385.1 198.4,366.5 210.6,338.7 53.2,356.8 62.2,377.4 122.5,331.2 207.4,295.1 217.1,305.9 122.4,345.4 254.3,321.6 274.6,263.4 122.5,396.6 129.1,368.2 217.3,377 266.4,290 210.9,366.1 217.1,358.3 216.9,346 266.2,373.1 61.7,360.7 62.1,385.8 207.5,384.5 128.9,393.3 126.1,371.7 53.6,378.4 53.3,392.9 210.5,332.6 122.7,324.4 210.6,316.7 275.8,383.6 64.1,366.5 129.2,382.7 210.5,320.3 200.2,371.2 198.1,381.2 263.7,378.9 118.3,386.6 207.7,312.6 61.8,381.9 62.1,368.3 129.1,378.7 129.2,378.6 126.1,373.1 257.2,351.8 61.8,396.6 126.1,394 207.7,328.8 62.1,398.8 275.9,380.7 56,352.5 117.8,361.4 118.1,333.5 115.1,367.2 207.7,375.6 253.7,352.5 216.8,358.7 266.3,371.1 198.2,379.4 129.1,395.9 115.2,371.6 129,325.5 125.8,333.4 210.6,358.5 275.5,368.9 61.8,361 55.9,347.1 125.7,382.6 126.1,363 263.7,362.3 62.1,384.8 200.1,349 254,306.5 125.9,393.3 59.5,339.4 198.2,376.2 266.2,361.2 263.8,372.5 59.5,370.4 55.9,394 266.2,353.7 210.8,325.7 210.6,362.2 61.9,356.9 270.6,383.2 200.2,388 271.1,383.1 217.2,376.2 198.3,367.8 217,359.4 263.4,307.2 200.3,367.6 263.7,322.3 263.8,340.9 55.9,357.5 207.9,320.2 263.9,383.6 56.1,382.8 53.4,400.8 122.5,333.6 270.7,345.8 217,350.7 200.5,367.3 198.2,380.5 59.3,353.2 210.5,312.1 253.8,341.5 211.3,280 275.9,385.8 126,394 56.1,388.2 207.5,326.5 122.3,352.5 210.6,337.6 263.4,328 263.4,321.4 53.3,359.9 114.6,365.9 275.9,296 61.8,368.7 200.1,356.5 254,360.1 56.1,372.3 122.3,341.8 264.5,279 257.4,367 128.8,375.8 257.1,363 200.2,362.3 257.4,366.9 198.2,389.3 263.8,387.7 275.8,355 210.4,366.7 59.7,377 200.3,368.5 253.9,308.3 59.5,373.4 254,346.4 198.1,369.6 53.2,381.5 263.7,373 115,360.1 118.1,342.1 270.6,377.1 266.3,323 198.3,378.3 263.4,334.2 207.9,286 275.8,349.6 266.3,373.1 128.9,341.1 266.1,375.8 56.1,391.9 200.2,365.7 129,391.9 56.2,361.2 198.3,380.5 126,344.2 64.3,368.1 128.8,388.1 122.7,357.7 275.9,347.7 125.9,384.6 210.4,329.8 118.1,366.7 217,331.3 115,348 263.7,369.6 56.1,393.3 126,377.8 270.8,344.8 271,369.8 59.5,394.7 275.8,383.7 265.8,334.3 207.8,334.7 200.1,352.7 207.6,334.2 62.1,397.8 275.6,307.8 64.1,382.5 270.6,370.2 207.6,369.3 275.8,367.1 117.8,361.3 266.2,386.6 270.8,387.2 115.3,379.7 216.9,377.5 254.5,272.3 266.2,366.2 266.2,368.2 210.9,338.5 61.8,387.4 276.3,347.5 55.9,369 275.8,361.9 59.5,349.1 257.2,381.8 117.7,333.9 254,353.2 56.3,400.5 210.6,365.8 128.9,356.9 118,363.5 216.9,389.5 198.2,353.2 122.7,308 263.6,354.9 59.5,390.9 207.5,343.6 200.2,365.3 126.1,342 210.5,391.8 207.6,388 125.9,392.9 61.9,393.5 64.4,387.5 266.2,348 59.7,384.4 118,392.4 207.3,380.1 210.6,338.6 122.5,348 263.6,327 55.7,374.8 125.8,348.3 59.8,386.8 207.7,351.1 126,352.4 263.7,371.4 122.4,375.6 122.6,338.4 53.1,382.5 59.3,386.4 207.4,329.2 266.2,383.8 207.6,341.1 254.2,383.9 53.2,332.2 210.7,367.3 56,396.4 126,354.5 253.9,361 207.4,382.3 114.8,368.5 122.6,342.8 263.5,332.4 200.1,389.6 59.4,388 126.1,353.2 266.3,321.6 253.9,379.2 275.8,347.1 129.3,350.5 270.8,358.8 270.8,343 59.6,364.1 198.1,378.7 117.9,387 56,386.1 217.3,343.1 207.7,307.2 62.1,364.4 200,363.8 114.8,347.2 126,321.9 210.7,307.2 117.7,339.8 257.3,369.3 263.4,374.8 257.1,387 59.6,354.8 198.2,360 122.4,335.4 207.7,379.9 62.2,357.9 56.2,355.7 53.3,360.7 122.3,362.1 64.2,395 114.9,381 210.5,343.2 115.1,376.7 216.6,350.3 198.2,347.6 257.3,374 197.9,358.3 210.7,380.2 207.6,306.7 128.8,354.9 270.9,309 118,388.6 117.9,355.8 200.4,383.2 62.2,352.1 59.6,383.1 118.1,381 62,341.6 122.4,372.9 210.5,299.2 207.5,393.3 62,330 253.9,346.8 59.4,384.9 210.5,363.5 200.5,362.3 200.3,384.6 125.9,334.2 266.3,375.1 61.8,394.4 55.9,352.7 59.8,370.3 59.5,379.3 62.1,367.2 198.1,354.8 129,372.7 266,345.1 59.5,345.1 117.8,350.9 257.3,358 198.3,368.5 275.9,348.4 266.2,332.6 266.2,356.8 266,323.9 257.6,373.3 263.6,344.1 64.3,338 255,392.6 207.7,322.7 217.1,349.1 207.8,343.2 217.1,361.7 207.5,360 126,392.5 61.7,350.1 117.9,367.1 216.9,354.5 217,389 207.7,393.2 64.3,380 210.6,368 266.2,330.5 200.1,376.3 217.2,353.8 59.6,376.9 270.9,365.1 216.7,378 254.1,319.4 117.8,373.3 122.7,338.9 263.3,365.3 56.1,398.7 117.9,343.4 200.1,364.2 198.1,356 270.7,384.6 264.5,263.4 263.8,372.1 263.6,365.9 217.2,351.5 122.6,324.4 275.8,362.3 59.6,345.2 59.3,400.1 207.5,386.4 126,349 114.9,360.1 56.2,378.8 200.2,386.3 197.9,355.5 275.9,352.2 117.9,395.6 53.1,375.1 64,387.3 59.4,384 266.3,332.9 114.9,385.8 122.4,381.7 275.9,351.2 118,389.1 207.7,321 56.1,384.2 207.6,360.7 62.1,368.9 263.7,320.8 266.1,358.9 217.1,358.9 122.2,374.5 263.5,362 263.4,344.7 118,389.2 263.7,345.8 118,395.9 64.3,366.8 207.6,338 122.2,352.8 207.6,376.7 62.2,383.4 55.8,394.2 263.7,366.3 198.3,383.5 117.8,389.8 210.4,326.3 200.2,361.3 270.6,343.8 128.7,366.2 55.9,367.5 118.1,368 266.2,386.9 59.6,346.4 210.5,360.4 257.2,363.7 117.9,373.3 210.6,335.8 53,381.2 128.7,350.5 275.8,346.4 200.5,389.9 62,393.5 115,364.4 265.8,362.7 216.9,386.1 128.5,346.7 263.5,351.8 122.3,372.2 59.4,374.9 210.8,333.5 64.3,390.2 115,350.8 115.1,374.9 265.7,271 210.5,346.1 122.7,336.9 56,371.3 126,353.3 126,364.2 257.4,319.9 122.5,348.9 125.9,370.4 210.6,344.7 263.5,384.6 263.6,374.6 257.3,383.4 275.9,351.1 125.9,333.5 59.7,365.1 59.5,391 122.7,397.1 200.3,355.7 275.8,329.6 270.8,350.3 266.5,357.2 217,379.4 117.9,389.4 275,280 275.8,348.4 64.5,390.9 126.2,382.7 263.6,357.7 118.1,342.9 59.6,397.4 122.5,386.8 129.2,368 128.8,362.8 197.9,354 129,365.1 114.9,365.9 276.1,360.2 276,315.2 254.2,356.7 198.3,377 210.7,370.2 257.3,367.2 125.8,335.3 53.4,382.3 217,344.8 266.1,326.1 198.2,318 114.9,344.6 275.8,342.2 217,269.6 53.3,381.4 253.8,346.6 64.2,346.7 59.4,391.5 263.3,368 61.9,398 118,392.1 207.4,345.2 275.6,353.7 56.2,375.2 266.4,336.9 210.6,376.4 53.3,393.4 217.1,368.4 114.9,384 62.1,389.3 208,263.8 207.5,386.3 117.9,354.4 210.8,351.8 210.4,333.8 257.3,355.3 129.1,389.1 62,398.7 263.5,332.7 257.4,359.8 56,360 61.9,388.8 115.3,355.6 115.1,327.2 115.1,387.4 216.8,356.5 122.6,379.8 210.5,353.7 263.5,379.2 62,392 217,301.3 56.2,392.8 275.8,377 207.6,390.5 198.2,378.9 210.9,373.9 254.2,359.5 62.2,393.6 125.8,363.7 64.4,385.9 207.5,307 117.9,388.1 270.9,371.8 210.6,377.9 122.6,321.8 126,368.8 263.5,376.8 270.7,352 263.6,360.8 53.4,362.7 270.6,367.8 115.2,344.4 59.6,356 64.1,373.7 207.5,345.5 210.4,387 61.9,401.9 125.9,344.8 129,376.8 207.6,382.9 257.2,349.5 198.1,387.2 210.6,380.2 263.5,323.6 64.3,346.3 276,356.4 270.8,345.7 115,325.5 64.3,385.8 266,372.2 271.1,369 210.7,343.2 257,379.2 275.7,348.6 62,357 207.5,291.3 207.5,385.9 56.1,374.5 276,341.2 253.9,347.2 56.1,399.3 275.5,352.8 64.2,378.9 62.1,391.2 53,389.3 207.4,385.7 129.1,325.2 271.1,368.6 207.5,372.8 210.7,389.4 56,373.8 271,353.9 114.8,362.4 64,395 115.2,390.7 200,385.8 266.1,381.2 53.4,353.1 59.4,353.8 118,342.9 56,362 207.6,355.2 59.5,367.4 200,390.8 129.1,352.9 125.9,377.4 210.7,343.8 115,396.8 266.1,383.9 210.6,311.9 266.1,368.7 129,391.9 122.5,322.4 117.9,391.4 276.1,362.4 59.4,390.3 59.8,386.3 263.8,354.2 117.9,377.8 210.8,315.1 210.5,354.6 56,367.9 216.8,311.9 210.2,360.2 207.5,350.4 207.3,316.8 59.2,355.2 200,373.8 122.6,376.8 271,349.8 263.9,289.7 263.9,332.3 62.3,367.5 200.2,368.2 210.8,308.1 263.7,377.9 276,359.1 53.2,385.8 198.3,391 216.8,360.7 61.9,370.3 211,340 263.8,343.9 114.9,347.2 257.3,362.4 207.4,335.5 55.9,399.3 53.3,399.1 59.4,383.4 210.4,328.2 129,367.2 61.9,361.4 62.1,364.1 128.9,341 55.7,343.8 253.8,355.6 56,374.1 271,383.5 198.4,354.4 118,387.6 59.3,353.7 275.9,350.7 207.6,326.4 270.7,341.3 264.5,260 118.2,362.6 266.1,323.8 125.8,390 128.9,331.1 198.3,340.7 266.3,344.6 263.6,373.9 122.2,329.3 122.2,365.4 263.7,336.2 198.1,366.8 126,380.7 207.6,389.9 266.1,385.3 129,365.7 53.1,376.3 115,370.9 207.3,343 266.3,337.9 276,351.9 117.9,385.4 129.3,394.6 122.5,384.5 128.9,385.7 210.4,365 115,373.9 266.3,326.3 257.2,350.9 263.7,328.7 126.3,364.8 117.9,354.5 129.1,379.2 126.2,372.4 129,375.9 115,363.7 122.5,328.2 266.1,388 128.9,340.5 64.4,396.2 210.5,325.6 263.3,371.8 263.7,357.8 207.6,324.8 126.1,331.5 200.4,387 59.4,379.4 275.5,347.8 56,382.6 266,335.4 55.9,397.7 207.5,335.1 114.9,346.9 115.2,354.5 210.5,321.2 257.3,359.3 122.5,393 216.9,364.5 207.4,352.9 53.3,379.4 126,378 200.5,383.1 128.9,347.9 254.1,348.4 266.4,366.2 266.2,369.7 56,399.2 61.8,382.7 122.6,364.1 210.4,353.9 55.9,394.9 270.7,375.2 200.3,363.7 122.6,325.4 53.4,362.8 117.7,373.5 59.7,393 200.3,351.8 55.9,376.5 122.5,338.3 200.1,391.9 59.3,402.6 198.2,348.3 56.1,383.1 254.1,358.3 275.8,366.3 210.4,355.5 59.4,346.7 122.5,348.3 254,376.9 266.5,354.1 198.3,382.4 62.2,399.8 270.8,303.4 53.3,384.2 64.2,372.4 216.9,306.6 118.2,347 115,387.1 200.3,365.7 114.9,381.6 125.8,396.2 270.9,356.1 53,394.8 59.6,370.6 263.5,377.6 53.3,378.8 276,382.2 64.4,380.1 207.7,373.3 270.6,341.3 266.4,337 61.9,393.9 207.6,352.8 263.2,328.6 53.1,357.5 207.4,380.7 263.7,372.6 254,383.9 270.8,350.9 210.5,343.1 207.7,340.9 210.7,340 114.9,362 115,358.8 64.3,374.4 263.6,339.5 263.5,382.8 266.3,353.5 271,373.2 275.7,309.4 216.8,382.8 275.5,352.8 254.1,352.1 118.1,396.8 62,400.2 207.6,328.8 207.8,347.7 210.6,325.6 198.3,359.4 53.5,387.4 254,371.5 128.8,358.9 128.9,342.5 129.1,381.4 207.6,345.8 263.4,326.3 115.2,374.5 122.5,315.7 210.7,306.3 53.5,379.8 55.8,390.9 266.3,378.2 270.8,355.8 122.7,364.2 129.3,390.6 53.5,377.9 207.8,371.2 126.1,350.3 207.3,303.7 117.8,359.1 200.4,360.5 117.8,340.2 217.2,364 216.7,350.9 118,362.2 122.5,340.2 266.3,346.9 254.1,347.7 217,385.7 263.6,314.7 200.1,384.7 129,387.3 207.2,386.4 122.7,353.5 275.6,373.5 275.7,370.4 122.5,371.3 117.8,373.8 64.3,349.7 56.2,388.2 122.5,321.4 59.3,365 200.3,350.7 114.9,387.8 114.8,349.2 64.2,385.8 210.6,322.6 114.9,374.5 210.4,377.9 207.5,303.8 118,342.9 198.1,384.5 207.8,356.5 207.5,338.2 55.8,338.5 62,398.8 263.6,305.2 217.2,308.9 275.7,379 128.9,345.7 210.8,338.6 122.6,332.8 263.6,359.8 207.4,377.9 200.2,320 207.8,367.2 129,369.7 198.2,380.1 210.8,346.7 122.4,360.5 207.5,301.8 129.1,383.6 276,304 210.5,315.7 271,353.8 263.3,350.4 217,372.7 128.8,378.7 207.8,326.8 118,374.9 115,334.1 253.9,366 270.8,357.6 254.2,348 207.5,379.2 129.2,334.9 200.1,370.9 207.5,331.1 198.1,357.7 217.2,372.6 122.5,374.9 117.7,338.8 128.9,344.1 270.9,379.7 257.4,381 53.2,386.8 64.3,379.3 59.4,366 115,384.2 257.4,357.5 266.3,331.5 114.9,387.4 275.9,352.6 61.9,378.6 56.1,396 59.5,366.1 263.8,326.9 126.1,339.7 198.3,327.9 198.4,362.2 62,342.1 210.7,307.2 266.2,365.1 263.7,354.7 210.5,320.9 129.1,344.5 217.1,362.1 129,361.1 275.9,310.4 126,346.8 217,364.9 59.3,342.6 122.5,342.1 64.3,367.1 210.5,334.2 118.1,355 210.7,372.7 266.5,368.7 207.5,350.5 210.5,321 254.1,374.2 59.8,351.7 217,384.3 122.4,358.2 210.6,356.1 263.7,326.5 198.1,373.3 198.3,373.1 59.6,373.1 207.6,351.1 270.7,376.3 122.6,373.2 64.5,377.5 64.4,377.2 210.9,355 61.7,345.3 253.9,366.3 64.4,374.5 275.8,347.1 53.5,398.2 200.5,350.8 263.7,385.6 128.9,393.8 263.6,354.6 263.3,322.7 210.6,392.1 217.1,388.2 263.2,381.5 128.7,355 263.7,368.2 207.4,335.5 210.6,327 254.1,298 198.3,378.6 208,274 270.6,351.7 126,337.9 53.2,374.3 53.2,343.9 53.2,397.4 263.6,371.4 59.4,391.4 126.1,378.3 200.2,364.2 257.2,361.3 63.9,365.5 210.4,350 122.5,390.1 59.4,377.7 254.2,384.7 122.4,393.6 122.4,374.8 263.4,370.5 122.3,370.4 257.1,374.2 270.8,350 263.6,354.4 207.5,370.9 59.4,349.3 114.9,374.7 53.4,352.6 253.9,308 210.8,372.9 207.5,336.9 199.8,331.5 129.1,358.6 207.6,311.5 210.6,318.6 114.9,389.5 207.8,379.5 53.3,381 263.3,383.3 56.2,338.3 257.2,357.6 266.1,310.7 271.1,373.3 207.9,331 126,388.2 117.9,368.5 217,379.9 275.9,359.3 263.4,310 207.5,321.7 207.6,338.6 263.8,301.6 270.7,385.3 253.9,368.6 62.1,378.4 64.4,377.3 117.9,346.8 126.4,345.9 198.1,341.2 270.8,361.9 62,357.7 122.4,357.5 207.5,345.8 129.1,349.1 257.5,355.7 59.4,325 254.3,345.8 125.8,358.2 210.6,306.4 122.4,341.5 257.2,388.4 53.3,326 256.9,381.3 257.4,347.6 59.9,402.2 266.4,383.3 122.2,392.6 253.9,382.5 59.3,356.5 118.1,351.2 126.2,326.1 210.6,373.5 275.8,374.9 114.8,395.1 122.3,384.9 257.4,361.6 266.3,371.9 126,343.6 53.2,368.8 217.5,388.3 64.2,368.9 126,359.9 265.9,354.2 210.7,372.6 253.9,371.1 210.7,336.2 266.2,344.2 56.2,377.9 55.8,399.4 62.1,373.5 129,373.7 207.7,362.4 126,368.8 198.3,347.9 207.6,332.1 59.5,376.3 210.6,365.2 210.8,330.2 266.1,375.2 207.5,318.9 59.7,398.9 210.6,393.2 270.8,382.3 270.9,373 207.4,328.7 198.1,383.1 217.2,371.8 59.6,396.1 198.6,350.2 266.1,349.5 210.5,346.3 198.4,350.4 263.6,367.8 257.3,376.4 64.3,393.3 254,385.3 118.3,378.2 53.3,400.5 118.2,351.2 122.8,334.4 129.1,395 64.4,348 125.9,347 118.1,367.5 210.5,353.5 125.8,380.3 61.8,353.3 55.8,397.7 263.6,359.8 266.2,338.6 207.5,392.1 207.5,366.2 126.1,365.1 118.1,355.9 275.9,384.7 122.2,344.6 115,396 126.1,364.5 266.1,313.9 115.2,387.6 257.5,347.2 254.2,351.7 270.8,344.1 207.5,353.7 200.2,383.5 56.2,399 275.7,344.5 125.8,356.6 129.1,340.9 198.2,306 257.4,363.9 270.8,380.4 266,333.7 207.4,346.8 207.5,325.4 56,380.8 198,375.9 64.3,351.7 115.2,376.9 217.1,366.4 263.5,361.7 210.6,383.7 61.5,371.9 254.1,386.7 207.4,328.2 200,356.1 207.5,313.2 257.4,385.2 62,404.5 59.5,391.2 210.9,333.3 275.7,349.9 210.6,323 271,344.3 276,350.6 122.4,334.2 254,340.5 210.7,330.8 263.6,346.4 198.2,325.2 265.9,360 122.6,355.9 122.4,329.8 253.8,382 266.3,381.8 207.5,317.6 257.3,381.6 129,368 63.9,371.1 266.1,350.2 59.5,354.6 266.1,338.7 207.5,390.8 257.4,357.9 53.4,350.9 266,341.6 270.6,321.2 200,364.6 266.2,335.3 59.3,382.6 53.2,376.8 263.8,346.6 64.2,371.7 55.9,370.9 128.8,372.5 266.3,327 216.9,352.6 263.6,328.5 122.2,392.3 270.5,324.5 118,353.9 61.6,349.7 61.8,355.6 265.8,372.5 270.9,355.1 270.7,331.8 126,333.1 115,346.2 217.1,363.4 53.5,386 200.2,370.6 217,383.3 115,345.5 62,377.5 257.3,373 254.1,387.5 270.9,380.1 53.5,325 62.1,369 254,377.5 210.6,355.5 266.1,347.3 210.5,391.5 198,374.3 207.8,304.9 210.6,340.3 275.8,365.7 270.9,301.8 128.9,361.8 216.9,324.8 117.7,343.2 59.4,370.4 53.2,389 253.7,352.2 122.4,319.5 266.1,363.1 59.5,342 122.3,345.4 275.9,377.7 270.8,369.7 275.7,303.6 122.4,382.3 59.6,381.2 129.2,340 56.2,343.6 257.5,380.3 118,387.7 210.8,323.7 122.5,356.7 129.2,324.9 264,317 198.1,352.3 56,373.9 270.8,370.9 257.3,324.6 122.6,365.2 210.5,319 198.3,359.5 118.1,397.3 64.4,388.7 198.1,365.4 210.7,382.1 263.6,359.7 59.4,341.9 210.6,351.7 61.8,372.9 129.1,352.1 263.6,330.7 122.7,350.6 270.5,345 207.7,305.5 263.5,381.4 253.7,354 200.2,357.5 59.5,344.7 271,344.1 207.3,376.6 118,354.2 275.9,364.5 64.5,399.8 122.7,383.1 216.8,380 207.8,371.1 254,350.3 257.2,323.6 122.5,386.6 62.1,353.6 216.8,370.5 266.4,308.5 207.6,382.4 263.7,353.8 114.9,394.1 266.2,346.3 59.5,347.4 64.1,390.4 198.3,374.2 198.2,370.6 125.7,395.9 56.1,384.6 115.1,385.4 217.1,358.5 216.8,389.8 257.4,305 263.9,332.9 122.6,333.3 263.5,320.3 118.2,342.7 117.8,322.9 263.8,325.4 200.2,342 210.5,382.2 210.5,372.2 257.2,381.6 257.3,359 270,264.5 200.4,385.9 254.1,353.8 122.6,328.6 207.8,367.1 64.3,372.3 61.9,357.8 217,366.8 263.7,376.6 122.7,391.3 122.5,332.7 198.3,365.8 263.4,305.8 210.5,378.3 115.2,396.7 126,360.9 271.1,375.3 210.2,384.8 254,354.6 64.3,392.6 115,396.6 207.5,366 115.1,344.4 118.2,396.4 64.3,375.4 266.1,334.2 126.2,352.9 59.5,357.6 276,348.4 122.7,397.7 266.1,336.1 254.1,348.1 129.2,358.7 122.5,394.8 210.6,386.3 257.1,345.5 198.2,381.3 56,375.3 275.9,349.6 200.3,361.9 216.8,384 115,388.6 125.8,379 64.3,375.8 56.2,402.2 198.3,353 207.6,317.9 198.2,360.5 200,372.3 59.7,352.9 257.2,374.5 257.1,349 257.3,360 128.9,360.4 217,297 266.1,322 266,371.3 207.7,311.6 266.1,366 122.8,391 115,375 56,389.5 270.7,351.8 114.9,371 217.2,378.4 257.6,369.1 217.2,380.7 62,350.1 207.5,318.1 198.1,358.9 115.2,349 216.9,367.9 122.6,368.5 276.2,367.9 257.3,374.9 253.8,377.4 199.9,383.7 126.1,367.6 64.1,390.2 216.9,352.8 263.6,302.5 126,342.7 265.7,310.1 265.9,353.9 129.1,345.1 114.9,343.9 122.5,363.9 207.4,321.6 266.4,362.6 265.9,356.8 122.5,357 270.7,350.2 53.3,383.4 217,383.2 62.1,367.5 114.8,350.4 263.5,346.2 122.4,372.2 115,366.4 117.8,381.8 257.2,375.1 125.9,374.3 122.5,356 122.3,347.5 59.8,397.6 210.8,388.6 216.3,294.6 118,364.9 56,357.9 126,393.9 128.8,347.9 257.5,357.6 118,384.3 118,336 56,391.9 125.9,329.9 122.5,381.7 117.9,364.5 122.5,365.3 266.3,340.3 59.5,382.3 122.5,351 64.4,386.4 59.7,380.3 117.9,394.5 263.6,384.7 128.9,359.6 118.1,331.4 210.3,391.7 200.2,372 263.4,326.2 253.7,354.3 62.2,342.3 125.8,331.3 61.7,392.6 263.4,376.1 254,328.5 122.8,390.7 64.3,397 263.6,368.5 126.1,378 126.4,333.3 55.9,399.5 207.6,305.4 275.6,364.4 210.8,348.2 59.7,371.3 253.9,357.3 254.3,347.3 122.6,336.5 254.1,371.2 126,372 217.2,388.5 217.1,350.8 115.1,352.4 210.5,379.7 271.1,295 129.3,329.2 207.5,361.8 217.1,379.8 122.4,359.1 56.2,382.1 125.9,376.1 53.2,382.3 254.1,369.7 59.5,360.5 56,367.3 129.1,343.7 207.8,370.3 122.8,379 122.4,390.6 59.5,393.5 270.7,298.1 129,361.2 200.1,370 59.4,362.6 266.5,357.7 254,376.1 126,371.7 128.9,376.7 207.7,358.5 210.3,336.5 198.1,384.1 266.2,341.1 253.9,381.2 118,371.6 53.6,372 128.7,387.7 210.7,336.7 125.9,375.1 118.1,390.7 253.7,379.4 63.9,373.1 266,330.9 270.7,344.1 207.4,393 207.8,358.6 118.2,348.1 59.6,361.7 257.2,356.6 254,377.4 122.3,370.6 210.7,304.1 210.5,388.1 254.1,352.3 210.8,360.4 266.1,382.9 128.8,381.1 59.5,334.2 207.9,340.4 122.4,359.4 59.5,389.1 198.4,377.8 125.8,342.4 276,351.4 53.3,383 129,350.4 122.6,325.9 117.7,351.8 53.5,400 115.2,375.6 266.2,382.7 198.2,363.9 254.1,345.3 126.1,354.9 253.9,362.8 210.6,391.3 210.8,290 266.3,308.3 207.8,392.6 210.8,343.7 207.6,345.3 117.9,318 210.6,333.8 200.2,359.7 53.5,384.8 210.7,356.8 61.8,376.6 257.2,384.3 210.7,369.3 62.1,395.6 266.2,304.9 53,400.5 207.6,365.3 118,337.6 129.2,358.5 216.9,351.8 117.9,395.1 62.2,385.9 198.1,390.8 270.6,369.5 257.3,385.4 129.1,370.3 52.9,359.3 263.8,356.4 50.5,322.8 114.9,378 59.7,341.6 125.9,370 53.4,342.4 257.2,382.9 117.9,388.9 198.1,371.8 266.1,350.9 263.6,329.4 217.2,366.5 271,387.2 64.4,385.9 55.9,361.3 263.6,339.7 200.2,366.1 263.4,297 207.6,334.2 200.2,389.9 207.4,346.4 62.3,385.2 275.6,375.6 126.1,360.6 200.1,391.7 122.6,394.3 64.3,378.8"/>
</g>
<g opacity="0.38" filter="url(#b2)"><path d="M53.3 376V399.5M56 356V400.5M59.5 346V400.5M62 354V399.5M64.3 370V397.5M115 349V394.5M118 342V395M122.5 320V395.5M126 334V394.5M129 344V393.5M198.2 350V390.5M200.2 352V390.5M207.6 305V391M210.6 308V391M217 347V387.8M254 349V386M257.3 350V386M263.6 324V385.5M266.2 326V385.5M270.8 345V385M275.8 344V384" stroke="#a80808" stroke-width="5.4" stroke-linecap="round" fill="none"/></g>
<path d="M52.5 385.1L276 362.5" stroke="#000" stroke-width="2.7" stroke-linecap="round" fill="none"/>
<path d="M52.5 385L276 362" stroke="#e41212" stroke-width="2.7" stroke-linecap="round" fill="none"/>
</g>
<rect x="46.7" y="253.8" width="80.3" height="30.2" rx="1.6" fill="#fff" fill-opacity=".8" stroke="#dedede" stroke-opacity=".8" stroke-width=".8"/>
<g filter="url(#b)"><circle class="k" cx="61.2" cy="261.8" r="3.4"/><circle class="r" cx="61.2" cy="276" r="3.4"/></g>
<text class="s" x="79.8" y="264.6">Prediction</text><text class="s" x="79.8" y="278.8">Real</text>
<text class="s" x="127.6" y="264.6"><tspan class="i" font-size="12.4">r</tspan><tspan class="i" font-size="7.2" dy="3">predicted</tspan><tspan dy="-3" style="font-size:9.9px">= 0.49</tspan></text>
<text class="s" x="127.6" y="280.4"><tspan class="i" font-size="12.4">r</tspan><tspan class="i" font-size="7.2" dy="3">real</tspan><tspan dy="-3" style="font-size:9.9px">= 0.40</tspan></text>
<rect x="42.4" y="248.6" width="244.6" height="162.3" fill="none" stroke="#1c1c1c" stroke-width="1.3"/>
<text class="s" x="77.8" y="425.4" text-anchor="middle">0.6</text><text class="s" x="131.4" y="425.4" text-anchor="middle">0.8</text><text class="s" x="185" y="425.4" text-anchor="middle">1.0</text><text class="s" x="238.6" y="425.4" text-anchor="middle">1.2</text>
<text class="s" x="35.2" y="413.2" text-anchor="end">0.0</text><text class="s" x="35.2" y="376.4" text-anchor="end">0.1</text><text class="s" x="35.2" y="339.6" text-anchor="end">0.2</text><text class="s" x="35.2" y="302.8" text-anchor="end">0.3</text><text class="s" x="35.2" y="266" text-anchor="end">0.4</text>
<text class="s" style="font-size:10.8px" transform="translate(15.4 329.8) rotate(-90)" text-anchor="middle"><tspan class="i" style="font-size:11.2px">MIDR</tspan> (%)</text>
<text class="s" style="font-size:10.8px" x="164.7" y="439.2" text-anchor="middle"><tspan class="i" style="font-size:11.2px">T</tspan> (s)</text>
</g>
<g>
<clipPath id="c3"><rect x="300" y="248.6" width="244.4" height="162.3"/></clipPath>
<path class="g" d="M329 248.6V410.9M362.1 248.6V410.9M395.2 248.6V410.9M428.3 248.6V410.9M461.4 248.6V410.9M494.5 248.6V410.9M527.6 248.6V410.9M300 373.2H544.4M300 336.4H544.4M300 299.6H544.4M300 262.8H544.4"/>
<g clip-path="url(#c3)">
<g filter="url(#b)">
<polyline class="p" marker-start="url(#mk)" marker-mid="url(#mk)" marker-end="url(#mk)" points="344.5,367.2 312.6,399.1 412.9,363 436.6,337.2 381.8,376.9 342,385.9 350.7,396.4 333.5,378.5 358,371.2 412.6,364.4 523.7,339.9 523.7,347.1 357.8,358.9 327.6,379.2 384.7,344.3 408.7,320.6 350.7,372 394,355.9 364.9,357.2 364.4,324.6 309.9,389.3 437.1,357.6 357.8,369.5 387.6,358.1 432,306.5 384.7,365.7 342,387.1 347.6,350.1 393.7,383.5 384.6,360 374,337.9 312.6,401.6 321.7,393.6 408.8,369.9 378.6,368.6 347.4,357.3 357.8,394.5 400.4,387 439.2,319.1 400.2,354.6 339.3,379 344.3,376.1 417.2,369.3 408.9,370.4 523.5,321.1 318.7,391.9 393.8,297.9 336.6,384.3 403.7,367.9 361.1,366.6 354.4,394.5 436.5,380 357.8,398.2 374,353.1 364.7,369.6 384.7,369.6 387.2,383.2 381.8,340.3 439.2,316.4 387.5,383.5 347.5,361.6 408.6,304.3 347.5,356.4 364.6,340 399.9,385.8 354.2,367 357.9,396.1 315.6,400.4 374,366.3 341.9,380.1 361.1,375.5 347.4,368.6 400.3,370.3 417.2,372.6 333.3,378.5 312.6,391.1 373.5,317.5 342.2,361.8 378.8,363.7 393.6,336.2 364.7,352 533.3,347.2 400.1,387.9 374,389.1 374,333.7 387.3,344.1 330.6,369.5 431.8,344.8 387.3,365.5 412.6,336.3 439.1,324 439,332 385,390.1 431.7,339.2 318.6,385.1 431.9,317.1 330.3,357.1 368,351.9 370.6,388.4 373.8,348.5 324.7,375.6 412.9,384.7 318.7,392.8 347.3,348.8 347.4,351 373.9,386.4 339.4,375.8 354.1,395.2 364.8,354 393.7,384 376.3,359.5 533.5,358 417.2,348.7 523.9,348.7 374,364.2 394,292.3 390.4,339.2 397.2,388.9 397.4,358.5 333.4,351.8 439.2,294.6 408.9,353.5 376.6,374.8 327.5,366.2 361.2,380.3 397.4,356.5 376.6,376.3 381.7,388.5 397.3,347.8 310.3,378.9 321.9,393.1 357.8,359.5 354.1,359 350.8,373.6 408.6,372 357.8,370.6 439.1,381.5 434.5,364.3 327.6,384 438.8,282.2 408.9,340.5 403.8,356.3 393.8,334.8 361.1,353.9 373.8,365.6 431.7,306.8 397,339.1 381.8,350.2 400.1,391.1 374.2,382.8 533.6,371.5 390.8,388 333.5,355.5 393.8,370.2 350.6,379.9 330.6,371.7 339.6,392.4 393.8,304.2 361.1,377.3 339.4,381.8 309.8,396.4 420.8,373.9 373.8,350.1 367.5,383.2 403.8,384 436.6,358 350.5,357.1 412.5,366.5 336.6,391.5 437,336.2 350.9,373.7 333.5,385.2 373.8,332.7 390.3,368.6 408.8,362.2 327.5,365.1 408.9,331.1 403.5,376.9 376.3,349.6 310,395.1 400.4,359 397,382.2 339.8,353.4 330.4,362 364.6,357.5 333.3,371.6 370.8,394.8 408.9,347.9 318.7,391.4 390.5,359.8 390.4,353.8 344.4,382.8 417.3,370.3 431.7,328.7 339.3,381.8 361.1,374 400.5,354.2 397.3,364.7 393.9,356.6 330.6,364.7 400.2,355.9 364.4,386.5 393.7,347.1 412.9,344.7 373.8,345.6 412.6,365.1 336.6,370.3 339.6,365.9 344.7,394.9 354.3,362 354.3,392.5 393.7,382.5 408.7,365 370.6,347.7 387.4,363.5 364.5,362.7 328,366.2 327.7,393 342.2,355.9 336.8,382.8 403.7,360.2 358,360.5 397.3,354.3 384.6,383.4 342,388.9 431.7,351.8 325,358.8 384.8,354.9 370.7,342.9 333.5,354.9 390.3,378.7 318.7,395.6 330.8,380 413,376.5 381.8,360 324.5,383.8 364.7,336.3 417.2,335.1 336.3,378.1 431.5,315.5 373.9,341.8 436.7,350.4 434.4,370.8 364.5,364.5 420.7,372.9 438.9,300.7 378.8,366.6 333.2,365.2 384.4,358 342.3,356.2 367.6,368.3 367.8,394.7 378.8,343.9 376.4,377.1 330.7,364.1 408.7,308.8 364.3,343.2 361.3,390.8 403.7,338.3 400.2,377 387.4,352 417.2,370.6 333.6,347.2 336.5,360.3 409,326.2 364.4,396.3 439,335.2 344.6,374.1 431.7,318.9 387.5,355.9 361,380.2 431.8,319.2 397.2,341 367.5,351.1 397.4,355.5 387.7,378.7 390.9,354.3 439.1,323.8 350.5,372.2 341.9,389.8 357.8,373.1 384.9,346.8 347.6,383.8 324.6,386 408.7,314.3 436.9,358.1 412.8,367.7 344.3,396.2 393.7,304 370.6,384.6 439.2,325.6 376.6,345.8 347.3,366.8 327.9,383.6 381.8,365.5 333.3,396 393.7,335.7 378.9,344.4 397.3,354.4 344.5,351.9 393.5,365.8 412.5,343.2 336.7,393.3 364.7,389.7 330.8,361.5 408.6,383 400.2,378.6 344.3,361 321.7,401.8 387.2,388.8 318.6,373.3 318.6,381.4 400.2,339.8 420.7,361.9 364.5,344.3 336.4,354.2 439,281.5 350.5,356 350.7,369.4 408.8,359 420.6,356.9 417.5,341.6 434.3,365.6 533.9,334.1 431.9,322.4 361.4,381 354.4,372.2 324.9,371.3 412.8,352.6 364.6,394.1 393.8,295.9 534.1,317.4 431.7,325.6 384.9,377 315.8,389.5 364.7,372.4 400.1,338.8 364.3,362.4 330.4,387.8 533.4,352.9 350.7,388.9 384.6,379.5 408.6,354.1 344.6,390.1 397.3,371.9 393.6,366.9 412.9,356.2 523.6,343.9 408.8,374.4 412.4,345.1 400.2,372.8 370.7,377.8 367.7,377.4 330.3,386.8 417,383.8 339.6,368.7 381.4,360.3 342,388.6 374,362.7 436.7,369.3 324.7,396.1 397.2,384.2 439.1,332.3 376.6,355 378.8,391.4 344.5,365.9 344.4,379.1 390.4,382 390.5,329.6 412.5,352.8 312.6,380.3 409.2,293.5 367.7,359.2 409.1,363.6 333.4,393.9 339.5,367.4 312.9,385 339.6,353.6 431.7,326.2 417.2,346.9 408.8,257 347.7,359.3 361.1,364.7 339.4,347.9 417.3,358.8 393.6,297 408.6,319.9 373.8,325.1 376.5,355 434.5,349.2 434.2,363.6 412.6,366.9 315.7,376.1 364.5,376.3 400.1,350 364.7,347.4 312.7,380.2 364.4,351.3 523.2,320.9 412.9,379.6 390.1,347.6 367.4,350.9 420.9,374.3 439,334.9 339.6,357.8 403.8,332.2 412.7,376.1 533.2,340.3 390.6,336.5 412.5,368.1 381.6,338.8 381.1,367.4 420.7,351.6 354.1,379.8 344.6,369.3 339.6,346.6 336.6,355.2 376.8,353.9 361.1,364.1 333.4,371.4 408.7,253 416.9,361.2 384.8,364 408.6,357.6 339.4,357.5 403.7,370.2 354.1,367 378.8,393.9 400.1,358.4 431.6,369.3 439,343 376.6,388.9 417.2,322.7 376.9,373.6 327.8,387.7 330.4,396.6 439,334.8 434.5,347 312.6,383.2 523.5,326.3 393.6,379.9 393.7,336.2 324.9,386 393.8,307.2 439.3,334.8 336.5,364.8 439.1,327.7 350.7,381.5 339.7,367.7 315.5,393.3 431.9,366.3 358.1,392.2 523.5,320.5 367.6,361.4 381.6,341.5 408.8,369.9 315.9,379.1 436.8,354.1 438.9,355 390.5,385.4 420.8,371.2 310,384.5 312.7,397.1 367.8,357.8 420.7,352.1 321.7,390.6 431.7,335.7 379,385.2 373.9,346.4 367.5,380.7 336.5,380.4 393.7,368.3 394,305.2 344.4,378.7 393.7,307.6 397.2,343.1 344.8,371.4 376.4,353.2 384.7,342.2 408.6,382.1 439.2,342.2 379,366 347.5,352.6 412.5,355.7 533.6,364.3 408.9,295.9 397.1,330.7 336.6,399.1 354.2,364.2 437,353.5 408.8,270.3 400.4,355.2 312.5,375.7 393.8,390 384.8,372 364.4,335 439.2,310.3 344.3,381.5 373.8,380.8 387.3,365.7 431.7,360.3 315.5,386.3 367.6,392.7 436.7,336.4 403.9,337.6 350.8,362.7 387.2,367.1 417.2,329 393.9,341 339.5,350.6 361.3,383.8 387.6,355.6 412.4,362.8 367.8,396.5 397.2,346.4 431.7,359.7 321.7,371 408.7,335.8 327.7,389.4 357.7,379.6 408.6,313.2 408.8,300 390.5,386.2 390.5,328.4 321.8,371.9 336.5,380.1 403.9,341.1 354.4,361.8 408.7,324.7 330.7,386.7 384.5,375.2 390.4,357.7 387.8,352.6 381.7,341.3 417.3,363.4 347.3,389.2 324.6,376.2 403.9,384.1 333.1,378.4 434.3,372.9 378.7,391.6 416.9,332.3 333.4,348.9 533.4,319.7 403.5,377.4 370.8,358.7 417,378.2 400.4,385.2 436.7,337.1 376.6,354.4 393.6,310.6 342.1,385.1 438.9,287 376.4,384.3 339.5,353.3 318.8,391.5 364.6,358 357.7,387.2 364.6,372.6 342.1,383 361.3,358 523.4,321.4 403.8,357.6 408.7,357.7 434.7,343.8 431.7,348.7 397.4,344.2 403.4,367.8 417.2,366.4 397.2,336.4 384.8,386.6 420.8,360.8 361.4,384.3 417.2,378.9 344.4,382 439,320.5 431.8,326.9 397.3,344.5 312.7,376.3 397.2,360.3 523.8,348.3 341.9,358.2 327.6,397.8 315.8,373.3 386.8,381.4 321.8,397.2 328,372.4 417.2,357.7 387.5,344.2 439.2,365.2 421,370.7 381.7,369.6 390.2,357.1 400.1,347.3 374.2,353.1 364.3,371.3 344.4,386.4 439.2,379 387.2,360.7 436.7,344.6 403.4,356.5 330.6,398.4 439.1,358.5 412.9,333.8 387.5,352.8 344.5,359.9 354.3,360.5 344.5,393.3 387.4,370.6 437,342.3 381.8,362 533.4,339.8 333.5,352.1 376.7,373.8 393.7,355.2 333.2,358.8 438.8,301.5 393.6,345.1 420.6,354.5 310.1,393 361.3,378.3 358,362.6 403.8,353.4 397.3,384 439.2,303.6 373.6,356.2 436.7,343.2 417,352.4 381.5,375.5 420.6,364.4 420.8,377.4 333.3,356.1 358,361.8 327.7,376.6 387.5,386.9 354.2,371.2 342,373.4 367.5,387.2 336.8,380.7 339.3,364.8 412.5,357.2 324.8,389.9 318.6,383.9 354.2,382 324.7,374.3 315.9,402.6 321.7,379.2 330.7,384.1 336.5,365.8 373.8,390.7 327.5,379.5 439.1,348.7 373.9,333.4 397.1,370 364.8,388.1 408.8,291 312.7,398.6 357.9,375.9 420.8,341.8 344.3,394.1 342.3,375.8 367.6,377.4 370.8,387.8 390.4,331.7 344.3,351.9 342.1,381.3 400.2,345.9 393.5,378 342.1,353.6 400.1,383.3 347.3,387 523.8,339.7 393.5,364 393.6,306.9 400.2,360.8 439.3,324.4 387.3,349.7 364.4,339.4 417.3,357.1 344.5,385.6 333.5,389.9 381.9,359 315.6,388.6 378.7,388.3 432.2,356.2 436.9,357.4 373.8,352.1 439.4,343.3 339.4,393 408.7,335.2 371,358.6 367.8,355.9 417.5,365.3 390.5,383.9 357.9,372.4 393.7,319.7 376.8,359.3 342.2,381.8 403.9,362.9 381.5,358.3 364.7,378.4 312.9,398.9 342.1,392 357.8,375.1 344.7,338.9 324.9,370.8 439,281.9 327.8,371.2 374,385.6 318.7,377.8 354.4,365.9 367.8,393.3 361.3,362 393.7,348 347.8,380.3 409,327 376.7,364.6 361,366.6 344.4,379.7 390.6,352 439.1,348.1 408.7,342.2 417.3,376.9 315.9,369.2 417.2,337.1 533.3,322.3 336.4,365.5 336.5,383.8 400.4,358.9 374.1,385.1 361.4,365 431.4,345.4 523.8,321.1 339.5,348.8 396.9,358.8 387.4,361.7 350.3,380.4 400.2,337.5 431.7,328.3 387.3,378.6 324.8,373 339.4,350.8 370.5,369.7 390.3,356 417.3,348.5 370.7,341.1 533.1,342.6 431.9,336.4 400.2,340.5 378.8,378 370.5,366.7 312.7,385.1 390.4,338.5 417.1,359.2 384.6,346.4 342.1,361.1 327.9,391.6 387.4,373.9 523.6,344.9 336.5,394.3 364.6,352.3 403.6,377.6 381.8,357 523.7,345.2 399.9,373.4 315.5,385 354.5,361.8 321.9,397.6 370.8,374.8 378.8,392.7 390.8,362 421,352.2 333.2,378.8 408.8,280 394,327.8 533.4,332.9 408.8,360.4 403.9,365.7 434.5,341.1 381.8,347.4 327.8,368.3 393.8,367.8 403.4,367.2 333.5,357.3 393.8,388.8 431.5,366.5 408.6,388.4 370.6,392.3 350.5,377 397,379.1 397.2,365.5 436.8,357.4 370.6,342.7 341.9,390.7 321.4,401.4 420.6,367.8 434.8,373.8 350.6,395.3 409,316.3 403.8,384.6 408.8,335.4 367.5,346 367.8,354.3 378.7,373 330.5,371.7 364.6,358.2 439.1,337.6 374,364.7 339.7,362.5 387.3,376.5 436.9,333.6 431.7,315.3 310,399 322,391.8 347.8,384.8 339.6,354.5 309.9,398.9 347.6,362.8 417.2,371.7 361.4,353.3 390.7,354.3 400.3,357.4 312.7,402.2 436.9,360.9 373.9,379 367.6,374.2 321.8,364.3 420.8,365.6 342,359.3 360.8,384.9 384.6,346.1 321.7,371 436.7,375.8 397,356.1 397.2,361.8 436.8,362.3 330.6,370.1 318.7,382.9 324.9,362.4 387.5,343.6 354.4,359.6 367.8,388.6 324.6,383.3 374,317.4 534.1,320.8 333.2,357 358,366 347.5,383.2 370.8,374.2 431.8,314.1 533.5,344.1 378.9,352.9 390.5,376.1 354.3,382.4 381.8,351.1 354.5,359 412.7,364.1 342.2,372 312.8,385.5 394,352 408.5,330.9 434.7,361.5 376.5,383.9 367.3,366.1 324.9,376.7 315.6,385.5 393.9,357.7 436.9,345.4 439.1,363.5 339.7,367 387.2,346.5 357.9,382.4 344.4,356.6 384.6,388.1 408.7,272 387.6,371.5 381.8,365.8 393.7,353.1 412.9,356.7 376.3,366.2 438.7,334.7 534.5,344.2 397.1,353.7 403.9,378.2 342.1,354.4 324.9,394.1 364.4,347 393.8,380.2 408.8,325.3 376.4,344.5 403.7,334.5 333.3,381.5 523.6,338.4 318.3,388.5 420.9,351.4 336.2,397.4 378.9,346.2 439,317.8 364.4,330 523.5,319.5 390.7,339.4 339.6,372.3 344.3,387.7 373.9,329.5 373.6,359.8 397.2,346.2 436.7,367.6 370.3,353.6 318.6,378.1 381.8,386.6 347.5,359.5 344.5,339.4 370.8,347.2 370.7,354 378.9,360.6 367.8,396.5 347.5,353.1 523.7,321.3 347.4,381.7 344.6,385.1 358.2,387.1 431.8,322.6 393.5,366 439.2,307.4 390.6,354.5 397.3,351.3 312.6,402.8 354,372.7 324.5,358.4 397.3,325.6 324.9,377.4 412.8,359 330.5,369.5 381.5,372.7 533.4,315.3 384.5,390.3 361.5,380.2 403.5,345.6 350.4,387.9 393.8,315.1 408.9,310.7 344.2,391.6 534,362.3 358.2,371.7 367.7,350.9 387.6,348.8 374.1,347.3 381.7,378.6 371,364.5 439,339.7 344.7,383.2 417.2,362.4 434.6,345.1 533.6,338.1 321.6,395.1 403.8,354 373.8,378.6 431.7,327.7 409.1,319 385,388.3 376.4,382.4 436.9,341.2 412.8,380.8 412.5,340.7 431.7,336.9 357.9,373.7 361.2,374 327.7,385.4 333.4,357.2 327.5,382.3 436.8,356.6 321.7,401.6 420.8,365 364.3,355 394,379.4 327.8,373.9 321.7,398.2 361.4,371.8 393.6,390.9 393.8,300.5 403.6,391.5 347.4,378.5 381.8,394.1 412.4,348.9 370.6,376.7 344.3,365.1 350.7,393.8 378.8,344 364.7,375.4 417.2,338.4 378.9,350.5 336.3,395.8 417.4,326.2 310.2,377.9 374.2,381.7 403.6,390.3 420.6,359.4 439,311.7 324.7,399.4 431.6,336.4 417.3,346.2 381.8,374.9 393.5,308.5 533.1,307.7 384.5,353.6 393.7,345.9 390.4,372.1 378.6,361.1 309.8,393.8 408.9,376.8 315.8,391.2 390.3,372 361.4,373.3 390.4,340.1 373.9,332 315.7,367.2 361.3,385.9 316,402.7 327.7,368.2 408.8,371.3 533.9,317.4 397.2,350.7 390.6,329.5 384.8,350.4 347.3,382.6 378.9,394.1 315.8,385.5 364.6,357.5 378.3,367.3 336.5,393.7 378.9,387.5 438.9,333 350.5,369.2 310,379.2 367.9,375.8 312.7,383.9 378.8,344 393.7,378.2 330.4,396.2 417,367.3 436.5,329.3 412.4,376.7 370.8,345 390.4,391.3 367.7,360 384.7,370.5 381.8,362.1 397.2,343.8 387.4,356.1 367.8,394.3 408.8,368.8 436.7,341.7 397.2,347.7 315.7,380.4 384.9,353.4 324.8,394.7 344.4,395.9 412.9,340.3 315.9,386.8 417.4,360.9 384.6,343.3 350.5,381.4 436.5,346.1 333.4,379.5 339.5,381.3 431.7,352.4 439.5,337.9 439.1,304.4 336.4,369.8 403.7,385.4 439,355.4 364.5,380.6 367.8,382.7 378.8,353.2 347.4,391.9 336.4,390.3 434.2,347.9 333.5,352 333.2,366.5 376.4,375.6 318.5,373.1 344.3,383.5 364.5,383.4 397.3,361 350.6,366.1 370.8,375.4 333.6,366.1 321.7,402.7 364.8,382.1 361.5,393.5 376.2,391.7 408.9,375.9 417.4,375.2 420.7,363.7 364.5,368.1 364.4,358.8 318.5,366.3 325,385.5 373.9,381.7 341.8,369.8 431.6,329.8 376.7,371.2 321.8,394.4 390.5,365.9 325,365.8 336.7,352.4 393.6,358.7 318.5,397.1 364.6,382.2 354.4,372.8 393.7,302.8 336.1,391.3 393.6,304.2 420.6,353.8 408.7,373.9 417.2,351.6 408.8,387.1 330.4,366.1 347.6,377.2 347.4,376.2 439,293.8 327.8,373.6 431.4,363.1 364.7,360.2 437,333 439.4,319.6 333.5,368 431.6,316.3 354.4,361.1 315.4,368.9 378.8,389.4 384.8,359.1 327.6,383 431.8,329.2 431.7,365.5 400.1,332.7 384.7,345.8 393.6,336.5 379,389.6 333.3,382.8 321.6,384 434.5,341.1 431.7,336 434.5,338.9 344.3,391.9 364.5,327.5 364.4,345.7 333.5,359 533.7,335.9 373.8,380.5 403.7,390.4 523.7,337.5 342,397 318.5,381 417.2,335.6 390.5,350.7 321.9,378.2 409.1,374.5 364.6,348.1 381.8,389.4 393.5,366.1 357.9,359.8 417.3,327.4 403.6,378.9 364.8,353.5 387.6,366.5 341.9,362.3 417.1,345.7 350.5,364.7 403.9,359.6 439.2,334.1 436.9,340.6 439.2,368.5 373.8,372.7 533.2,312.2 400.4,340.5 336.6,382 350.6,357.2 439.2,304.2 333.3,377.8 339.5,358.4 353.8,384.6 403.8,346.3 378.9,352 344.3,382.4 361.3,389.4 336.5,398.2 336.2,387.2 397.2,372 367.7,391.2 393.6,377.6 400.2,350.6 378.7,373.5 384.8,365.9 370.5,372.2 403.8,362 347.8,367.4 439,324.2 403.8,374.9 370.6,359.2 533.4,321.1 439.1,317.6 400.2,368.5 390.4,358.8 339.6,344 400.2,336.4 347.6,369.9 434.1,351.7 342.1,381.2 324.7,394.2 330.6,378.4 376.4,367.7 318.6,384.2 309.9,396.5 364.7,331.2 373.9,364.1 361.6,367.6 321.7,398.4 387.4,370.5 390.6,366 384.5,384 393.7,370.1 408.8,310.2 439,320 330.6,379.2 318.7,394.6 350.6,393.5 393.7,314.7 330.7,367.6 339.3,371.8 396.9,375.1 417.2,347.4 431.4,352.4 315.9,398.2 347.4,354.7 316,393.7 339.4,357.4 387.5,374.7 390.6,345.8 420.5,358.5 393.5,310.2 315.5,374.1 417.1,376.6 358,395.9 339.8,362.9 417.3,350.2 350.9,361 350.2,384.3 324.8,361.1 396.9,350.9 376.6,362.6 381.5,373.4 409,267.1 400.3,374 354.1,389.4 358,358.1 318.6,377.8 416.9,348.8 327.5,379 367.8,360.5 390.3,361.8 361.3,350 384.5,349.1 433.9,349.7 523.8,333.1 390.3,334.7 381.8,370.7 336.3,389.8 370.7,357.4 436.9,369.7 431.8,313 431.7,349.3 342,378.5 393.6,326.4 315.8,372.6 533.4,323.1 357.9,357.5 371,385.3 330.5,367.1 384.6,368.1 367.8,397.8 318.8,384.5 416.9,374.4 439.1,301.7 409,341.1 394.1,340.9 393.7,388.8 376.3,358.1 310.3,391.1 420.8,374.4 390.6,346.3 400.1,381.2 373.9,341 387.4,343.8 324.6,369 533.9,314.1 376.5,356.8 333.4,374.9 381.8,394 350.8,381 321.7,377.8 315.8,370.3 400.2,358 374,366.3 341.9,383.5 374.1,376 324.6,371.9 434.6,353.5 439.2,348.9 390.6,388.7 420.8,371.7 367.6,348 408.8,326.3 412.5,353.3 393.8,351.7 315.5,396.5 376.6,368.2 408.7,341.4 393.6,346.7 436.6,342.7 354.4,381.4 374.2,392.3 312.9,393.2 350.6,369.4 336.6,355.3 361.1,393.8 439.3,316.1 434.4,340.3 312.8,387.4 367.7,362.6 384.7,370 400.3,358 408.9,341.7 358.1,395.7 347.5,367.2 408.8,354.2 397.1,355.3 376.7,377.9 354.2,385.8 381.8,349.5 310,395.7 397.2,392.6 417.6,375.6 339.6,383.8 384.9,359.7 374.1,381.6 412.7,350.9 350.6,368.9 432,349.6 390.2,347.6 420.9,355.4 378.8,368.3 333.4,355 330.5,358.2 408.9,351.6 384.7,381.6 387.4,361.4 376.6,357.2 420.9,353 339.5,386.6 400.5,379.9 370.7,377.8 364.4,386.2 394.1,353.4 524,346 400.1,377.1 412.5,369.5 408.8,261 409.1,333.5 342.1,359.1 408.8,347.7 523.8,341.7 373.9,321.1 387.4,348.4 439.2,304.4 387.4,363.9 327.7,394.7 438.9,333.1 347.5,349.8 330.4,388.7 347.6,392.5 439,305 533.3,352 324.7,363.5 364.8,359.5 387.3,356.8 370.8,382.2 434.2,362.4 403.5,367.4 434.3,350.7 403.8,388.1 533.4,363 420.6,366.7 431.7,345.9 390.4,352.9 434.2,361.2 434.4,376.6 333.2,381.9 387.7,360.8 374,368 371,369.8 381.9,390.3 408.9,266 390.5,369.4 336.6,380.9 354.2,394.1 400.2,386.1 324.8,399.6 376.4,356.5 330.6,371.3 347.3,388.8 381.6,374.6 390.4,388 378.8,357.1 384.5,347.7 434.6,337.5 373.8,390.8 350.5,360.8 324.4,361.5 409,374.8 318.8,383.9 339.4,380.8 321.6,396.1 318.7,368.2 339.4,359.1 533.6,305.8 381.7,355.3 341.9,381.3 318.6,395.3 412.8,337.2 393.6,326.3 436.7,367.8 370.8,362.9 370.8,365.5 412.7,352.2 404,338.2 403.6,367.7 344.5,388.8 370.6,381.1 347.6,347.5 533.8,330.5 358.2,390.4 396.9,341 378.9,360.2 342,369.3 336.4,391.2 397.4,335.2 321.6,397.2 378.7,353.2 431.7,317.8 361.2,352.7 376.4,361.6 327.5,384.7 370.9,362.8 403.9,377.9 376.4,385.2 367.6,351.1 370.8,339.9 321.8,372.1 400.1,344.2 374.1,351.7 390.2,364 397.4,370.9 342.1,380.2 533.4,370 394,366.1 403.9,346.9 533.8,322 434.6,374.1 310.1,391.1 339.5,344.8 408.8,274.5 393.7,325.2 350.4,388.5 397,345.2 434.4,347.3 354.3,376.2 439.2,375.2 350.9,390.4 347.5,396.3 412.5,336.2 347.5,396.8 400,336.8 393.8,318.5 436.9,376.6 344.2,393.2 373.8,375.9 381.4,377.3 361.2,395.3 434.5,339.9 333.5,390 533.4,375.6 381.7,385.4 330.5,380.6 381.6,377.9 390.7,360.6 350.7,355.8 312.8,388.4 379,353.9 379,387.5 439.3,350.9 367.4,386.3 347.7,387.7 364.6,394.2 396.9,332.2 370.9,357.2 367.5,381.3 354.6,387.6 379.1,352.1 420.9,361.4 533.8,324.4 434.2,339.4 408.6,366.2 436.7,340.1 370.8,392.3 344.4,380.2 381.8,357.6 376.6,354.3 387.3,372 403.4,349 321.7,398 408.9,331 376.5,354.4 384.3,392.6 408.8,322.2 312.5,391.8 321.5,395.8 350.3,379.9 361.1,358.3 390.7,323.5 321.5,372.2 397.3,375.4 336.5,356.8 393.7,361.6 367.7,381.3 339.4,369.9 408.8,297.9 387.1,353.8 330.4,393.1 378.5,375.4 420.6,365.4 403.6,375.4 344.5,374 350.3,350.9 374.1,387.2 381.8,387.8 336.2,361.1 370.8,348 408.5,367.9 358.1,366.3 374,332.2 344.1,375 330.5,368.2 330.4,395.3 370.8,375.1 533.9,345.6 439,317.9 350.7,394.6 438.9,347.2"/>
<polyline class="p" marker-start="url(#mr)" marker-mid="url(#mr)" marker-end="url(#mr)" points="378.6,363.4 533.5,306.9 364.1,340.3 327.6,378.5 341.9,373.4 333.4,374.8 533.4,345.5 387.4,357.1 357.9,351.8 393.5,310.7 347,354.5 370.5,375 390.2,347 399.9,390.7 397.3,391.5 341.8,371.8 333.3,349.8 436.5,333.6 420.5,343.2 327.5,380 403.6,360.3 381.4,392.6 431.2,323.6 312.4,389.9 393.7,387.3 399.9,361.9 327.7,358.9 403.4,381.8 387.3,393.6 376.2,348.4 336.3,366.1 397.2,338.9 397.1,367.7 344.2,367.6 378.3,344.9 403.6,379.8 336.3,376.9 318.5,389.9 408.6,331.2 364.3,357.7 438.8,336.6 315.3,391.9 344.1,367.6 364.4,389.5 381.3,359.3 343.9,363.3 373.7,358.9 436.7,373.4 330.7,368.4 339.4,368.2 312.6,386.4 361.1,361.3 350.6,356.8 339.5,397.5 523.3,345.9 436.6,350 344.4,381.9 384.5,347.9 367.6,369.9 381.4,387.6 381.4,389 344.3,340.7 339.4,384.1 434.1,345.3 378.7,367.8 399.9,380 336,384 412.5,382.4 364.3,335 330.5,361.4 357.3,355.1 393.5,367.6 364.5,374.8 403.5,358.7 333.2,356 412.6,368.8 397,385.9 330.5,381.8 373.6,376.1 436.8,375.1 399.9,337.2 533.4,364.1 533.5,300.9 387,393.6 321.4,361.5 378.6,366.7 438.9,285.5 381.5,337 350.5,397.3 533.1,333.7 327.7,372 378.3,391 393.4,385.9 339.3,391 374,363.5 321.7,384.9 412.6,372.1 381.6,345.4 367.7,348.2 339.2,355.9 439.1,299.2 393.5,368.4 431.7,374.8 397.1,382.4 357.7,389.8 393.3,386.8 393.5,325.5 312.4,369 400.2,350 347.4,379.9 370.4,383.4 357.8,393 309.6,386.5 386.9,373.9 400,348.3 376.1,375.6 523.4,349.8 387,390.3 344.4,370.6 408.4,346.4 403.5,357.8 408.4,361.1 350.5,345.5 397.2,350.1 373.4,341.4 399.9,343.4 431.3,361.9 324.2,374.8 332.9,364.3 327.5,372.8 333.2,371.3 370.6,391.9 344.3,349.3 387.2,376.7 434.5,369.1 400,377.3 350.3,354 403.7,328.5 373.7,356.5 318.4,398.5 373.6,327.9 436.4,370.4 330.4,370.8 390.2,389.4 344,393.8 412.3,345.9 350.4,355.4 438.9,349.5 370.2,374.1 373.7,323.2 309.7,397.3 384.7,347.1 533,319.4 360.7,371.3 381.5,387.4 412.7,367.6 381.5,349.6 408.4,334.4 309.8,374.3 400.1,347 344.3,390.9 393.6,384.7 315.2,377.1 393.7,313.1 333.6,378.3 403.5,330.5 376.1,352.5 373.7,370.8 367.4,376.4 416.9,376.1 361,371.5 344.3,350.2 330.2,382.4 431.6,334 412.5,387.5 333.5,360.6 364.4,341.4 344,348.1 393.6,335.5 390.6,380.3 376.3,370.2 439,329.8 523.4,335.8 431.4,348.5 364.1,344.8 367.6,374.1 397,339.7 397.2,376.1 336.2,375.6 347.1,358.6 309.8,398.8 376.3,376.2 387.2,358.1 353.9,386.5 333,383.2 393.4,303.4 357.7,372 431.4,332 436.4,368.7 403.5,385.1 373.5,369.4 336.2,363.9 318.6,394.7 417.2,341.8 434.1,335.8 373.5,315.8 387.5,362.5 376.2,340.7 403.6,336.6 315.4,399.5 344.4,386.3 387.3,341.9 347,356.1 387,357.2 333.2,368.1 333.1,389.7 438.9,306.6 523.4,348.4 373.6,389.9 434.4,338.7 364.6,356.3 393.6,388.9 420.4,358.5 436.7,360.8 327.3,399.5 370.7,338.1 318.4,392.2 354,392.8 399.8,376.2 339.2,345.5 387.1,355.6 396.8,374.9 378.5,357.2 397.2,386.4 378.7,353.8 376.3,348.1 381.4,385.6 384.4,374.1 373.9,325.7 315.3,369.8 420.5,371.3 354.1,397.3 384.1,352.8 417,331.3 412.9,384.7 378.5,348.6 364.5,371.3 403.5,352.9 330.2,385.5 416.9,365 384.3,380.2 333.2,353.2 378.6,369.5 384.7,374.7 376.3,378.6 439.2,322.2 408.5,346.1 347.1,390.3 327.6,381.7 387.2,387.7 436.7,373.6 321.5,373.9 384.6,382.7 344.2,368.7 400,332.2 431.4,308.2 387.3,362.3 333,378.8 436.1,377.3 436.7,367.7 367.6,392.8 403.4,386.8 374,348.8 408.6,385.2 387.3,360.9 374,380.6 339.5,357.5 403.5,333.3 390.4,323 533.2,342.2 431.5,349.3 339.4,356.4 339,361.7 384.4,385.5 412.6,347 321.5,375.4 390.3,386 378.5,369.3 370.8,367.2 361.3,386.4 312.5,379.3 333.3,355.8 330.5,366.2 361.1,342 353.9,362.1 436.4,326 396.9,347.2 361,358.6 400.2,333 344.2,370.9 347.3,363.8 384.5,362.7 390.5,369.1 417.1,370.8 370.5,386.2 354.1,373.8 431.5,369.9 309.9,372.9 361.2,373.3 312.6,395.2 378.5,370.3 309.8,374.8 434.2,364.4 333,362.9 370.5,388.9 341.8,386.2 408.6,315.2 438.9,302.6 339.1,376.7 387.3,378 318.6,385.2 384.4,385.5 376.4,339.2 431.9,318.9 324.4,355.3 393.5,392 354.2,370.8 370.6,348.1 327.4,399.1 373.9,382.6 330.3,398.8 408.5,369.4 364.3,354.3 344.3,366.4 403.4,349.1 412.5,343.3 420.6,364.1 439,331.7 370.8,387.9 436.3,363.3 384.5,354.2 376.1,364.8 403.5,391.6 357.3,362.6 403.6,358 439,303.8 347.1,348.1 350.7,359.6 350.3,383 434.4,369 384.5,342.2 318.3,376.7 420.4,337.3 367.5,355.8 364.6,349.1 333.2,355.2 315.6,381.4 364.7,381.7 412.4,348.2 523.4,323.8 420.5,381.7 412.6,371.7 367.3,372.4 417,369.6 436.5,364.5 333,358.1 327.7,391.3 431.5,335.6 336.2,370.3 367.6,358.1 367.7,354 378.4,369.3 378.8,387.7 341.9,356.6 370.4,356.3 434.2,350.8 339.3,364.4 361,386 373.7,366.1 408.5,348.5 433.9,373.3 339.4,366.6 344.2,398 339.5,387.3 408.9,345.9 393.7,352.4 357.7,390.5 344.3,394.2 324.6,392.6 324.7,365.1 373.5,349.9 367.3,369.4 416.8,378.3 408.6,344.1 309.7,379.2 523.5,324.6 347.2,379.9 417.1,359.8 397,334.1 381.5,371.9 403.5,352.6 370.4,378 347.4,352.7 393.6,314.3 397.1,386.5 403.4,334.2 327.3,368.9 384.4,363.8 387.4,344.8 376.3,384.7 364.3,353.1 312.3,387.9 416.9,360.8 438.9,351.5 367.3,363.8 431.3,324.3 412.3,346.2 357.6,368.7 344.3,347.3 353.6,377 438.9,289.6 403.5,389.7 373.8,323.1 310.1,399.9 318.5,375.5 336.3,359.3 324.5,363.7 390.5,370.7 376.1,368.1 436.7,332.8 344.4,354.6 312.7,384.7 403.5,374.9 378.7,360.2 324.7,360.3 358,392.5 367.3,369.7 393.2,331.5 397,358.9 396.9,342.8 321.6,393.2 370.5,359.1 420.7,353 327.4,374.7 403.9,333.1 347.4,346 400.3,387.3 431.4,343.4 361.2,389.3 403.7,337 439,371.6 342.1,353.7 416.8,342.3 399.7,370.5 339.4,376.9 384.5,358.2 344,393 347.5,366.6 321.5,388.1 321.4,379 324.4,376.1 397.2,333.7 324.7,363.7 378.3,348.2 342,398 341.7,392.8 339.3,373.6 330.3,367 408.4,375.5 416.8,342 339.2,385.2 420.5,356.2 354.2,360.9 333.3,361.5 376.4,372.4 370.3,352.1 373.7,363.4 533.5,307.3 439,282 364,351.6 438.9,348.2 370.6,349.2 374,387.9 438.8,358 431.6,370.5 387.3,374.4 373.8,356.8 399.8,332.5 397,376.9 436.8,335.6 378.3,348.3 532.7,328.7 330.2,397.5 341.8,378.6 438.9,320.6 350.5,362.5 387.4,357.7 431.4,364.3 439,303.5 387.1,384.4 312.4,395 408.5,342.6 364.5,355 408.6,383.1 393.5,288.8 436.6,368.7 436.7,361.6 387.1,347.1 393.6,307.1 309.9,401 390.5,380.7 350.6,375.2 333.2,378.6 344,370.5 324.8,377 390.1,348.6 357.9,387.9 397,333.3 408.2,338.4 361,389.7 408.5,372.1 416.9,334 387,391.2 436.8,337.5 438.8,374.3 384.4,392.4 438.9,322.7 330.5,379.2 387.4,348 373.9,336.6 324.9,377.2 315.5,389.4 431.6,348.1 417,345.8 397.1,322 350.4,355.7 370.6,355 324.7,360.3 370.4,356.1 412.4,349.7 434.2,363.5 336.4,358 318.5,378.9 327.2,400.5 344.3,391.6 370.4,394 403.5,345.9 390.3,384.7 408.5,374 408.7,340.9 347.4,371.7 390.1,350.3 393.7,307.7 397,368.1 318.4,396.8 438.5,362.5 310,380.8 387.2,376.1 330.3,370.3 400.1,350.4 344.5,377 312.6,402.8 434,338.3 333.3,376 420.3,357.6 420.4,349.7 412.6,380.9 436.7,359.2 438.7,303 373.6,332.8 439,278.6 321.4,373.8 387.3,335.9 408.5,347.9 339.2,377.8 376.3,342.7 408.6,369 378.6,352.1 384.3,360.4 403.8,342.7 438.8,322.7 523.5,332.7 412.5,375.5 333.2,377.8 339.1,377 347.4,373.6 361,392.1 403.5,339.4 408.4,376.3 412.4,372.1 353.8,368.3 436.6,367.4 367.4,392.6 403.4,345.4 376.2,367.1 339.4,367.9 387.3,382.4 376.2,394.3 347.4,378.5 376.5,347 434.2,371.7 403.5,351.3 330.4,355 533.8,306.2 333.3,366.4 390.3,374.8 347.5,381.9 370.3,381.3 344.1,341.4 364.3,393 378.5,366.2 412.6,361.6 339.2,370.5 403.5,340.1 436.6,357.1 417.1,336.5 417,332.7 353.9,351 397.2,352.6 408.7,294 378.8,375 330.2,373.1 434.3,365.3 327.4,393.6 339.3,394.4 354.1,352 386.9,382.2 350.3,370.5 417,318.2 408.5,291.9 417.3,357.6 339.4,397.3 403.5,361.2 384.5,335 350.5,363.4 393.5,307.3 378.7,367.6 387.1,364.6 412.3,365.1 408.9,351.2 439.2,374.8 393.7,391.7 341.9,389.3 361.2,354.3 403.5,362.6 393.4,318.7 360.9,356 433.9,359.9 390.3,382.3 310.1,385 367.7,346.4 381.5,362.6 400.1,342.7 347.3,367.3 393.5,352.1 433.9,350.9 436.7,364.2 431.4,355.1 408.7,287 360.8,388.7 373.7,339 434.2,345.3 390.1,356.4 438.7,307.2 408.6,375.7 438.7,341.9 376.4,365.9 367.4,347 403.5,357.5 364.3,365.9 318.3,398.3 436.3,330.8 408.7,375 431.5,358.8 376.3,360.3 408.6,357.7 330.3,362.2 339,382.3 318.2,398 408.6,291.5 390.3,371.3 357.8,368.3 387,352.2 412.3,375.1 370.4,354.6 339.4,377.7 350.5,380.3 523.4,324.8 344.3,386.9 384.2,339.2 353.8,359.3 321.4,393.6 344.4,369.4 438.8,315.6 315.5,398.6 364.7,371.5 318.3,392 412.7,357.2 390.1,351.4 393.6,383.1 339.3,359 393.4,366.3 416.9,339.5 431.6,300.4 533.5,338 387.2,336.3 417.1,321.6 438.9,348.4 312.7,395.5 416.8,376.2 373.7,352.7 393.7,322.1 523.4,330.9 412.6,346.7 400,364 408.8,337.4 412.5,387.6 350.1,380.1 378.6,390.4 333.3,367.1 384.6,369.3 315.6,399.5 412.3,370 400.4,336.6 384.5,358.6 327.2,376.5 342,363.2 354,368.2 387,375.6 354.2,352.1 384.4,385.7 347.4,368.9 354,382.1 324.7,393 403.7,362.6 412.2,368.2 357.6,384.1 400.1,360.5 341.9,359.5 403.7,354.8 327.6,361.7 350.5,384.9 364.7,378.8 378.7,391.4 396.8,378.3 390.5,350.4 420.5,361.4 354.1,362.8 370.7,376.2 438.9,309.3 420.8,356.2 387.2,339.1 417.2,351.9 384.6,376.4 321.5,382.4 321.4,368.1 347.7,352 376.4,375.5 384.1,377.5 354,387.5 378.8,347.1 393.7,363.5 431.6,313.7 354.1,363.3 399.8,383.8 324.5,401.5 327.7,380.8 523.4,349.8 390.4,373.3 397,337.2 400,339 436.4,333.1 384.6,358.7 381.6,378.2 420.5,352.2 357.7,372.2 408.6,359.5 321.6,371.8 420.4,362.5 400,347.7 396.9,328.9 367.7,377.6 373.7,390.9 357.7,358.4 393.2,333.1 408.5,348.2 327.5,367.2 330.4,363.2 408.7,389.7 364.3,350.4 312.3,377.8 384.4,356 315.3,384.4 312.5,388.5 327.3,400.5 354.2,372.4 361,347.9 534,310.7 354,392.8 378.6,390.2 347.5,389.2 336.3,358.9 373.7,324.3 436.6,336.2 333.2,386.8 312.5,394.5 347.3,370.4 318.5,388.9 339.3,357.8 324.4,379.8 354.1,364.8 408.6,361.1 384.3,341.6 397.1,367.4 412.6,374.5 399.8,340.8 318.3,383 373.8,379.3 364.6,334.3 387.5,348.9 403.7,360.9 324.4,390.7 367.9,372 344.5,394.9 344.4,388.5 396.7,338.7 367.6,392.3 339.3,376 417,348.5 408.5,339.5 384.3,340.1 417.3,341.9 381.4,357.4 361,378.8 387.1,375.6 370.7,371.3 431.5,317.4 381.7,346.2 384.3,388.4 344,368.6 339.3,373 330.2,362.4 357.7,357.5 399.8,346.2 376.3,347.1 376.4,361.7 350.4,376.9 400,344.4 431.5,338.6 321.3,375.4 364.8,358.8 397,390.1 393.8,357.8 436.6,358.1 439,317.1 330.2,381.3 378.5,381.2 397.1,331.9 403.3,354.5 376.2,377.6 403.5,350.5 390.4,331.6 393.3,338 357.6,356.3 342.1,367.2 330.2,364.8 438.7,359.6 354.1,374.2 344.3,395.2 400,343.3 339.2,347 373.8,380.2 439.1,346.2 336.6,373.8 378.7,394.6 408.3,355.2 360.9,344.4 390.5,338.3 344.2,338.7 384.5,347.9 347.3,393 324.7,378.2 431.6,316.5 393.5,393.4 420.6,370.8 357.7,363.9 399.9,360.6 387.2,358.8 364.3,363.5 393.6,371.5 373.4,334.4 353.8,395.5 390.4,341.5 399.5,361.3 353.9,383 353.9,359 315.6,389.3 393.6,378 439,366.5 321.4,385.1 350.6,362.8 330.1,375.5 439.1,331.3 315.5,366 403.6,356.2 397,363 384.5,350.4 336.4,359.5 327.5,382.1 357.8,375.4 373.8,375.7 341.7,383.4 431.5,351.9 370.5,339.9 376.4,379.8 364.6,382.8 367.4,368 390.3,345.8 310,400.4 431.5,329.6 390.4,376.2 333.3,358.5 431.6,348.7 364.3,330.6 347.3,392.6 431.4,302.9 397,365 353.9,378 384.3,389.4 533.1,362.1 354.2,383.4 367.6,351.1 347.3,374.9 373.8,393.2 373.7,348.3 367.4,345.1 381.7,383 381.7,358.6 339.1,346.2 339.1,378.4 370.7,350.9 333.7,388.8 336.3,356.5 376,346.3 339.4,377.7 420.7,364.8 361.1,360.4 344.7,390.4 396.8,369.1 408.6,368.6 393.7,363 344.3,387.8 376.3,363.4 396.9,375.9 330.2,399.2 336.4,393.8 364.5,350.4 350.3,361.4 344.2,352.6 324.8,388.9 403.6,353.6 370.5,376.4 344.3,370 312.5,375.2 416.7,332 436.8,366.8 353.9,361.4 309.8,377.4 400.2,361.4 403.3,380.4 370.6,334 416.9,343 403.7,348.2 376.1,388.3 370.6,356.8 408.9,324.8 333.4,367.6 378.8,358 431.7,364.2 360.9,379.4 408.5,325.9 412.5,335.2 347.3,391.9 333.3,392.1 321.5,395.4 309.9,384.7 344.4,338.1 393.5,334.6 438.9,300.4 376.4,378.3 360.9,368.5 436.7,328.6 523.5,347.5 438.8,310.7 373.8,344.8 397.3,386.2 341.9,378.6 390.3,333.3 333.4,383.1 434,374.8 533.2,326.4 378.8,379.2 436.8,365.6 376.4,356.8 532.8,336.5 393.5,336.8 373.7,329.3 434.2,347.2 376.6,345.4 336.4,393.4 390.3,345.6 390.3,358.6 376.2,394.6 376.2,379.5 339.2,385.8 364.4,366.1 330.3,391.1 318.4,379.8 344.1,368.2 408.2,321.1 336.4,389.6 393.5,347.4 364.4,387.8 403.6,380.4 400,390.3 339.4,358 399.7,366.8 403.6,334 378.7,393.2 393.5,340 373.9,342.4 370.5,339.2 336.3,372.2 523.4,349.3 390.3,328.7 417.2,354.5 327.5,372.5 358.1,363.1 396.8,348.3 347.5,370.8 381.8,387.2 381.4,347.4 417.2,354.8 336.2,356.4 393.4,316.8 364.6,383.1 376.2,365.1 403.3,377.5 367.2,342.6 364.4,363.4 321.2,386.8 412.7,365.2 376.4,389.5 354.3,394.9 333.1,375.8 324.9,370 436.5,374.2 336.5,359.1 384.5,354.2 431.5,362.2 381.3,375.9 396.9,366.6 367.8,387.4 420.4,383.1 309.7,387 315.4,380 431.5,369.3 339.1,390.9 417,331.8 312.5,373.3 396.9,327.6 393.6,325.4 361.1,370.3 350.3,359.5 403.5,383.9 412.4,357 347.1,355.9 309.8,378.3 336.3,392.8 434.2,375.2 417,353.6 360.8,395.6 364.7,348.4 431.5,321.6 390.4,357.1 438.8,360 376.3,374.7 378.5,371.3 376.1,391.4 399.9,352.5 364.5,392.5 357.5,390 367.6,381.8 436.4,337.3 408.6,360.4 376.2,390.7 309.7,374.8 330.4,379 412.6,366.6 353.5,370.9 436.6,341.6 333.3,345.7 400.2,331.5 384.3,336.5 350.6,369.2 373.7,346.2 330.1,388.7 344.1,363 364.5,396.7 360.7,385.3 376.4,349.8 324.5,386 347.3,386 315.8,394.5 373.8,345.1 327.4,399 344.3,374.2 393.5,321.8 381.6,390.4 412.6,368.1 523.5,348.8 533.5,330.3 339.3,346.4 533.5,309.2 403.4,341.7 403.5,339.6 412.5,370.5 381.6,342.8 339.4,380.7 431.5,351.5 434.3,360.4 347.4,363.9 327.8,357 431.6,333 431.5,366.5 347.2,392.7 357.5,395.1 386.9,357.2 408.8,381.7 431.4,374.9 370.6,379 321.6,400.2 439,357.4 381.5,369.5 420.6,379.2 381.3,382.8 376.4,363.9 408.7,342.4 357.4,370.9 416.7,361.5 416.9,330.3 387.5,380.3 341.7,356 370.4,346.3 373.6,354.2 384.4,382.5 384.3,377.8 327.7,369.7 400.1,339.5 390.4,376.5 330.3,358.3 336.4,356 436.7,351.5 318.3,394.3 341.8,368 384.3,380.3 417,348.6 436.7,339.3 347.5,365.3 370.5,347.5 354,378.6 339.2,390.9 360.8,375.2 327.4,366.6 397,354.4 431.3,370 403.5,360.2 417.1,338.8 523.6,343.5 357.8,381.8 393.6,356.5 312.6,385.6 417.1,361.7 370.5,395.9 403.4,393.8 327.6,396.5 396.9,384.7 381.4,355.1 403.5,351.5 436.6,361.8 393.5,381.6 341.7,389.1 354.2,392.3 347.3,375.6 360.9,346.1 374,349.2 318.3,388.6 400.1,346.1 431.6,308.4 417.2,328.5 439.2,372.2 333.1,390.1 420.3,376.5 438.9,371.3 416.9,359 408.5,335.6 412.5,347 309.9,392.2 339.2,351.5 336.3,365.2 397.2,368.6 390.5,338.4 408.4,369.6 381.2,371.3 370.7,361.3 370.6,366.6 417,354.1 436.5,348.7 357.8,383.9 339.5,366.5 333.4,370.2 393.4,323.3 370.3,387.8 387.2,343.7 393.4,373.3 533.3,368 350.3,393 315.2,370.6 438.9,323.6 360.9,355 350.5,375.8 384.6,373.1 312.5,401.3 373.5,380.6 436.7,348.5 408.9,337.6 523.4,339 439.1,344.3 390.4,322 312.2,389.6 393.5,349.7 378.9,347.2 384.2,365 439,348.9 412.5,334.1 387.4,364.2 339.1,340.5 324.6,361.4 370.5,336.8 315.3,377.4 367.5,375.7 315.5,382.4 310,395.3 390.3,380.2 357.9,357.6 373.7,389.6 412.6,373.5 390.1,352.8 321.5,378.3 344,380.2 330.6,386 364.5,334.8 532.9,317.9 390.5,366 344.1,367.3 373.8,373.4 336.1,374.3 339.5,381.4 408.6,322.4 420.5,364.8 344.1,384.1 431.6,353.5 523.5,346.3 412.4,352.3 403.5,390 350.6,366.6 438.9,302.8 523.6,321.6 438.7,300.2 403.5,367.8 367.2,389 381.4,356.4 403.4,388 438.9,307 364.3,361.5 339.1,381.3 344.2,335.4 431.4,329.4 315.8,389.4 339.4,378.7 354,360.4 400.1,380.3 357.8,380.3 412.3,384.2 397,333.7 361.1,395.7 347.5,359.9 367.6,382 324.4,382.4 408.5,327.3 339.3,377.5 523.6,348.8 439,314.6 390.2,336.7 324.5,396.3 434.2,342.9 397.1,361.3 353.9,384.5 333.2,374 417,342.9 400.1,367.9 309.9,395.3 400,388.5 336.4,363.2 341.6,354.4 417,382.1 384.4,358.9 412.4,356.7 387,337.5 384.5,393.2 376.1,340.1 408.4,328.3 420.5,372.8 367.6,388.7 408.8,370.4 408.9,328.3 533.3,340.5 412.7,340.3 420.4,343.4 400,380.3 397.1,385.1 373.6,333.4 341.8,396 350.3,351.9 436.7,331.6 350.5,385.4 393.6,303.4 350.4,346.6 321.6,368.8 381.5,348.5 347.4,385.5 321.7,390 312.5,371.5 387.2,357.5 318.3,368 393.7,354.7 417.2,373.2 420.6,378 330.4,394.2 417.1,350 336.3,372.6 381.6,378.1 393.3,381.4 417,349.3 373.6,348 439,304.9 350.5,372.4 533.1,318.9 408.8,291.6 339,345.7 420.5,355.8 324.6,371.5 431.6,354 403.3,344.9 336.5,360.4 431.9,323.5 344.1,346.5 420.3,361.2 378.5,348.6 393.5,306.7 387.3,361.8 412.5,378.3 312.5,386.4 384.4,358.7 400,334.2 333.2,372.2 339.3,358.3 327.3,372.7 378.6,371.9 336.2,388.8 357.7,361.7 387,369.2 434,358.3 312.6,382 344.4,363.3 315.5,399.7 315.7,389.1 396.8,387.2 417,335.1 364.2,337.9 408.5,374.4 312.7,392.2 397.2,380.2 381.3,388.5 412.5,339.6 341.7,385.2 393.6,305.4 420.5,383.9 381.6,363.2 533.6,333.6 393.6,331.8 434.4,339.6 400,334.3 431.6,322.1 361.1,357 312.7,396.1 367.6,393.7 403.9,360.3 439.1,345.9 378.4,374.1 533.8,372.4 367.6,377.8 412.5,366.4 408.6,329.1 336.2,369.9 400,345.3 381.4,351.8 318.4,389 373.8,322.8 309.8,384.1 431.3,325.4 373.6,384.1 347.6,367.1 318.4,371.8 381.3,380.6 367.5,371.8 416.9,363.4 439.1,303.9 381.4,380 347.3,390.3 393.6,310.7 321.6,397.9 341.9,378.3 381.4,350.7 333.4,362.4 373.7,327.5 347.1,359.9 400.2,334.9 336.2,360.4 318.4,371.9 396.9,364.5 364.5,370.4 420.4,341.5 336.5,350 354,358.1 397,357.8 439.1,358 367.7,377 378.8,390.4 370.5,342.4 309.9,384.6 438.7,341 357.6,357.5 416.9,384.5 342,361.5 364.4,345.6 393.3,330.2 403.6,387.7 370.6,380 439.1,357.5 403.6,339.4 370.4,382.9 412.3,381.4 439,332.3 408.7,334.1 400.1,393.4 339.2,357.8 412.5,342.4 370.6,357.9 350.2,365.6 378.7,384.4 321.7,371.6 393.6,334.8 367.4,367.4 390.4,373.3 436.3,363 416.8,333.1 376.2,392.1 364.4,361.6 336.3,382.7 384.3,341.9 397,355.3 354.1,370.6 367.7,378.4 393.7,374.6 367.5,338 384.6,389.7 378.4,353.1 330.4,372.1 431.3,366.4 373.8,337.5 378.5,342.9 408.6,345.9 523.5,337.1 378.5,391.2 373.7,394.1 376.2,380.3 360.8,361.9 431.4,346.6 333.3,362.2 533.8,350.7 378.6,380.3 336.2,384.7 417.1,381.1 416.9,379.3 532.8,298.2 364.4,343.3 321.5,361 344.3,393.8 408.8,352.6 339.3,372.6 387.3,332 350.1,354.6 364.3,373.5 309.8,383.6 390.6,348.2 436.3,337.5 420.6,364.5 523.6,348.9 353.9,389.9 342,366 373.7,380.1 347.3,367.8 408.7,355.3 393.4,352.4 412.6,353.4 397,335.9 436.5,342.1 387.1,373.5 412.6,381.2 436.7,372.8 327.1,398.3 431.2,340.6 523.2,326.4 420.6,365.5 373.9,373.4 384.5,392.7 370.2,352.8 376.3,374.3 408.5,376.2 431.5,319.8 321.5,400.7 403.3,356.7 350.3,383.7 350.4,369.8 324.5,377.1 397.1,390.2 339.4,372.5 318.4,382.2 370.4,392.6 408.7,327.1 324.5,393.9 361.2,370.8 353.8,395.4 327.5,392.2 330.4,364.6 330.3,386.6 353.9,376 431.6,342.9 390.2,358.8 378.6,356.8 390.1,376.5 336.5,378.1 333.1,389 397,332.9 357.9,366.5 436.4,341.9 376.4,385.5 378.8,385 350.3,360.6 416.9,356.6 360.9,386.6 350.5,353.4 403.6,354.8 434.4,361.5 354,371.2 390.6,341.3 397.2,369 321.5,369.1 378.6,374 327.6,377.3 330.4,368 324.7,363.1 381.5,389.1 353.8,393.8 324.5,382.7 376.6,350 393.5,391 378.8,376.7 412.3,351.5 373.8,324.9 344.2,380 412.4,358.4 350.6,382 330.3,373.4 357.8,373.4 393.6,345 403.4,388.4 357.9,375.3 336,397 387.1,378.7 358,357.7 361,384.6 364.3,346.6 390.3,393.4 364.4,386.8 416.6,368.6 330.3,382.7 312.8,402.6 381.5,354.5 431.5,328.1 523.5,328.4 381.6,373 357.6,373 339.2,391.3 431.6,353.8 315.4,386.9 333.4,399.2 347.2,377.4 384.4,367 390.4,356 350.2,358.4 327.5,369.2 370.4,358 384.5,361.5 523.7,347.2 370.5,339.9 339.3,382.6 417.2,338.9 367.7,363.7 533.8,319.6 397.2,334 387.5,344.8 318.4,369.4 361.2,352.4 321.4,399.9 376.5,373.5 376.2,384.6 523.5,348.6 399.9,391 376.2,372.9 400,392.2 361,379.7 312.5,393.3 387.4,376.5 436.7,331.8 431.3,371.4 364.2,393.4 396.9,341.2 412.4,340.6 378.6,370.8 312.5,375.7 333.3,391.8 367.5,379.9 373.9,384.6 439,357.5 438.9,301.1 397.1,332.9 332.8,363.9 439,334 434.3,348.5 341.9,375.3 341.8,356.2 393.4,347.6 533.2,318.6 357.7,374.9 357.9,382.1 353.8,363.6 533.3,337.1 438.9,375.1 367.6,365.2 431.3,362 344.2,361.2 387.2,360.3 434.2,367.4 533.3,334.4 350.3,367.8 315.8,398.8 336.2,387.5 436.5,371.9 381.5,346.7 378.7,376.2 367.4,380.5 336.1,365.4 373.8,328.3 353.8,355.7 400.2,334.5 397,388.7 344.1,346.6 412.4,382.2 381.6,369.1 312.4,401.7 370.6,351.2 327.4,374.5 327.5,373.4 438.7,318.5 341.7,390.2 393.7,389.1 339.3,381.1 400,350.1 387.1,371 417.3,341.4 393.3,335.5 373.7,329.9 523.5,336.2 376.2,363.2 350.6,356.3 381.3,371.6 330.2,370.8 376.2,344.8 344.2,371.6 336.2,393.9 417.1,340.3 370.4,377.8 533.4,311.3 336.1,395.8 376.3,349.7 370.5,367 315.3,394.1 347.2,365 384.6,349.5 381.4,383.8 342,384.2 523.6,338.2 364.9,335.4 364.5,373.6 436.5,370.9 431.5,338.3 381.5,385.7 384.5,354.1 431.6,318.8 364.3,375.5 378.4,358.7 364.4,385.7 384.4,357.1 434.1,331.1 367.5,394.3 373.7,392.5 324.6,396 367.4,366.8 387.2,350.9 384.3,344.1 393.6,311.8 393.8,350.4 431.7,315.3 364.5,365.6 397.2,340.2 327.5,392.7 408.6,269.8 420.7,377.3 390.3,336.5 353.7,366.4 431.4,372.4 347.3,361.1 315.7,399.8 354,354.3 397,376.1 390.2,352.5 393.1,356.9 387.3,371.7 332.9,359.4 324.8,366 408.7,314 393.4,313.7 436.8,345.4 376.2,366.2 318.5,391.7 387.1,337.3 357.8,354.6 412.4,384.6 341.7,395.3 330.5,366.9 408.8,379.9 434.1,345.8 360.7,391.9 361,353.4 336.1,352.9 390.1,342.2 361,365.2 408.6,385.6 324.6,372.6 333.2,390.6 341.9,350 350.2,350.5 434.1,372.4 403.7,379 439,300.6 396.8,359.4 412.5,384.6 315.3,401.6 381.4,347.3 390.4,376.9 393.4,332.9 378.7,358.2 390.3,356.9 417.1,365.1 393.4,367.9 327.6,383.6 390.2,368.3 400.3,363.9 318.3,375.7 381.5,383.3 393.7,376.1 357.4,349 361.1,346.5 387.1,336.9 431.5,363.4 347.3,364.2 408.6,373.4 318.3,371.5 339.3,398.6 354.1,348 399.8,337.1 399.9,334.4 344.2,380.3 373.9,355.7 408.7,364.1 387.3,372 341.9,353.4 390.3,342.9 367.4,388.6 533,350.8 378.8,344.9 344.5,394.2 374,361.6 360.9,359.9 412.5,366.5 390.4,343.9 408.6,295.4 397.4,363.4 347.3,370.8 381.6,351.2 341.7,382.1 354.1,370.2 417.1,338.6 408.7,359 420.7,355.3 431.3,347.3 333.3,378.9 364.4,362.1 420.5,378.5 408.7,359 393.4,383.7 373.7,370.3 373.6,372.3 431.6,357 408.6,332.2 341.9,359.8 390.3,375.5 399.6,364.2 393.7,376.3 396.8,383.6 416.9,338.2 438.7,322.1 434.4,341 367.7,350.9 330.2,398.1 321.6,384.1 381.4,362.2 397.2,393.9 438.7,298.9 333.3,365 367.7,385.9 373.6,323.3 400.1,375.3 347.4,382 370.2,353.3 324.5,390.6 439.1,359.5 324.6,394.3 364.3,396.1 523.5,348.5 396.8,388.7 434.2,350.5 393.5,332.1 381.5,388.3 373.6,394.3 376.3,343.5 339.2,363 350.1,386.6 393.5,357.2 436.7,373.2 321.5,388.9 403.5,370 350.4,394.1 523.7,322.1 347.3,356.6 387.3,385.2 393.4,338.6 434.2,363.5 312.5,398.7 420.3,366.8 347.4,385.6 397,332.5 364.4,368.2 361,357.9 361.3,349.6 342.1,383.8 417.1,340.8 384.6,384.1 376.4,394.8 403.8,355.1 309.7,395.7 364.3,364.3 360.8,351.5 387.2,355.7 417,383.5 333.2,370.4 336.4,376.2 336.6,394.1 336.4,373.6 350.2,370.9 400,379.4 396.9,353.9 327.6,383.2 431.4,323.6 350.3,363.8 412.6,373.4 408.7,386.1 347.5,361 381.4,357.6 532.6,326.9 384.6,343.1 438.9,345.9 333.3,393.3 321.7,373.4 344.3,382.2 396.9,365.5 321.5,383.8 434,337.4 332.9,368 393.3,316.1 373.6,367.6 396.9,368.8 333.2,377.8 347.3,392.1 393.5,354.8 393.5,371.4 438.9,309 408.5,374.7 367.7,385.4 347.3,395 357.3,394 330.2,379.9 387.2,373.7 439,338.4 350.2,396.8 533.2,366.2 333.2,355.6 336.2,377.5 344.4,339.4 327.7,385.5 384.2,380.3 373.7,387.5 431.5,369.2 384.7,343.7 439.1,342 364.2,361.6 367.6,362.3 376.6,365.6 327.4,372 403.2,392 376.3,366.7 399.8,335.8 364.4,354 393.5,392.5 347.5,375.7 318.4,383.1 420.6,353.2 420.5,364.7 353.9,369.8 373.4,365.1 417,366.7 384.5,385.8 318.2,378.2 357.5,395.7 376.4,374.3 438.8,307.2 350.3,395.1 321.6,371.8 344.3,343.8 387,368.6 412.5,387.9 390,392.2 412.5,339 408.5,334.1 378.7,372.7 344.4,388.4 434.3,336.1 417.1,365.1 373.5,312.3 400.3,350.7 408.9,380.3 324.3,377.1 341.9,366.9 324.5,373.3 336.4,356.7 350.2,374.2 403.6,380.7 533.3,312.4 438.7,335.3 312.3,378.1 390.3,340.8 364,364.2 367.5,393.1 393.5,355.6 393.6,309.3 318.2,385.8 408.4,362.8 347.4,358.8 393.6,379.3 420.6,352.2 341.9,355.3 387.2,338.6 335.8,364.7 367.6,347.4 350,394.3 417,378.6 384.7,342 364.3,389.5 408.6,366.5 381.4,342.5 378.6,352.1 403.5,363.3 417.1,375.6 373.6,340.1 327.5,370.2 390.4,359.1 341.8,378.1 403.4,382.9 438.9,346.9 533.7,333.5 393.7,330.5 416.9,355.2 387.3,369 357.5,368.9 336.2,369.8 364.2,366.7 341.9,364 373.8,375.1 434.3,335.3 339.3,364.2 412.8,386.3 370.6,348.1 341.6,394.2 417,325.2 387.4,342.7 315.4,385.7 339.3,390 367.4,382.5 327.4,386 433.9,344.4 384.5,371.7 434.1,352 399.7,358.7 364.2,385.5 523.8,324.6 370.4,384.7 367.7,357.1 387.2,361.2 408.8,345.5 336.4,356.1 310,388.6 378.5,356.9 408.7,368.2 439,327.8 378.6,351.6 344.2,395 434.1,363.1 438.9,314.8 324.4,388.1 364.5,346.4 336.4,366.8 327.2,375.8 370.7,341.9 400.1,368.1 321.5,396.6 434.4,338.7 312.4,387.2 333,397.8 347.2,382.3 393.4,337.8 400.1,363.2 403.3,330.9 408.7,329 532.9,354.8 347.3,374.1 342,374.8 436.6,352.4 533.9,318.5 357.7,365.6 370.4,381.1 324.7,394.8 339,389.9 393.4,319.7 438.7,365.8 378.6,350.2 393.4,384.8 373.5,328.6 436.7,336.6 367.5,364.5 370.6,348.5 400.3,343.1 367.3,376.9 347.2,378.9 397.1,378.1 381.4,358.8 439,353 393.3,354.4 347.4,354.4 350.5,381.5 367.5,344.1 327.5,371.2 376.1,354.8 324.6,379.9 434.1,348.9 439,303.5 387.1,371 333.1,385.3 384.8,356.6 403.4,361.3 434.1,337.8 312.7,398.7 438.9,355 434.1,345.5 523.5,328.4 347.4,386 341.8,381 357.5,362.2 333.1,381.8 361,389.9 393.7,351.3 378.5,343.4 321.4,372.1 376.2,382.2 341.8,353.2 397.1,355.7 367.3,342.3 431.5,371 417.2,315.5 324.6,381.2 387.2,384.7 408.4,333.2 364.6,386.1 393.4,325.5 403.5,334.2 364.4,389.6 376.6,384.2 420.4,349.6 330.1,361.9 354,356.6 393.6,366.1 390.1,374 344.1,354.8 384.4,379.9 417.1,337.3 347.3,369.4 350.2,384.5 344.4,383.2 318.4,381.7 408.8,356.8 310,400.9 336.2,371.9 412.5,367.8 384.5,364.6 360.8,360.2 353.9,378.7 384.3,363.5 324.7,392.6 378.9,364.7 327.7,374.1 321.6,397.6 393.4,343.8 344.5,334.9 381.2,392.7 420.7,336 360.9,367.6 408.6,315.6 370.5,339.2 312.5,379.8 353.8,367.7 339.2,353.2 396.9,335.4 434.2,365.4 408.6,345.7 315.4,375.7 434.3,369.2 408.5,349.9 376.3,390.8 431.6,317 420.6,346.1 318.2,402.4 370.6,365.5 321.6,388 350.5,386 523.5,349 378.5,344.9 376.3,388.6 336.3,390.9 533.2,343.5 360.8,396.1 387.2,374.7 390.3,389 315.7,378.2 324.4,388 381.5,338.9 393.6,354.9 339.4,398.6 341.9,358 387.5,344.9 381.5,390.4 376.2,357.7 390.4,387.9 403.3,346.5 336.1,371.3 408.4,373.8 399.7,367.7 393.4,354.8 315.5,375.5 315.2,376.5 339.4,370.6 399.8,341.1 390.2,341.7 390.7,376.9 403.5,352 361.1,360 341.7,357.2 373.7,362.2 370.6,390.1 318.5,375.6 436.6,345 309.5,377.2 367.3,367.7 532.8,302.3 400.1,335.2 393.5,385.1 533.3,339.9 333,383.8 400,334.3 373.6,384.4 370.5,373.5 357.6,395.7 431.7,369 309.8,388.6 341.7,391.3 364.5,395.1 431.5,361.6 403.5,359.2 312.6,399.3 420.4,383.4 327.5,396.4 327.6,391.6 378.6,362.8 412.5,342.8 346.9,377.6 321.5,372.5 376.5,388.9 318.3,392 367.3,339.4 412.4,339.5 420.3,371.1 347.1,363.9 412.5,352.1 393.4,318.3 393.6,370.5 324.4,376.3 367.5,368.4 309.8,380.7 370.4,392 347.1,381.8 397,361.9 350.4,393.7 384.7,342.1 312.5,379.9 431.6,356.5 438.8,315.7 364.3,367.9 373.8,371.5 381.6,380.8 357.9,363.4 400.2,382.4 367.4,379.4 373.7,335.8 358,388.1 408.6,374 312.6,378 403.7,364.4 341.9,366 350.4,393.6 327.7,372.6 393.5,391 357.8,374.7 416.8,349.6 390.5,338.1 408.6,371 400.1,353.6 384.6,382 321.6,382.5 373.8,350.2 347.3,385.7 417,347 397.2,379.4 533.2,337.8 341.8,376.6 397.1,382.6 370.5,389.1 367.4,361.1 390.2,372.4 393.6,307.3 408.6,332.1 367.4,386.8 438.7,309.2 333,382.5 438.8,330.4 357.7,364.4 400.1,388.1 400.2,351.4 378.6,358.7 370.8,383.2 438.9,345.8 339.3,358.1 434.3,347.9 390.1,360.1 387.2,377.6 420.6,351.6 367.4,386.5 318.2,371 350.4,359.4 387.1,392.4 533.6,297.8 439,307.5 341.8,381.7 393.8,366.9 342,384.5 373.8,335.5 434.3,371.2 324.5,361.9 403.5,336.3 412.4,376.6 417.1,324.1 315.5,400.2 438.9,330.1 381.4,348.4 403.5,336.9 341.8,352.3 309.3,382 376.2,384.2 378.6,353.8 327.5,365.6 318.3,362.7 420.4,347.1 523.3,335.1 434.3,365 434.3,360.7 384.3,346.2 343.9,373.3 370.5,351.8 321.3,395.5 420.6,378 381.4,343.3 357.8,387.8 420.4,339.4 357.5,358.7 397.1,376.5 347.3,392.9 364.5,344.1 390.3,342 390.3,385.3 403.6,349.7 390.4,341.2 417.1,339.5 330.5,365.6 378.8,358.2 533.9,352.5 420.1,345.5 344.1,394.5 381.5,362.5 393.5,336.4 378.5,391.1 390.1,362.3 436.6,362.1 333.4,396.5 390,345.9 373.6,335.3 336.3,378.6 344,345.5 438.9,356.8 318.3,403 384.5,367.6 336.5,379.5 412.6,384.1 412.4,360.7 344.3,355.4 417.2,346.8 523.7,324 417,377.9 403.5,379.1 400.1,341 431.6,358.4 370.7,353.8 309.8,379.8 339.2,394 354,365 315.5,401.2 321.4,396 416.9,324 373.5,345.3 361,391.1 367.9,382.8 318.2,373.3 408.4,389.8 347.1,373.4 523.5,347.9 373.8,332.9 378.5,353.4 439.1,360.9 397.1,353.1 370.6,344.4 412.6,388 353.9,395.5 364.4,369 339.3,374.6 390.1,391.3 434.2,351.8 390.7,393.4 408.7,356 361.1,359.4 339.6,362.7 315.6,375 312.4,380.1 436.5,341.6 315.4,388.9 327.4,400.7 417,377 390.3,333 417,329.7 333.2,370.7 397.3,360 436.6,362.7 350.4,384.8 364.2,347.1 350.3,372.2 439,314 381.6,384.5 416.9,330.8 367.3,347.2 420.3,343.9 400.2,390.4 393.3,307.9 373.5,382.6 390.2,352.7 333.2,366.4 370.5,347.6 408.4,323.2 376.4,354 397,373 431.3,325.5 393.3,288.7 350.3,363.2 420.5,340.6 384.6,392.7 533.8,319.9 436.6,336.2 344.4,338.5 344.2,346.3 408.5,335.4 393.5,359.4 417,337.1 439,300.2 310,385.1 408.6,358.2 393.7,301.2 384.5,344.4 339.1,361.6 364.3,347.3 384.6,345.1 439,372 341.5,390 378.6,362.4 367.5,377.2 344.2,381.7 439,316.1 364.5,366.1 412.5,336.5 416.6,324.4 318.3,382.4 420.2,342.8 532.9,336.2 434.1,353.2 354.1,385.2 327.6,385.6 339,354.8 370.6,386.8 330.4,372.4 397.3,391.1 361.1,376.4 434,363.7 309.8,380.9 370.4,338.2 309.9,374.8 393.5,374.9 350.3,355 324.7,386.3 396.9,384.9 367.4,360.6 350.4,392.1 339.5,365.6 434.2,341.9 357.7,362.6 357.5,352.7 400,350.9 438.8,367.9 350.4,385.7 373.8,319 367.5,372.8 344.1,349.2 330.5,362.1 393.5,332.1 381.3,363.6 431.3,339.9 367.6,350.4 367.4,355.8 390.3,389 357.6,375 378.5,361 339.2,388.2 393.5,394.3 436.7,352.4 387.1,345.2 360.9,361.3 436.3,356.3 384.6,384.8 400,369.1 344.1,381.4 381.4,390.8 364.4,349.3 336.6,357.3 350.4,388.7 373.9,359.4 324.5,400.2 350.5,358.7 321.5,385.7 436.7,347.4 431.6,320.7 390.2,332 357.7,393.5 533.7,313 408.8,375.8 315.5,385.5 393.4,336.6 439.1,371.7 364.4,347.3 397.3,355.4 336.1,394.5 373.9,363.7 344.3,345.9 403.3,360.6 434.2,335.3 312.5,392.2 417.1,356.2 315.5,399 339.3,382 333.1,367.4 431.5,358.6 324.6,385.2 312.7,376.3 330.3,388.6 438.8,364.4 333.5,375.4 378.5,362.5 342,357.6 403.4,332.8 387.3,355.3 327.6,398.4 400.3,383.5 357.8,377.6 408.2,355.3 431.6,349.1 333.4,352.8 412.5,382.6 400.1,376.1 324.8,394.2 373.8,331 353.8,375.7 339.4,371.6 431.4,345 399.7,363 336.3,361 533.3,358.9 333.2,394.4 393.6,394.5 393.6,394.6 397.1,334.2 357.6,392.4 321.6,379.8 393.7,325.6 367.5,393.9 330.3,387.4 381.7,357.9 397,365.4 381.2,372.9 376.3,341.1 336.2,373.4 417,358.3 390.4,382.7 420.5,340.6 336.4,395.3 321.8,365.7 321.6,372.9 397.2,369.7 390.1,353.5 390.2,331 436.7,365.4 373.6,376.7 357.6,387.4 533.4,332.4 367.6,368.5 387.2,343.4 390.2,352.8 327.6,386.5 403.4,378.3 360.9,365.5 381.6,387.5 431.7,326.6 390.4,348.9 420.6,367.9 336.3,393.8 353.9,383.3 420.3,354.3 438.6,371.3 321.5,378.9 390.1,354.3 408.7,263.4 367.5,359.4 438.9,311 387.3,343.7 420.6,372.4 336.1,389.1 408.8,272 396.9,357.7 370.6,368.6 350.7,352.5 321.5,394.4 523.7,344.5 364.6,330 373.7,380.5 370.7,346.9 381.6,384.1 339.1,396.3 436.6,341.6 403.6,334.6 373.9,379.9 393.3,359.7 417.1,342.9 318.3,368.6 384.6,346.4 373.5,351.1 397,367.4 420.6,358.4 364.5,347.4 434.2,361 333.1,361.6 417,329.4 376.1,386.6 315.4,373.4 315.4,386.2 403.6,349.9 327.6,382.6 400.1,333.5 523.3,342.9 390.3,332.4 361.1,354 339.3,380.2 373.8,323.5 373.5,363.7 387.2,375.9 523.3,330.9 376.5,370.7 400.2,368 360.8,351.4 373.9,326.6 431.4,322.3 330.4,377.9 420.9,363.9 390.2,352 381.7,354.7 431.4,334.3 393.4,380.3 341.8,355.3 393.3,346.5 330.3,381.2 341.9,377.9 403.6,357.2 523.6,317 361.2,385.4 344.2,394.6 367.6,359.9 403.5,352.1 333.1,375.6 408.6,286.5 408.6,358.1 353.9,351.8 390.1,379.6 324.4,377.5 438.8,340.7 396.9,378.6 327.4,384.2 312.5,373.6 387.2,380.8 386.8,365.9 533,361.5 438.8,327.1 523.3,333.4 341.7,353.4 436.8,360 393.6,316.6 381.7,365.8 408.5,385.3 321.4,370.6 324.6,365.2 438.9,329.7 373.7,355.8 376.3,343.6 332.9,392.1 438.8,330.9 364.2,339.1 361,363 354.1,355.7 364.6,386.2 403.6,353 439.1,318.3 408.5,381.2 373.6,349.7 393.5,322.4 420.6,354.3 350.2,391.7 364.2,341.7 309.9,382.3 412.4,357.3 353.7,352.4 312.6,388.3 364.7,358.2 344.2,357.2 396.9,391.8 361,380.6 364.3,336.8 387.1,380.6 397,381.7 412.5,382.6 399.8,389.5 438.8,357.6 344.1,357.5 367.5,392.7 399.9,378.1 330.3,365.9 397.1,358.1 396.9,334.2 412.5,347.8 370.1,388.2 397.2,371.7 315.8,402.1 390.4,347.7 315.5,402.6 431.4,348.5 378.4,350.2 361.1,386.8 339.3,368 312.6,379.5 431.7,317.7 344,348.5 434.3,373.5 431.6,346 393.3,379.8 309.7,388.4 376.2,388.8 373.5,387.2 364.4,356.8 439,339.9 357.8,390.4 353.9,389.3 330.3,363.9 318.3,384.8 434.2,365 341.8,355.9 315.3,387.9 417,336.9 309.6,400.5 523.3,337.4 523.4,336.7 390.2,370.8 393.6,337.4 384.6,368.7 344.3,368 327.3,391.8 393.5,362.1 378.4,362.7 344.5,353.9 390.3,334.3 315.5,375.2 339.2,388.8 420.4,370.4 361.4,376.5 315.7,390.4 431.8,346.6 330.4,398.6 408.5,370.5 420.3,373.1 417.3,361.5 324.6,370.7 431.4,363.5 354,373.4 431.6,372.1 327.5,384.2 438.9,322.4 321.4,374.8 353.8,379.4 333.1,359.6 324.7,395.1 393.6,327.5 318,392 378.4,374.5 420.7,358 309.6,394.5 384.3,339.1 420.6,347.5 393.3,362.6 330.3,395.3 350.3,379.6 350.4,366.9 370.8,393.1 438.8,345.2 341.8,397.9 357.7,378.7 403.3,360 318.5,390.3 384.2,342.1 309.8,393.9 376,382.3 330.4,385 438.9,320.5 357.8,388.6 393.6,340.9 339.2,390 342.1,355.6 370.3,375.3 431.6,364.4 324.6,395.7 373.6,354.5 315.3,394.1 318.1,369.1 387.1,389.8 408.8,324 327.5,376.1 434.4,334.1 364.4,354.5 412.4,343.2 357.6,379.6 318.3,383.8 358,375.4 357.9,363 367.8,373.9 373.7,388.7 339.3,370.4 312.6,387.3 376.3,341.3 315.5,390 309.6,380 523.6,337.8 327.5,396.9 399.9,370.2 438.9,280.5 408.5,336 364.4,375.5 381.6,385.6 354,380.6 354.1,393.7 321.4,383.4 364.3,341 364.5,350.8 364.1,368 381.6,392.1 408.7,328 315.4,396.3 436.4,359.5 417.1,360 381.6,380.7 315.9,372.3 378.6,349.8 324.6,380.2 431.5,352.2 367.4,396 373.5,340.7 373.5,343.1 431.4,372.3 357.5,369.9 381.4,390.7 397,387.2 378.4,375.3 333.4,345.5 333.3,394.6 341.9,366.6 350.5,359.7 408.6,389.9 420.4,360.2 324.7,383.7 381.4,367.1 370.5,342.4 350.1,355.5 361.1,386.7 399.9,381.1 412.5,354.3 408.8,341.2 336.3,389.8 400.1,327 370.5,364.8 417.1,346.6 318.3,374.7 315.5,376.3 357.6,369.6 378.5,343.8 397,355.3 373.7,340.7 341.7,363.7 376.3,361.9 330.2,392.6 384.5,392.3 434.2,344.7 387.4,350.8 367.3,389.9 386.8,354 370.2,358.3 357.6,359.3 390.2,394.2 384.5,386.8 390.3,342.1 341.7,365 384.2,370.6 412.4,339.9 324.6,367.7 339.4,365 327.8,375.5 330.4,393.6 321.5,374.8 403.5,341.2 344.1,385.5 400.2,373.4 434,375.3 370.6,389.7 431.6,310.9 361.3,361.2 360.9,365.5 341.7,371.7 400.3,363.2 523.6,341.9 439.1,303.8 412.6,330 396.8,345 381.5,385.1 318.4,402 387.3,365.7 373.7,355.3 420.5,365.8 438.7,314.1 381.3,370.9 350.1,397.4 386.9,368.3 321.6,394.2 393.4,314.4 361.4,384.8 408.4,338.4 436.7,340.1 533.2,310.7 327.5,379.3 408.9,338.7 403.5,362.2 333.2,374.8 354,377.1 347.2,386.3 438.7,346.7 399.9,343.5 390.1,350.7 344.2,382.8 436.7,330.9 370.7,387.5 361,346.3 436.5,366.3 360.9,395.1 408.8,309.2 364.2,358.9 312.6,388.8 397,383.9 344.4,389.1 367.3,384.4 438.8,303.1 431.9,313.7 393.3,313.1 393.4,364.4 333.3,372.6 431.5,326 367.3,355.5 318.4,397.4 408.3,339.6 357.6,354.3 533.5,339.1 373.9,351.2 341.9,354 393.7,353.7 436.6,343.4 327.5,390.6 344.1,393.7 347.3,356.1 347.3,375.6 376.1,389.6 373.7,383.1 344.1,338 315.6,402.3 378.7,388.3 347.1,357.1 384.4,389.3 342,391.7 318.4,384.3 420.7,380.3 387.3,356.3 390.3,339.1 364.4,375.9 354,353.4 330.5,363.8 318.6,367.6 324.8,389.2 324.6,366.9 330.1,399.9 376.3,336 533.2,328.1 333.4,388.3 408.6,340.5 434.2,353 378.1,360.8 439,368.5 436.6,359.5 384.5,359.4 360.8,364.6 318.2,388.4 376.1,347.8 408.5,322.7 533.4,355.3 321.5,369.5 370.5,379.1 438.8,342.6 400,348.3 324.5,374.3 390.2,386.5 341.5,379.8 339.3,398.5 393.4,361.3 347.4,383.8 336.4,395.1 438.8,357.9 387.1,340.9 330.2,394.2 341.8,396.6 420.5,371.5 378.3,360.8 434.4,348.1 364.5,382.4 318.2,368.7 439,308.6 373.8,340.2 367.3,350.1 324.8,385.4 408.4,377.3 390.5,382 397,366.3 393.4,394.7 336.2,380.6 342,380.5 399.9,332.1 321.3,379.7 381.6,370.7 324.8,374.1 436.4,367.9 370.7,373.4 403.4,341 312.4,379.9 436.4,375.9 387.2,375.5 370.4,371.7 439.1,315.8 393.3,393 390.5,354.5 381.6,393.1 361.1,366.8 373.6,366.6 376.3,369.1 387.2,347.8 344.2,339.5 393.5,392.3 417.2,322.2 364.3,379.1 330.4,360.1 408.3,318 361,371.9 347.1,370.5 324.8,365.5 378.7,361.2 324.6,381.9 364.4,379.2 438.7,335.7 327.8,365.6 312.6,383.5 347.5,367.6 330.2,389.3 390.4,329 403.5,394 364.5,345.6 324.6,369.8 417.2,385 347.3,381.8 384.5,359 381.4,363 357.7,357.7 370.5,365.6 393.6,302.5 416.9,334 412.5,341.3 333.4,394.3 431.6,354 318.3,385.7 344,341.3 376.4,383.4 393.4,314.1 336.6,373.1 361,348.7 393.6,317.2 341.9,387.4 373.6,370.1 309.6,371 344,359.8 438.8,318.8 408.6,338.1 367.3,352.8 387.1,382.5 400.1,362.1 384.5,391.2 364.3,391.8 417.3,368.1 321.5,380.2 393.4,348.9 393.4,388.1 390.7,367.2 367.6,350.3 378.4,366.7 339.1,390.5 412.6,337.8 439,356.5 393.3,352.8 390.3,387.6 341.9,378.2 309.7,398.4 431.4,347.2 350.4,393.7 361.2,352.5 438.9,369.4 344.2,379.2 344.2,330.7 350.4,385.1 347.3,356.7 315.6,383.7 330.2,381.8 367.4,355.5 336.4,393.1 393.7,299.6 416.9,338 403.5,349 336.4,373.1 364.5,394.5 364.2,356.6 376.6,349.2 370.4,354.5 381.5,386.1 393.8,315 350,373.9 533.2,325.8 390.5,343.7 360.9,360.7 434.2,330 412.4,385 373.4,348.1 390.2,383.2 399.8,357.1 397,330 312.4,389.4 347.5,352.2 436.7,332.3 367.4,357.7 344.4,377.1 393.4,379.5 408.5,351.5 370.5,377.4 370.4,382.5 434.1,349.3 350.7,380.7 357.7,368.2 376.5,364.5 373.4,383 378.6,388.8 357.5,374.4 431.4,322.2 399.9,389.1 412.4,373.9 387.5,354.9 417,333.2 434.5,374.5 321.5,375 378.5,340.5 434.2,361.5 324.6,391.8 333.3,389.9 417,362.3 312.2,380.4 376.3,345.2 390.4,331.2 341.8,385.4 431.7,366.5 361.2,350.8 412.2,378.1 333.4,378.7 384.6,342.4 339.2,353.6 373.8,336.8 408.9,341.7 384.5,382 381.6,387.2 417,350.4 373.7,357 315.4,394.4 420.5,360.8 330.6,388.9 344.1,375.9 420.8,381.1 354,393.4 336.3,390.3 397.1,331.6 387.1,335 318.4,380.2 438.6,324 376.3,384.2 403.6,347.5 376.6,348.1 339.3,394.4 393.3,332.3 384.4,357 321.6,399.2 393.5,357.1 344.2,380.7 408.6,381.6 393.5,347.7 381.4,383.6 324.6,398.2 357.8,381.8 416.9,380.4 370.3,364.5 344.1,381 431.5,347.2 361.2,365.8 347.4,395.4 336.6,394.8 436.5,330.6 333,399.6 403.6,355.4 533.3,336.3 420.6,371.1 318.3,386.1 309.8,393.1 412.5,382.5 357.5,393.1 384.6,363.2 399.8,346.5 420.7,383.9 397,390.9 523.6,326.9 370.5,356 387.3,385.4 378.6,362.6 412.6,337.3 381.9,366.3 416.8,376.4 364.2,371.8 353.8,396.2 367.6,357.4 431.4,337.1 318.4,385.3 343.9,379 420.4,375.4 360.9,376.1 431.5,370.7 373.3,362.7 393.3,323.7 408.5,359.6 417,371.2 393.7,294.6 384.6,357.2 384.3,348.3 321.5,373 373.9,387.1 436.4,351.1 396.9,352.5 376.4,361.2 381.3,375.1 309.8,381.4 361.2,375.3 370.4,351.5 438.9,347.9 397.1,377 381.6,346.2 408.7,334.8 373.8,372.1 436.6,343.6 403.4,359 339.1,352.8 439,359.5 336.5,377.4 350.5,396.4 403.7,325 373.6,333.7 393.4,391.2 370.4,373.5 360.8,388.4 378.5,375.6 370.3,359.3 523.5,339.9 344.1,344.3 364.5,394.9 330.1,384.8 347.3,372.4 403.8,376.5 412.7,334.5 387.1,375.5 336.2,383.4 350.5,379 360.7,349.2 354.2,395.4 333.2,381.7 330.3,364.4 390.5,360.1 439,331.6 436.7,372.5 387.2,376.5 387.3,389.3 327.6,361.5 370.4,369.4 373.8,366.4 361,396.3 408.5,340.7 399.7,329.3 330.1,380.1 344.2,372.4 431.3,325.8 327.4,365 399.7,361.9 321.6,369.9 330.3,378.1 336.1,371.3 403.7,331.1 353.9,364.3 438.9,333 353.9,391.4 420.4,360.8 315.4,391.3 408.4,358.8 350.6,378.3 390.4,354.4 341.9,361.2 408.5,364.7 376.4,371.4 350.4,374.5 350.5,396.2 378.7,391 431.4,371.7 381.4,382.9 533.3,344.8 408.6,358.3 400,344.9 434.3,363.7 431.7,327.8 431.3,314.8 354,388.9 390.6,371.7 324.5,401.8 412.4,332 364.2,373.6 403.5,388.2 400,355.7 315.7,393.3 397.1,387.8 312.6,395.9 523.2,321.3 431.3,321.9 370.5,373.4 330.5,362 431.6,313.3 412.5,359 321.7,385.7 431.5,370.6 390.5,387.9 403.2,361.2"/>
</g>
<g opacity="0.38" filter="url(#b2)"><path d="M309.8 378V399.5M312.5 376V400.5M315.5 374V400.5M318.4 372V400.5M321.5 369V399.5M324.6 365V399.5M327.5 365V398.5M330.3 363V397.5M333.2 356V397.5M336.3 358V396.5M339.3 350V396.5M341.8 357V395.5M344.2 342V395.5M347.3 354V395.5M350.4 353V395.5M354 355V395.5M357.7 356V395.5M361 350V394.5M364.4 338V394.5M367.5 346V394.5M370.5 342V394.5M373.7 327V393.5M376.3 344V393.5M378.6 347V393.5M381.5 345V392.5M384.5 343V392.5M387.2 339V392.5M390.3 332V392.5M393.5 307V392.5M397 332V391.5M400 335V391.5M403.5 334V391.5M408.6 320V387.5M412.5 338V385.5M417 326V382.5M420.5 343V381.5M431.5 314V372.5M434.2 338V373.5M436.6 334V375.5M438.9 304V374.5M523.5 324V347.5" stroke="#a80808" stroke-width="5.4" stroke-linecap="round" fill="none"/></g>
<path d="M309 388.6L533 322.3" stroke="#000" stroke-width="2.7" stroke-linecap="round" fill="none"/>
<path d="M309 388.5L533 321" stroke="#e41212" stroke-width="2.7" stroke-linecap="round" fill="none"/>
</g>
<rect x="304.3" y="253.8" width="80.3" height="30.2" rx="1.6" fill="#fff" fill-opacity=".8" stroke="#dedede" stroke-opacity=".8" stroke-width=".8"/>
<g filter="url(#b)"><circle class="k" cx="318.8" cy="261.8" r="3.4"/><circle class="r" cx="318.8" cy="276" r="3.4"/></g>
<text class="s" x="337.4" y="264.6">Prediction</text><text class="s" x="337.4" y="278.8">Real</text>
<text class="s" x="385.2" y="264.6"><tspan class="i" font-size="12.4">r</tspan><tspan class="i" font-size="7.2" dy="3">predicted</tspan><tspan dy="-3" style="font-size:9.9px">= 0.69</tspan></text>
<text class="s" x="385.2" y="280.4"><tspan class="i" font-size="12.4">r</tspan><tspan class="i" font-size="7.2" dy="3">real</tspan><tspan dy="-3" style="font-size:9.9px">= 0.69</tspan></text>
<rect x="300" y="248.6" width="244.4" height="162.3" fill="none" stroke="#1c1c1c" stroke-width="1.3"/>
<text class="s" x="329" y="425.4" text-anchor="middle">0.2</text><text class="s" x="362.1" y="425.4" text-anchor="middle">0.4</text><text class="s" x="395.2" y="425.4" text-anchor="middle">0.6</text><text class="s" x="428.3" y="425.4" text-anchor="middle">0.8</text><text class="s" x="461.4" y="425.4" text-anchor="middle">1.0</text><text class="s" x="494.5" y="425.4" text-anchor="middle">1.2</text><text class="s" x="527.6" y="425.4" text-anchor="middle">1.4</text>
<text class="s" style="font-size:10.8px" x="422.2" y="439.2" text-anchor="middle"><tspan class="i" style="font-size:11.2px">PGA</tspan> (g)</text>
</g>
</svg>
</body></html>
